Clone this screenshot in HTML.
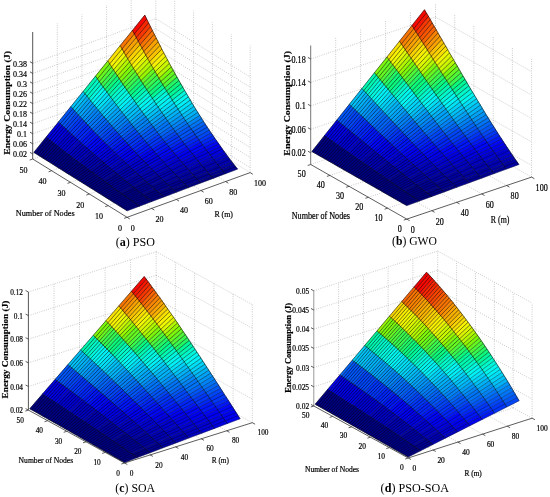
<!DOCTYPE html>
<html><head><meta charset="utf-8"><title>Energy consumption</title>
<style>html,body{margin:0;padding:0;background:#fff}svg{display:block}</style></head>
<body>
<svg width="550" height="497" viewBox="0 0 550 497">
<rect width="550" height="497" fill="#fff"/>
<g>
<path d="M57.3 150.1L57.3 23.1M81.9 141.1L81.9 14.1M106.6 132.2L106.6 5.2M131.2 123.2L131.2 -3.8M155.8 114.3L155.8 -12.7M32.7 154L155.8 109.3M155.8 109.3L250.2 167.6M32.7 143.9L155.8 99.2M155.8 99.2L250.2 157.5M32.7 133.8L155.8 89.2M155.8 89.2L250.2 147.5M32.7 123.8L155.8 79.1M155.8 79.1L250.2 137.4M32.7 113.7L155.8 69M155.8 69L250.2 127.3M32.7 103.7L155.8 59M155.8 59L250.2 117.3M32.7 93.6L155.8 48.9M155.8 48.9L250.2 107.2M32.7 83.5L155.8 38.9M155.8 38.9L250.2 97.2M32.7 73.5L155.8 28.8M155.8 28.8L250.2 87.1M32.7 63.4L155.8 18.7M155.8 18.7L250.2 77M174.7 126L174.7 -1M193.6 137.6L193.6 10.6M212.4 149.3L212.4 22.3M231.3 160.9L231.3 33.9M250.2 172.6L250.2 45.6M151.7 208.4L57.3 150.1M176.3 199.4L81.9 141.1M201 190.5L106.6 132.2M225.6 181.5L131.2 123.2M250.2 172.6L155.8 114.3M108.2 205.6L231.3 160.9M89.3 194L212.4 149.3M70.5 182.3L193.6 137.6M51.6 170.7L174.7 126M32.7 159L155.8 114.3" fill="none" stroke="#8a8a8a" stroke-width="0.5" stroke-dasharray="0.9 1.4"/>
<path d="M32.7 32L32.7 159" fill="none" stroke="#555" stroke-width="1"/>
<path d="M32.7 159L127.1 217.3L250.2 172.6M32.7 154l-2.7 -1.7M32.7 143.9l-2.7 -1.7M32.7 133.8l-2.7 -1.7M32.7 123.8l-2.7 -1.7M32.7 113.7l-2.7 -1.7M32.7 103.7l-2.7 -1.7M32.7 93.6l-2.7 -1.7M32.7 83.5l-2.7 -1.7M32.7 73.5l-2.7 -1.7M32.7 63.4l-2.7 -1.7M127.1 217.3l-3 1.1M108.2 205.6l-3 1.1M89.3 194l-3 1.1M70.5 182.3l-3 1.1M51.6 170.7l-3 1.1M32.7 159l-3 1.1M127.1 217.3l2.7 1.7M151.7 208.4l2.7 1.7M176.3 199.4l2.7 1.7M201 190.5l2.7 1.7M225.6 181.5l2.7 1.7M250.2 172.6l2.7 1.7" fill="none" stroke="#333" stroke-width="0.8"/>
<path d="M127.1 210.8L125.2 209.6L123.3 208.4L121.4 207.2L119.5 206L117.6 204.8L115.7 203.6L113.8 202.5L111.9 201.3L110 200.1L108.1 198.9L106.2 197.7L104.3 196.5L102.4 195.3L100.5 194.1L98.6 192.9L96.7 191.7L94.8 190.5L92.9 189.3L91 188.2L89.1 187L87.2 185.8L85.3 184.6L83.4 183.4L81.5 182.2L79.5 181L77.6 179.8L75.7 178.6L73.8 177.4L71.9 176.2L70 175L68.1 173.9L66.2 172.7L64.3 171.5L62.4 170.3L60.5 169.1L58.6 167.9L56.7 166.7L54.8 165.5L52.9 164.3L51 163.1L49.1 161.9L47.2 160.7L45.3 159.6L43.4 158.4L41.5 157.2L39.6 156L37.7 154.8L35.8 153.6L33.9 152.4L46.2 137.1L48.1 138.6L50 140.1L51.9 141.6L53.8 143.1L55.7 144.6L57.6 146L59.5 147.5L61.4 149L63.3 150.5L65.2 151.9L67.1 153.4L69 154.8L70.9 156.3L72.8 157.7L74.7 159.2L76.6 160.6L78.5 162L80.4 163.5L82.3 164.9L84.2 166.3L86.1 167.8L88 169.2L89.9 170.6L91.8 172L93.8 173.4L95.7 174.8L97.6 176.2L99.5 177.6L101.4 179L103.3 180.4L105.2 181.8L107.1 183.2L109 184.6L110.9 185.9L112.8 187.3L114.7 188.7L116.6 190L118.5 191.4L120.4 192.8L122.3 194.1L124.2 195.5L126.1 196.8L128 198.2L129.9 199.5L131.8 200.8L133.7 202.2L135.6 203.5L137.5 204.8L139.4 206.2z" fill="#000083" stroke="#000083" stroke-width="0.4"/>
<path d="M139.4 206.2L137.5 204.8L135.6 203.5L133.7 202.2L131.8 200.8L129.9 199.5L128 198.2L126.1 196.8L124.2 195.5L122.3 194.1L120.4 192.8L132.7 186.7L134.6 188.2L136.5 189.7L138.4 191.2L140.3 192.7L142.2 194.2L144.1 195.7L146 197.1L147.9 198.6L149.8 200.1L151.7 201.5z" fill="#000083" stroke="#000083" stroke-width="0.4"/>
<path d="M120.4 192.8L118.5 191.4L116.6 190L114.7 188.7L112.8 187.3L110.9 185.9L109 184.6L107.1 183.2L105.2 181.8L103.3 180.4L115.6 172.7L117.5 174.2L119.4 175.8L121.3 177.4L123.2 178.9L125.1 180.5L127 182L128.9 183.6L130.8 185.1L132.7 186.7z" fill="#000093" stroke="#000093" stroke-width="0.4"/>
<path d="M103.3 180.4L101.4 179L99.5 177.6L97.6 176.2L95.7 174.8L93.8 173.4L91.8 172L89.9 170.6L102.2 161.4L104.1 163L106.1 164.6L108 166.3L109.9 167.9L111.8 169.5L113.7 171.1L115.6 172.7z" fill="#0000a2" stroke="#0000a2" stroke-width="0.4"/>
<path d="M89.9 170.6L88 169.2L86.1 167.8L84.2 166.3L82.3 164.9L80.4 163.5L78.5 162L90.8 151.4L92.7 153.1L94.6 154.8L96.5 156.4L98.4 158.1L100.3 159.7L102.2 161.4z" fill="#0000b2" stroke="#0000b2" stroke-width="0.4"/>
<path d="M78.5 162L76.6 160.6L74.7 159.2L72.8 157.7L70.9 156.3L69 154.8L67.1 153.4L79.4 141.2L81.3 143L83.2 144.7L85.1 146.4L87 148.1L88.9 149.8L90.8 151.4z" fill="#0000c1" stroke="#0000c1" stroke-width="0.4"/>
<path d="M67.1 153.4L65.2 151.9L63.3 150.5L61.4 149L59.5 147.5L57.6 146L55.7 144.6L68 130.8L69.9 132.5L71.8 134.3L73.7 136L75.6 137.8L77.5 139.5L79.4 141.2z" fill="#0000d1" stroke="#0000d1" stroke-width="0.4"/>
<path d="M55.7 144.6L53.8 143.1L51.9 141.6L50 140.1L48.1 138.6L46.2 137.1L58.5 121.9L60.4 123.7L62.3 125.5L64.2 127.3L66.1 129L68 130.8z" fill="#0000e0" stroke="#0000e0" stroke-width="0.4"/>
<path d="M151.7 201.5L149.8 200.1L147.9 198.6L146 197.1L144.1 195.7L142.2 194.2L154.4 188.8L156.3 190.5L158.2 192.1L160.1 193.7L162 195.3L163.9 196.9z" fill="#000083" stroke="#000083" stroke-width="0.4"/>
<path d="M142.2 194.2L140.3 192.7L138.4 191.2L136.5 189.7L134.6 188.2L132.7 186.7L144.9 180.5L146.8 182.2L148.7 183.9L150.6 185.6L152.5 187.2L154.4 188.8z" fill="#000093" stroke="#000093" stroke-width="0.4"/>
<path d="M132.7 186.7L130.8 185.1L128.9 183.6L127 182L125.1 180.5L137.3 173.7L139.2 175.4L141.1 177.1L143 178.8L144.9 180.5z" fill="#0000a2" stroke="#0000a2" stroke-width="0.4"/>
<path d="M125.1 180.5L123.2 178.9L121.3 177.4L119.4 175.8L117.5 174.2L115.6 172.7L127.8 164.9L129.7 166.7L131.6 168.5L133.5 170.2L135.4 172L137.3 173.7z" fill="#0000b2" stroke="#0000b2" stroke-width="0.4"/>
<path d="M115.6 172.7L113.7 171.1L111.8 169.5L109.9 167.9L122.1 159.5L124 161.3L125.9 163.1L127.8 164.9z" fill="#0000c1" stroke="#0000c1" stroke-width="0.4"/>
<path d="M109.9 167.9L108 166.3L106.1 164.6L104.1 163L102.2 161.4L114.6 152.2L116.5 154L118.3 155.9L120.2 157.7L122.1 159.5z" fill="#0000d1" stroke="#0000d1" stroke-width="0.4"/>
<path d="M102.2 161.4L100.3 159.7L98.4 158.1L96.5 156.4L108.9 146.5L110.8 148.4L112.7 150.3L114.6 152.2z" fill="#0000e0" stroke="#0000e0" stroke-width="0.4"/>
<path d="M96.5 156.4L94.6 154.8L92.7 153.1L90.8 151.4L103.2 140.8L105.1 142.7L107 144.6L108.9 146.5z" fill="#0000f0" stroke="#0000f0" stroke-width="0.4"/>
<path d="M90.8 151.4L88.9 149.8L87 148.1L85.1 146.4L97.5 135L99.4 137L101.3 138.9L103.2 140.8z" fill="#0008f7" stroke="#0008f7" stroke-width="0.4"/>
<path d="M85.1 146.4L83.2 144.7L81.3 143L79.4 141.2L91.8 129.1L93.7 131.1L95.6 133.1L97.5 135z" fill="#0017f7" stroke="#0017f7" stroke-width="0.4"/>
<path d="M79.4 141.2L77.5 139.5L75.6 137.8L73.7 136L86.1 123.1L88 125.1L89.9 127.1L91.8 129.1z" fill="#0027f7" stroke="#0027f7" stroke-width="0.4"/>
<path d="M73.7 136L71.8 134.3L69.9 132.5L68 130.8L80.4 117L82.3 119L84.2 121.1L86.1 123.1z" fill="#0036f7" stroke="#0036f7" stroke-width="0.4"/>
<path d="M68 130.8L66.1 129L64.2 127.3L76.6 112.9L78.5 115L80.4 117z" fill="#0046f7" stroke="#0046f7" stroke-width="0.4"/>
<path d="M64.2 127.3L62.3 125.5L60.4 123.7L58.5 121.9L70.9 106.6L72.8 108.7L74.7 110.8L76.6 112.9z" fill="#0055f7" stroke="#0055f7" stroke-width="0.4"/>
<path d="M163.9 196.9L162 195.3L160.1 193.7L158.2 192.1L170.5 187.1L172.4 188.8L174.3 190.5L176.2 192.3z" fill="#000083" stroke="#000083" stroke-width="0.4"/>
<path d="M158.2 192.1L156.3 190.5L154.4 188.8L152.5 187.2L150.6 185.6L162.9 179.9L164.8 181.7L166.7 183.5L168.6 185.3L170.5 187.1z" fill="#000093" stroke="#000093" stroke-width="0.4"/>
<path d="M150.6 185.6L148.7 183.9L146.8 182.2L144.9 180.5L157.2 174.4L159.1 176.3L161 178.1L162.9 179.9z" fill="#0000a2" stroke="#0000a2" stroke-width="0.4"/>
<path d="M144.9 180.5L143 178.8L141.1 177.1L139.2 175.4L151.5 168.8L153.4 170.7L155.3 172.6L157.2 174.4z" fill="#0000b2" stroke="#0000b2" stroke-width="0.4"/>
<path d="M139.2 175.4L137.3 173.7L135.4 172L133.5 170.2L145.8 163L147.7 165L149.6 166.9L151.5 168.8z" fill="#0000c1" stroke="#0000c1" stroke-width="0.4"/>
<path d="M133.5 170.2L131.6 168.5L129.7 166.7L127.8 164.9L140.1 157.2L142 159.1L143.9 161.1L145.8 163z" fill="#0000d1" stroke="#0000d1" stroke-width="0.4"/>
<path d="M127.8 164.9L125.9 163.1L124 161.3L136.3 153.2L138.2 155.2L140.1 157.2z" fill="#0000e0" stroke="#0000e0" stroke-width="0.4"/>
<path d="M124 161.3L122.1 159.5L120.2 157.7L118.3 155.9L130.6 147.1L132.5 149.1L134.4 151.1L136.3 153.2z" fill="#0000f0" stroke="#0000f0" stroke-width="0.4"/>
<path d="M118.3 155.9L116.5 154L114.6 152.2L126.9 142.9L128.8 145L130.6 147.1z" fill="#0008f7" stroke="#0008f7" stroke-width="0.4"/>
<path d="M114.6 152.2L112.7 150.3L110.8 148.4L123.1 138.8L125 140.9L126.9 142.9z" fill="#0017f7" stroke="#0017f7" stroke-width="0.4"/>
<path d="M110.8 148.4L108.9 146.5L107 144.6L119.3 134.5L121.2 136.6L123.1 138.8z" fill="#0027f7" stroke="#0027f7" stroke-width="0.4"/>
<path d="M107 144.6L105.1 142.7L103.2 140.8L115.5 130.2L117.4 132.4L119.3 134.5z" fill="#0036f7" stroke="#0036f7" stroke-width="0.4"/>
<path d="M103.2 140.8L101.3 138.9L99.4 137L111.7 125.8L113.6 128L115.5 130.2z" fill="#0046f7" stroke="#0046f7" stroke-width="0.4"/>
<path d="M99.4 137L97.5 135L95.6 133.1L107.9 121.4L109.8 123.6L111.7 125.8z" fill="#0055f7" stroke="#0055f7" stroke-width="0.4"/>
<path d="M95.6 133.1L93.7 131.1L91.8 129.1L104.1 117L106 119.2L107.9 121.4z" fill="#0064f7" stroke="#0064f7" stroke-width="0.4"/>
<path d="M91.8 129.1L89.9 127.1L88 125.1L100.3 112.4L102.2 114.7L104.1 117z" fill="#0074f7" stroke="#0074f7" stroke-width="0.4"/>
<path d="M88 125.1L86.1 123.1L84.2 121.1L96.5 107.9L98.4 110.2L100.3 112.4z" fill="#0083f7" stroke="#0083f7" stroke-width="0.4"/>
<path d="M84.2 121.1L82.3 119L80.4 117L92.7 103.2L94.6 105.5L96.5 107.9z" fill="#0093f7" stroke="#0093f7" stroke-width="0.4"/>
<path d="M80.4 117L78.5 115L76.6 112.9L88.9 98.5L90.8 100.9L92.7 103.2z" fill="#00a2f7" stroke="#00a2f7" stroke-width="0.4"/>
<path d="M76.6 112.9L74.7 110.8L87 96.2L88.9 98.5z" fill="#00b2f7" stroke="#00b2f7" stroke-width="0.4"/>
<path d="M74.7 110.8L72.8 108.7L70.9 106.6L83.2 91.4L85.1 93.8L87 96.2z" fill="#00c1f7" stroke="#00c1f7" stroke-width="0.4"/>
<path d="M176.2 192.3L174.3 190.5L172.4 188.8L184.7 183.9L186.6 185.8L188.5 187.6z" fill="#000083" stroke="#000083" stroke-width="0.4"/>
<path d="M172.4 188.8L170.5 187.1L168.6 185.3L166.7 183.5L179 178.2L180.9 180.1L182.8 182L184.7 183.9z" fill="#000093" stroke="#000093" stroke-width="0.4"/>
<path d="M166.7 183.5L164.8 181.7L162.9 179.9L175.2 174.3L177.1 176.2L179 178.2z" fill="#0000a2" stroke="#0000a2" stroke-width="0.4"/>
<path d="M162.9 179.9L161 178.1L159.1 176.3L157.2 174.4L169.5 168.3L171.4 170.3L173.3 172.3L175.2 174.3z" fill="#0000b2" stroke="#0000b2" stroke-width="0.4"/>
<path d="M157.2 174.4L155.3 172.6L153.4 170.7L165.7 164.2L167.6 166.3L169.5 168.3z" fill="#0000c1" stroke="#0000c1" stroke-width="0.4"/>
<path d="M153.4 170.7L151.5 168.8L149.6 166.9L161.9 160.1L163.8 162.2L165.7 164.2z" fill="#0000d1" stroke="#0000d1" stroke-width="0.4"/>
<path d="M149.6 166.9L147.7 165L145.8 163L143.9 161.1L156.2 153.7L158.1 155.9L160 158L161.9 160.1z" fill="#0000e0" stroke="#0000e0" stroke-width="0.4"/>
<path d="M143.9 161.1L142 159.1L140.1 157.2L152.4 149.4L154.3 151.6L156.2 153.7z" fill="#0000f0" stroke="#0000f0" stroke-width="0.4"/>
<path d="M140.1 157.2L138.2 155.2L150.5 147.2L152.4 149.4z" fill="#0008f7" stroke="#0008f7" stroke-width="0.4"/>
<path d="M138.2 155.2L136.3 153.2L134.4 151.1L146.7 142.8L148.6 145L150.5 147.2z" fill="#0017f7" stroke="#0017f7" stroke-width="0.4"/>
<path d="M134.4 151.1L132.5 149.1L130.6 147.1L142.9 138.3L144.8 140.5L146.7 142.8z" fill="#0027f7" stroke="#0027f7" stroke-width="0.4"/>
<path d="M130.6 147.1L128.8 145L126.9 142.9L139.2 133.7L141.1 136L142.9 138.3z" fill="#0036f7" stroke="#0036f7" stroke-width="0.4"/>
<path d="M126.9 142.9L125 140.9L123.1 138.8L135.4 129.1L137.3 131.4L139.2 133.7z" fill="#0046f7" stroke="#0046f7" stroke-width="0.4"/>
<path d="M123.1 138.8L121.2 136.6L133.5 126.7L135.4 129.1z" fill="#0055f7" stroke="#0055f7" stroke-width="0.4"/>
<path d="M121.2 136.6L119.3 134.5L117.4 132.4L129.7 122L131.6 124.4L133.5 126.7z" fill="#0064f7" stroke="#0064f7" stroke-width="0.4"/>
<path d="M117.4 132.4L115.5 130.2L127.8 119.6L129.7 122z" fill="#0074f7" stroke="#0074f7" stroke-width="0.4"/>
<path d="M115.5 130.2L113.6 128L111.7 125.8L124 114.7L125.9 117.2L127.8 119.6z" fill="#0083f7" stroke="#0083f7" stroke-width="0.4"/>
<path d="M111.7 125.8L109.8 123.6L122.1 112.3L124 114.7z" fill="#0093f7" stroke="#0093f7" stroke-width="0.4"/>
<path d="M109.8 123.6L107.9 121.4L106 119.2L118.3 107.3L120.2 109.8L122.1 112.3z" fill="#00a2f7" stroke="#00a2f7" stroke-width="0.4"/>
<path d="M106 119.2L104.1 117L116.4 104.8L118.3 107.3z" fill="#00b2f7" stroke="#00b2f7" stroke-width="0.4"/>
<path d="M104.1 117L102.2 114.7L100.3 112.4L112.6 99.8L114.5 102.3L116.4 104.8z" fill="#00c1f7" stroke="#00c1f7" stroke-width="0.4"/>
<path d="M100.3 112.4L98.4 110.2L110.7 97.2L112.6 99.8z" fill="#00d1f7" stroke="#00d1f7" stroke-width="0.4"/>
<path d="M98.4 110.2L96.5 107.9L94.6 105.5L106.9 92L108.8 94.6L110.7 97.2z" fill="#00e0f7" stroke="#00e0f7" stroke-width="0.4"/>
<path d="M94.6 105.5L92.7 103.2L105 89.4L106.9 92z" fill="#00f0f7" stroke="#00f0f7" stroke-width="0.4"/>
<path d="M92.7 103.2L90.8 100.9L103.1 86.8L105 89.4z" fill="#00f7ef" stroke="#00f7ef" stroke-width="0.4"/>
<path d="M90.8 100.9L88.9 98.5L101.2 84.2L103.1 86.8z" fill="#00f7de" stroke="#00f7de" stroke-width="0.4"/>
<path d="M88.9 98.5L87 96.2L85.1 93.8L97.4 78.8L99.3 81.5L101.2 84.2z" fill="#00f7ca" stroke="#00f7ca" stroke-width="0.4"/>
<path d="M85.1 93.8L83.2 91.4L95.5 76.1L97.4 78.8z" fill="#00f7b2" stroke="#00f7b2" stroke-width="0.4"/>
<path d="M188.5 187.6L186.6 185.8L198.9 181L200.8 183z" fill="#000083" stroke="#000083" stroke-width="0.4"/>
<path d="M186.6 185.8L184.7 183.9L182.8 182L180.9 180.1L193.2 174.9L195.1 177L197 179L198.9 181z" fill="#000093" stroke="#000093" stroke-width="0.4"/>
<path d="M180.9 180.1L179 178.2L177.1 176.2L189.4 170.8L191.3 172.9L193.2 174.9z" fill="#0000a2" stroke="#0000a2" stroke-width="0.4"/>
<path d="M177.1 176.2L175.2 174.3L173.3 172.3L185.6 166.5L187.5 168.7L189.4 170.8z" fill="#0000b2" stroke="#0000b2" stroke-width="0.4"/>
<path d="M173.3 172.3L171.4 170.3L169.5 168.3L181.8 162.2L183.7 164.4L185.6 166.5z" fill="#0000c1" stroke="#0000c1" stroke-width="0.4"/>
<path d="M169.5 168.3L167.6 166.3L165.7 164.2L178 157.8L179.9 160L181.8 162.2z" fill="#0000d1" stroke="#0000d1" stroke-width="0.4"/>
<path d="M165.7 164.2L163.8 162.2L161.9 160.1L174.2 153.3L176.1 155.5L178 157.8z" fill="#0000e0" stroke="#0000e0" stroke-width="0.4"/>
<path d="M161.9 160.1L160 158L172.3 151L174.2 153.3z" fill="#0000f0" stroke="#0000f0" stroke-width="0.4"/>
<path d="M160 158L158.1 155.9L156.2 153.7L168.5 146.4L170.4 148.7L172.3 151z" fill="#0008f7" stroke="#0008f7" stroke-width="0.4"/>
<path d="M156.2 153.7L154.3 151.6L152.4 149.4L164.7 141.7L166.6 144L168.5 146.4z" fill="#0017f7" stroke="#0017f7" stroke-width="0.4"/>
<path d="M152.4 149.4L150.5 147.2L162.8 139.3L164.7 141.7z" fill="#0027f7" stroke="#0027f7" stroke-width="0.4"/>
<path d="M150.5 147.2L148.6 145L146.7 142.8L159 134.4L160.9 136.9L162.8 139.3z" fill="#0036f7" stroke="#0036f7" stroke-width="0.4"/>
<path d="M146.7 142.8L144.8 140.5L157.1 132L159 134.4z" fill="#0046f7" stroke="#0046f7" stroke-width="0.4"/>
<path d="M144.8 140.5L142.9 138.3L141.1 136L153.4 127L155.2 129.5L157.1 132z" fill="#0055f7" stroke="#0055f7" stroke-width="0.4"/>
<path d="M141.1 136L139.2 133.7L151.5 124.5L153.4 127z" fill="#0064f7" stroke="#0064f7" stroke-width="0.4"/>
<path d="M139.2 133.7L137.3 131.4L149.6 122L151.5 124.5z" fill="#0074f7" stroke="#0074f7" stroke-width="0.4"/>
<path d="M137.3 131.4L135.4 129.1L133.5 126.7L145.8 116.8L147.7 119.4L149.6 122z" fill="#0083f7" stroke="#0083f7" stroke-width="0.4"/>
<path d="M133.5 126.7L131.6 124.4L143.9 114.2L145.8 116.8z" fill="#0093f7" stroke="#0093f7" stroke-width="0.4"/>
<path d="M131.6 124.4L129.7 122L142 111.6L143.9 114.2z" fill="#00a2f7" stroke="#00a2f7" stroke-width="0.4"/>
<path d="M129.7 122L127.8 119.6L140.1 109L142 111.6z" fill="#00b2f7" stroke="#00b2f7" stroke-width="0.4"/>
<path d="M127.8 119.6L125.9 117.2L124 114.7L136.3 103.6L138.2 106.3L140.1 109z" fill="#00c1f7" stroke="#00c1f7" stroke-width="0.4"/>
<path d="M124 114.7L122.1 112.3L134.4 100.9L136.3 103.6z" fill="#00d1f7" stroke="#00d1f7" stroke-width="0.4"/>
<path d="M122.1 112.3L120.2 109.8L132.5 98.2L134.4 100.9z" fill="#00e0f7" stroke="#00e0f7" stroke-width="0.4"/>
<path d="M120.2 109.8L118.3 107.3L130.6 95.5L132.5 98.2z" fill="#00f0f7" stroke="#00f0f7" stroke-width="0.4"/>
<path d="M118.3 107.3L116.4 104.8L128.7 92.7L130.6 95.5z" fill="#00f7ef" stroke="#00f7ef" stroke-width="0.4"/>
<path d="M116.4 104.8L114.5 102.3L112.6 99.8L124.9 87.1L126.8 89.9L128.7 92.7z" fill="#00f7de" stroke="#00f7de" stroke-width="0.4"/>
<path d="M112.6 99.8L110.7 97.2L123 84.3L124.9 87.1z" fill="#00f7ca" stroke="#00f7ca" stroke-width="0.4"/>
<path d="M110.7 97.2L108.8 94.6L121.1 81.4L123 84.3z" fill="#00f7b2" stroke="#00f7b2" stroke-width="0.4"/>
<path d="M108.8 94.6L106.9 92L119.2 78.5L121.1 81.4z" fill="#00f797" stroke="#00f797" stroke-width="0.4"/>
<path d="M106.9 92L105 89.4L117.3 75.7L119.2 78.5z" fill="#0cf77c" stroke="#0cf77c" stroke-width="0.4"/>
<path d="M105 89.4L103.1 86.8L115.4 72.7L117.3 75.7z" fill="#22f766" stroke="#22f766" stroke-width="0.4"/>
<path d="M103.1 86.8L101.2 84.2L113.5 69.8L115.4 72.7z" fill="#39f74f" stroke="#39f74f" stroke-width="0.4"/>
<path d="M101.2 84.2L99.3 81.5L111.6 66.8L113.5 69.8z" fill="#4ff739" stroke="#4ff739" stroke-width="0.4"/>
<path d="M99.3 81.5L97.4 78.8L109.7 63.9L111.6 66.8z" fill="#66f722" stroke="#66f722" stroke-width="0.4"/>
<path d="M97.4 78.8L95.5 76.1L107.8 60.9L109.7 63.9z" fill="#7cf70c" stroke="#7cf70c" stroke-width="0.4"/>
<path d="M200.8 183L198.9 181L211.1 176.2L213 178.4z" fill="#000083" stroke="#000083" stroke-width="0.4"/>
<path d="M198.9 181L197 179L195.1 177L207.4 171.9L209.3 174.1L211.1 176.2z" fill="#000093" stroke="#000093" stroke-width="0.4"/>
<path d="M195.1 177L193.2 174.9L191.3 172.9L203.6 167.5L205.5 169.7L207.4 171.9z" fill="#0000a2" stroke="#0000a2" stroke-width="0.4"/>
<path d="M191.3 172.9L189.4 170.8L187.5 168.7L199.8 163L201.7 165.3L203.6 167.5z" fill="#0000b2" stroke="#0000b2" stroke-width="0.4"/>
<path d="M187.5 168.7L185.6 166.5L197.9 160.7L199.8 163z" fill="#0000c1" stroke="#0000c1" stroke-width="0.4"/>
<path d="M185.6 166.5L183.7 164.4L181.8 162.2L194.1 156.1L196 158.4L197.9 160.7z" fill="#0000d1" stroke="#0000d1" stroke-width="0.4"/>
<path d="M181.8 162.2L179.9 160L192.2 153.7L194.1 156.1z" fill="#0000e0" stroke="#0000e0" stroke-width="0.4"/>
<path d="M179.9 160L178 157.8L176.1 155.5L188.4 148.9L190.3 151.3L192.2 153.7z" fill="#0000f0" stroke="#0000f0" stroke-width="0.4"/>
<path d="M176.1 155.5L174.2 153.3L186.5 146.5L188.4 148.9z" fill="#0008f7" stroke="#0008f7" stroke-width="0.4"/>
<path d="M174.2 153.3L172.3 151L170.4 148.7L182.7 141.5L184.6 144L186.5 146.5z" fill="#0017f7" stroke="#0017f7" stroke-width="0.4"/>
<path d="M170.4 148.7L168.5 146.4L180.8 139L182.7 141.5z" fill="#0027f7" stroke="#0027f7" stroke-width="0.4"/>
<path d="M168.5 146.4L166.6 144L164.7 141.7L177 133.9L178.9 136.5L180.8 139z" fill="#0036f7" stroke="#0036f7" stroke-width="0.4"/>
<path d="M164.7 141.7L162.8 139.3L175.1 131.3L177 133.9z" fill="#0046f7" stroke="#0046f7" stroke-width="0.4"/>
<path d="M162.8 139.3L160.9 136.9L173.2 128.7L175.1 131.3z" fill="#0055f7" stroke="#0055f7" stroke-width="0.4"/>
<path d="M160.9 136.9L159 134.4L171.3 126.1L173.2 128.7z" fill="#0064f7" stroke="#0064f7" stroke-width="0.4"/>
<path d="M159 134.4L157.1 132L155.2 129.5L167.5 120.7L169.4 123.4L171.3 126.1z" fill="#0074f7" stroke="#0074f7" stroke-width="0.4"/>
<path d="M155.2 129.5L153.4 127L165.7 118L167.5 120.7z" fill="#0083f7" stroke="#0083f7" stroke-width="0.4"/>
<path d="M153.4 127L151.5 124.5L163.8 115.3L165.7 118z" fill="#0093f7" stroke="#0093f7" stroke-width="0.4"/>
<path d="M151.5 124.5L149.6 122L161.9 112.5L163.8 115.3z" fill="#00a2f7" stroke="#00a2f7" stroke-width="0.4"/>
<path d="M149.6 122L147.7 119.4L160 109.7L161.9 112.5z" fill="#00b2f7" stroke="#00b2f7" stroke-width="0.4"/>
<path d="M147.7 119.4L145.8 116.8L158.1 106.9L160 109.7z" fill="#00c1f7" stroke="#00c1f7" stroke-width="0.4"/>
<path d="M145.8 116.8L143.9 114.2L156.2 104.1L158.1 106.9z" fill="#00d1f7" stroke="#00d1f7" stroke-width="0.4"/>
<path d="M143.9 114.2L142 111.6L154.3 101.2L156.2 104.1z" fill="#00e0f7" stroke="#00e0f7" stroke-width="0.4"/>
<path d="M142 111.6L140.1 109L152.4 98.4L154.3 101.2z" fill="#00f0f7" stroke="#00f0f7" stroke-width="0.4"/>
<path d="M140.1 109L138.2 106.3L150.5 95.5L152.4 98.4z" fill="#00f7ef" stroke="#00f7ef" stroke-width="0.4"/>
<path d="M138.2 106.3L136.3 103.6L148.6 92.5L150.5 95.5z" fill="#00f7de" stroke="#00f7de" stroke-width="0.4"/>
<path d="M136.3 103.6L134.4 100.9L146.7 89.6L148.6 92.5z" fill="#00f7ca" stroke="#00f7ca" stroke-width="0.4"/>
<path d="M134.4 100.9L132.5 98.2L144.8 86.6L146.7 89.6z" fill="#00f7b2" stroke="#00f7b2" stroke-width="0.4"/>
<path d="M132.5 98.2L130.6 95.5L142.9 83.6L144.8 86.6z" fill="#00f797" stroke="#00f797" stroke-width="0.4"/>
<path d="M130.6 95.5L128.7 92.7L141 80.6L142.9 83.6z" fill="#0cf77c" stroke="#0cf77c" stroke-width="0.4"/>
<path d="M128.7 92.7L126.8 89.9L139.1 77.5L141 80.6z" fill="#22f766" stroke="#22f766" stroke-width="0.4"/>
<path d="M126.8 89.9L124.9 87.1L137.2 74.4L139.1 77.5z" fill="#39f74f" stroke="#39f74f" stroke-width="0.4"/>
<path d="M124.9 87.1L123 84.3L135.3 71.3L137.2 74.4z" fill="#4ff739" stroke="#4ff739" stroke-width="0.4"/>
<path d="M123 84.3L121.1 81.4L133.4 68.2L135.3 71.3z" fill="#66f722" stroke="#66f722" stroke-width="0.4"/>
<path d="M121.1 81.4L119.2 78.5L131.5 65L133.4 68.2z" fill="#7cf70c" stroke="#7cf70c" stroke-width="0.4"/>
<path d="M119.2 78.5L117.3 75.7L129.6 61.9L131.5 65z" fill="#97f700" stroke="#97f700" stroke-width="0.4"/>
<path d="M117.3 75.7L115.4 72.7L127.7 58.7L129.6 61.9z" fill="#b2f700" stroke="#b2f700" stroke-width="0.4"/>
<path d="M115.4 72.7L113.5 69.8L125.8 55.4L127.7 58.7z" fill="#caf700" stroke="#caf700" stroke-width="0.4"/>
<path d="M113.5 69.8L111.6 66.8L123.9 52.2L125.8 55.4z" fill="#eff700" stroke="#eff700" stroke-width="0.4"/>
<path d="M111.6 66.8L109.7 63.9L122.1 48.9L123.9 52.2z" fill="#f7f000" stroke="#f7f000" stroke-width="0.4"/>
<path d="M109.7 63.9L107.8 60.9L120.2 45.6L122.1 48.9z" fill="#f7e000" stroke="#f7e000" stroke-width="0.4"/>
<path d="M213 178.4L211.1 176.2L223.4 171.5L225.3 173.7z" fill="#000083" stroke="#000083" stroke-width="0.4"/>
<path d="M211.1 176.2L209.3 174.1L221.5 169.2L223.4 171.5z" fill="#000093" stroke="#000093" stroke-width="0.4"/>
<path d="M209.3 174.1L207.4 171.9L205.5 169.7L217.7 164.6L219.6 166.9L221.5 169.2z" fill="#0000a2" stroke="#0000a2" stroke-width="0.4"/>
<path d="M205.5 169.7L203.6 167.5L201.7 165.3L214 159.8L215.8 162.2L217.7 164.6z" fill="#0000b2" stroke="#0000b2" stroke-width="0.4"/>
<path d="M201.7 165.3L199.8 163L212.1 157.4L214 159.8z" fill="#0000c1" stroke="#0000c1" stroke-width="0.4"/>
<path d="M199.8 163L197.9 160.7L210.2 154.9L212.1 157.4z" fill="#0000d1" stroke="#0000d1" stroke-width="0.4"/>
<path d="M197.9 160.7L196 158.4L194.1 156.1L206.4 150L208.3 152.5L210.2 154.9z" fill="#0000e0" stroke="#0000e0" stroke-width="0.4"/>
<path d="M194.1 156.1L192.2 153.7L204.5 147.4L206.4 150z" fill="#0000f0" stroke="#0000f0" stroke-width="0.4"/>
<path d="M192.2 153.7L190.3 151.3L188.4 148.9L200.7 142.3L202.6 144.9L204.5 147.4z" fill="#0008f7" stroke="#0008f7" stroke-width="0.4"/>
<path d="M188.4 148.9L186.5 146.5L198.8 139.7L200.7 142.3z" fill="#0017f7" stroke="#0017f7" stroke-width="0.4"/>
<path d="M186.5 146.5L184.6 144L196.9 137L198.8 139.7z" fill="#0027f7" stroke="#0027f7" stroke-width="0.4"/>
<path d="M184.6 144L182.7 141.5L195 134.3L196.9 137z" fill="#0036f7" stroke="#0036f7" stroke-width="0.4"/>
<path d="M182.7 141.5L180.8 139L193.1 131.6L195 134.3z" fill="#0046f7" stroke="#0046f7" stroke-width="0.4"/>
<path d="M180.8 139L178.9 136.5L177 133.9L189.3 126.2L191.2 128.9L193.1 131.6z" fill="#0055f7" stroke="#0055f7" stroke-width="0.4"/>
<path d="M177 133.9L175.1 131.3L187.4 123.4L189.3 126.2z" fill="#0064f7" stroke="#0064f7" stroke-width="0.4"/>
<path d="M175.1 131.3L173.2 128.7L185.5 120.6L187.4 123.4z" fill="#0074f7" stroke="#0074f7" stroke-width="0.4"/>
<path d="M173.2 128.7L171.3 126.1L183.6 117.7L185.5 120.6z" fill="#0083f7" stroke="#0083f7" stroke-width="0.4"/>
<path d="M171.3 126.1L169.4 123.4L181.7 114.8L183.6 117.7z" fill="#0093f7" stroke="#0093f7" stroke-width="0.4"/>
<path d="M169.4 123.4L167.5 120.7L179.8 111.9L181.7 114.8z" fill="#00a2f7" stroke="#00a2f7" stroke-width="0.4"/>
<path d="M167.5 120.7L165.7 118L178 109L179.8 111.9z" fill="#00b2f7" stroke="#00b2f7" stroke-width="0.4"/>
<path d="M165.7 118L163.8 115.3L176.1 106.1L178 109z" fill="#00c1f7" stroke="#00c1f7" stroke-width="0.4"/>
<path d="M163.8 115.3L161.9 112.5L174.2 103.1L176.1 106.1z" fill="#00d1f7" stroke="#00d1f7" stroke-width="0.4"/>
<path d="M161.9 112.5L160 109.7L172.3 100.1L174.2 103.1z" fill="#00e0f7" stroke="#00e0f7" stroke-width="0.4"/>
<path d="M160 109.7L158.1 106.9L170.4 97L172.3 100.1z" fill="#00f0f7" stroke="#00f0f7" stroke-width="0.4"/>
<path d="M158.1 106.9L156.2 104.1L168.5 94L170.4 97z" fill="#00f7ef" stroke="#00f7ef" stroke-width="0.4"/>
<path d="M156.2 104.1L154.3 101.2L166.6 90.9L168.5 94z" fill="#00f7de" stroke="#00f7de" stroke-width="0.4"/>
<path d="M154.3 101.2L152.4 98.4L164.7 87.8L166.6 90.9z" fill="#00f7ca" stroke="#00f7ca" stroke-width="0.4"/>
<path d="M152.4 98.4L150.5 95.5L162.8 84.6L164.7 87.8z" fill="#00f797" stroke="#00f797" stroke-width="0.4"/>
<path d="M150.5 95.5L148.6 92.5L160.9 81.4L162.8 84.6z" fill="#0cf77c" stroke="#0cf77c" stroke-width="0.4"/>
<path d="M148.6 92.5L146.7 89.6L159 78.2L160.9 81.4z" fill="#22f766" stroke="#22f766" stroke-width="0.4"/>
<path d="M146.7 89.6L144.8 86.6L157.1 75L159 78.2z" fill="#39f74f" stroke="#39f74f" stroke-width="0.4"/>
<path d="M144.8 86.6L142.9 83.6L155.2 71.7L157.1 75z" fill="#4ff739" stroke="#4ff739" stroke-width="0.4"/>
<path d="M142.9 83.6L141 80.6L153.3 68.4L155.2 71.7z" fill="#66f722" stroke="#66f722" stroke-width="0.4"/>
<path d="M141 80.6L139.1 77.5L151.4 65.1L153.3 68.4z" fill="#97f700" stroke="#97f700" stroke-width="0.4"/>
<path d="M139.1 77.5L137.2 74.4L149.5 61.8L151.4 65.1z" fill="#b2f700" stroke="#b2f700" stroke-width="0.4"/>
<path d="M137.2 74.4L135.3 71.3L147.6 58.4L149.5 61.8z" fill="#caf700" stroke="#caf700" stroke-width="0.4"/>
<path d="M135.3 71.3L133.4 68.2L145.7 55L147.6 58.4z" fill="#def700" stroke="#def700" stroke-width="0.4"/>
<path d="M133.4 68.2L131.5 65L143.8 51.5L145.7 55z" fill="#f7f000" stroke="#f7f000" stroke-width="0.4"/>
<path d="M131.5 65L129.6 61.9L142 48.1L143.8 51.5z" fill="#f7e000" stroke="#f7e000" stroke-width="0.4"/>
<path d="M129.6 61.9L127.7 58.7L140.1 44.6L142 48.1z" fill="#f7d100" stroke="#f7d100" stroke-width="0.4"/>
<path d="M127.7 58.7L125.8 55.4L138.2 41.1L140.1 44.6z" fill="#f7b200" stroke="#f7b200" stroke-width="0.4"/>
<path d="M125.8 55.4L123.9 52.2L136.3 37.5L138.2 41.1z" fill="#f7a200" stroke="#f7a200" stroke-width="0.4"/>
<path d="M123.9 52.2L122.1 48.9L134.4 34L136.3 37.5z" fill="#f79300" stroke="#f79300" stroke-width="0.4"/>
<path d="M122.1 48.9L120.2 45.6L132.5 30.4L134.4 34z" fill="#f77400" stroke="#f77400" stroke-width="0.4"/>
<path d="M225.3 173.7L223.4 171.5L221.5 169.2L233.8 164.3L235.7 166.7L237.6 169.1z" fill="#000093" stroke="#000093" stroke-width="0.4"/>
<path d="M221.5 169.2L219.6 166.9L231.9 161.9L233.8 164.3z" fill="#0000a2" stroke="#0000a2" stroke-width="0.4"/>
<path d="M219.6 166.9L217.7 164.6L215.8 162.2L228.1 156.9L230 159.4L231.9 161.9z" fill="#0000b2" stroke="#0000b2" stroke-width="0.4"/>
<path d="M215.8 162.2L214 159.8L226.2 154.3L228.1 156.9z" fill="#0000c1" stroke="#0000c1" stroke-width="0.4"/>
<path d="M214 159.8L212.1 157.4L224.3 151.8L226.2 154.3z" fill="#0000d1" stroke="#0000d1" stroke-width="0.4"/>
<path d="M212.1 157.4L210.2 154.9L208.3 152.5L220.6 146.5L222.4 149.1L224.3 151.8z" fill="#0000e0" stroke="#0000e0" stroke-width="0.4"/>
<path d="M208.3 152.5L206.4 150L218.7 143.8L220.6 146.5z" fill="#0000f0" stroke="#0000f0" stroke-width="0.4"/>
<path d="M206.4 150L204.5 147.4L216.8 141.1L218.7 143.8z" fill="#0008f7" stroke="#0008f7" stroke-width="0.4"/>
<path d="M204.5 147.4L202.6 144.9L214.9 138.4L216.8 141.1z" fill="#0017f7" stroke="#0017f7" stroke-width="0.4"/>
<path d="M202.6 144.9L200.7 142.3L213 135.6L214.9 138.4z" fill="#0027f7" stroke="#0027f7" stroke-width="0.4"/>
<path d="M200.7 142.3L198.8 139.7L211.1 132.9L213 135.6z" fill="#0036f7" stroke="#0036f7" stroke-width="0.4"/>
<path d="M198.8 139.7L196.9 137L209.2 130L211.1 132.9z" fill="#0046f7" stroke="#0046f7" stroke-width="0.4"/>
<path d="M196.9 137L195 134.3L193.1 131.6L205.4 124.3L207.3 127.2L209.2 130z" fill="#0055f7" stroke="#0055f7" stroke-width="0.4"/>
<path d="M193.1 131.6L191.2 128.9L203.5 121.4L205.4 124.3z" fill="#0064f7" stroke="#0064f7" stroke-width="0.4"/>
<path d="M191.2 128.9L189.3 126.2L201.6 118.4L203.5 121.4z" fill="#0074f7" stroke="#0074f7" stroke-width="0.4"/>
<path d="M189.3 126.2L187.4 123.4L199.7 115.4L201.6 118.4z" fill="#0083f7" stroke="#0083f7" stroke-width="0.4"/>
<path d="M187.4 123.4L185.5 120.6L197.8 112.4L199.7 115.4z" fill="#00a2f7" stroke="#00a2f7" stroke-width="0.4"/>
<path d="M185.5 120.6L183.6 117.7L195.9 109.4L197.8 112.4z" fill="#00b2f7" stroke="#00b2f7" stroke-width="0.4"/>
<path d="M183.6 117.7L181.7 114.8L194 106.3L195.9 109.4z" fill="#00c1f7" stroke="#00c1f7" stroke-width="0.4"/>
<path d="M181.7 114.8L179.8 111.9L192.1 103.2L194 106.3z" fill="#00d1f7" stroke="#00d1f7" stroke-width="0.4"/>
<path d="M179.8 111.9L178 109L190.3 100L192.1 103.2z" fill="#00e0f7" stroke="#00e0f7" stroke-width="0.4"/>
<path d="M178 109L176.1 106.1L188.4 96.9L190.3 100z" fill="#00f0f7" stroke="#00f0f7" stroke-width="0.4"/>
<path d="M176.1 106.1L174.2 103.1L186.5 93.6L188.4 96.9z" fill="#00f7ef" stroke="#00f7ef" stroke-width="0.4"/>
<path d="M174.2 103.1L172.3 100.1L184.6 90.4L186.5 93.6z" fill="#00f7de" stroke="#00f7de" stroke-width="0.4"/>
<path d="M172.3 100.1L170.4 97L182.7 87.1L184.6 90.4z" fill="#00f7b2" stroke="#00f7b2" stroke-width="0.4"/>
<path d="M170.4 97L168.5 94L180.8 83.8L182.7 87.1z" fill="#00f797" stroke="#00f797" stroke-width="0.4"/>
<path d="M168.5 94L166.6 90.9L178.9 80.5L180.8 83.8z" fill="#0cf77c" stroke="#0cf77c" stroke-width="0.4"/>
<path d="M166.6 90.9L164.7 87.8L177 77.1L178.9 80.5z" fill="#22f766" stroke="#22f766" stroke-width="0.4"/>
<path d="M164.7 87.8L162.8 84.6L175.1 73.7L177 77.1z" fill="#4ff739" stroke="#4ff739" stroke-width="0.4"/>
<path d="M162.8 84.6L160.9 81.4L173.2 70.3L175.1 73.7z" fill="#66f722" stroke="#66f722" stroke-width="0.4"/>
<path d="M160.9 81.4L159 78.2L171.3 66.9L173.2 70.3z" fill="#7cf70c" stroke="#7cf70c" stroke-width="0.4"/>
<path d="M159 78.2L157.1 75L169.4 63.4L171.3 66.9z" fill="#b2f700" stroke="#b2f700" stroke-width="0.4"/>
<path d="M157.1 75L155.2 71.7L167.5 59.8L169.4 63.4z" fill="#caf700" stroke="#caf700" stroke-width="0.4"/>
<path d="M155.2 71.7L153.3 68.4L165.6 56.3L167.5 59.8z" fill="#def700" stroke="#def700" stroke-width="0.4"/>
<path d="M153.3 68.4L151.4 65.1L163.7 52.7L165.6 56.3z" fill="#f7f000" stroke="#f7f000" stroke-width="0.4"/>
<path d="M151.4 65.1L149.5 61.8L161.8 49.1L163.7 52.7z" fill="#f7e000" stroke="#f7e000" stroke-width="0.4"/>
<path d="M149.5 61.8L147.6 58.4L160 45.4L161.8 49.1z" fill="#f7c100" stroke="#f7c100" stroke-width="0.4"/>
<path d="M147.6 58.4L145.7 55L158.1 41.8L160 45.4z" fill="#f7b200" stroke="#f7b200" stroke-width="0.4"/>
<path d="M145.7 55L143.8 51.5L156.2 38L158.1 41.8z" fill="#f7a200" stroke="#f7a200" stroke-width="0.4"/>
<path d="M143.8 51.5L142 48.1L154.3 34.3L156.2 38z" fill="#f78300" stroke="#f78300" stroke-width="0.4"/>
<path d="M142 48.1L140.1 44.6L152.4 30.5L154.3 34.3z" fill="#f77400" stroke="#f77400" stroke-width="0.4"/>
<path d="M140.1 44.6L138.2 41.1L150.5 26.7L152.4 30.5z" fill="#f75500" stroke="#f75500" stroke-width="0.4"/>
<path d="M138.2 41.1L136.3 37.5L148.6 22.9L150.5 26.7z" fill="#f73600" stroke="#f73600" stroke-width="0.4"/>
<path d="M136.3 37.5L134.4 34L146.7 19L148.6 22.9z" fill="#f72700" stroke="#f72700" stroke-width="0.4"/>
<path d="M134.4 34L132.5 30.4L144.8 15.1L146.7 19z" fill="#f70800" stroke="#f70800" stroke-width="0.4"/>
<path d="M127.1 210.8L237.6 169.1M125.2 209.6L235.7 166.7M123.3 208.4L233.8 164.3M121.4 207.2L231.9 161.9M119.5 206L230 159.4M117.6 204.8L228.1 156.9M115.7 203.6L226.2 154.3M113.8 202.5L224.3 151.8" fill="none" stroke="#000" stroke-width="0.65" stroke-opacity="0.5"/>
<path d="M111.9 201.3L222.4 149.1M110 200.1L220.6 146.5M108.1 198.9L218.7 143.8M106.2 197.7L216.8 141.1M104.3 196.5L214.9 138.4M102.4 195.3L213 135.6M100.5 194.1L211.1 132.9" fill="none" stroke="#000" stroke-width="0.65" stroke-opacity="0.6"/>
<path d="M98.6 192.9L209.2 130M96.7 191.7L207.3 127.2M94.8 190.5L205.4 124.3M92.9 189.3L203.5 121.4M91 188.2L201.6 118.4M89.1 187L199.7 115.4M87.2 185.8L197.8 112.4M85.3 184.6L195.9 109.4M83.4 183.4L194 106.3M81.5 182.2L192.1 103.2" fill="none" stroke="#000" stroke-width="0.65" stroke-opacity="0.7"/>
<path d="M79.5 181L190.3 100M77.6 179.8L188.4 96.9M75.7 178.6L186.5 93.6M73.8 177.4L184.6 90.4M71.9 176.2L182.7 87.1M70 175L180.8 83.8M68.1 173.9L178.9 80.5M66.2 172.7L177 77.1M64.3 171.5L175.1 73.7M62.4 170.3L173.2 70.3M60.5 169.1L171.3 66.9M58.6 167.9L169.4 63.4M56.7 166.7L167.5 59.8M54.8 165.5L165.6 56.3M52.9 164.3L163.7 52.7M51 163.1L161.8 49.1M49.1 161.9L160 45.4M47.2 160.7L158.1 41.8M45.3 159.6L156.2 38M43.4 158.4L154.3 34.3M41.5 157.2L152.4 30.5M39.6 156L150.5 26.7M37.7 154.8L148.6 22.9M35.8 153.6L146.7 19M33.9 152.4L144.8 15.1" fill="none" stroke="#000" stroke-width="0.65" stroke-opacity="0.8"/>
<path d="M127.1 210.8L125.2 209.6L123.3 208.4L121.4 207.2L119.5 206L117.6 204.8L115.7 203.6L113.8 202.5L111.9 201.3L110 200.1L108.1 198.9L106.2 197.7L104.3 196.5L102.4 195.3L100.5 194.1L98.6 192.9L96.7 191.7L94.8 190.5L92.9 189.3L91 188.2L89.1 187L87.2 185.8L85.3 184.6L83.4 183.4L81.5 182.2L79.5 181L77.6 179.8L75.7 178.6L73.8 177.4L71.9 176.2L70 175L68.1 173.9L66.2 172.7L64.3 171.5L62.4 170.3L60.5 169.1L58.6 167.9L56.7 166.7L54.8 165.5L52.9 164.3L51 163.1L49.1 161.9L47.2 160.7L45.3 159.6L43.4 158.4L41.5 157.2L39.6 156L37.7 154.8L35.8 153.6L33.9 152.4M139.4 206.2L137.5 204.8L135.6 203.5L133.7 202.2L131.8 200.8L129.9 199.5L128 198.2L126.1 196.8L124.2 195.5L122.3 194.1L120.4 192.8L118.5 191.4L116.6 190L114.7 188.7L112.8 187.3L110.9 185.9L109 184.6L107.1 183.2L105.2 181.8L103.3 180.4L101.4 179L99.5 177.6L97.6 176.2L95.7 174.8L93.8 173.4L91.8 172L89.9 170.6L88 169.2L86.1 167.8L84.2 166.3L82.3 164.9L80.4 163.5L78.5 162L76.6 160.6L74.7 159.2L72.8 157.7L70.9 156.3L69 154.8L67.1 153.4L65.2 151.9L63.3 150.5L61.4 149L59.5 147.5L57.6 146L55.7 144.6L53.8 143.1L51.9 141.6L50 140.1L48.1 138.6L46.2 137.1M151.7 201.5L149.8 200.1L147.9 198.6L146 197.1L144.1 195.7L142.2 194.2L140.3 192.7L138.4 191.2L136.5 189.7L134.6 188.2L132.7 186.7L130.8 185.1L128.9 183.6L127 182L125.1 180.5L123.2 178.9L121.3 177.4L119.4 175.8L117.5 174.2L115.6 172.7L113.7 171.1L111.8 169.5L109.9 167.9L108 166.3L106.1 164.6L104.1 163L102.2 161.4L100.3 159.7L98.4 158.1L96.5 156.4L94.6 154.8L92.7 153.1L90.8 151.4L88.9 149.8L87 148.1L85.1 146.4L83.2 144.7L81.3 143L79.4 141.2L77.5 139.5L75.6 137.8L73.7 136L71.8 134.3L69.9 132.5L68 130.8L66.1 129L64.2 127.3L62.3 125.5L60.4 123.7L58.5 121.9M163.9 196.9L162 195.3L160.1 193.7L158.2 192.1L156.3 190.5L154.4 188.8L152.5 187.2L150.6 185.6L148.7 183.9L146.8 182.2L144.9 180.5L143 178.8L141.1 177.1L139.2 175.4L137.3 173.7L135.4 172L133.5 170.2L131.6 168.5L129.7 166.7L127.8 164.9L125.9 163.1L124 161.3L122.1 159.5L120.2 157.7L118.3 155.9L116.5 154L114.6 152.2L112.7 150.3L110.8 148.4L108.9 146.5L107 144.6L105.1 142.7L103.2 140.8L101.3 138.9L99.4 137L97.5 135L95.6 133.1L93.7 131.1L91.8 129.1L89.9 127.1L88 125.1L86.1 123.1L84.2 121.1L82.3 119L80.4 117L78.5 115L76.6 112.9L74.7 110.8L72.8 108.7L70.9 106.6M176.2 192.3L174.3 190.5L172.4 188.8L170.5 187.1L168.6 185.3L166.7 183.5L164.8 181.7L162.9 179.9L161 178.1L159.1 176.3L157.2 174.4L155.3 172.6L153.4 170.7L151.5 168.8L149.6 166.9L147.7 165L145.8 163L143.9 161.1L142 159.1L140.1 157.2L138.2 155.2L136.3 153.2L134.4 151.1L132.5 149.1L130.6 147.1L128.8 145L126.9 142.9L125 140.9L123.1 138.8L121.2 136.6L119.3 134.5L117.4 132.4L115.5 130.2L113.6 128L111.7 125.8L109.8 123.6L107.9 121.4L106 119.2L104.1 117L102.2 114.7L100.3 112.4L98.4 110.2L96.5 107.9L94.6 105.5L92.7 103.2L90.8 100.9L88.9 98.5L87 96.2L85.1 93.8L83.2 91.4M188.5 187.6L186.6 185.8L184.7 183.9L182.8 182L180.9 180.1L179 178.2L177.1 176.2L175.2 174.3L173.3 172.3L171.4 170.3L169.5 168.3L167.6 166.3L165.7 164.2L163.8 162.2L161.9 160.1L160 158L158.1 155.9L156.2 153.7L154.3 151.6L152.4 149.4L150.5 147.2L148.6 145L146.7 142.8L144.8 140.5L142.9 138.3L141.1 136L139.2 133.7L137.3 131.4L135.4 129.1L133.5 126.7L131.6 124.4L129.7 122L127.8 119.6L125.9 117.2L124 114.7L122.1 112.3L120.2 109.8L118.3 107.3L116.4 104.8L114.5 102.3L112.6 99.8L110.7 97.2L108.8 94.6L106.9 92L105 89.4L103.1 86.8L101.2 84.2L99.3 81.5L97.4 78.8L95.5 76.1M200.8 183L198.9 181L197 179L195.1 177L193.2 174.9L191.3 172.9L189.4 170.8L187.5 168.7L185.6 166.5L183.7 164.4L181.8 162.2L179.9 160L178 157.8L176.1 155.5L174.2 153.3L172.3 151L170.4 148.7L168.5 146.4L166.6 144L164.7 141.7L162.8 139.3L160.9 136.9L159 134.4L157.1 132L155.2 129.5L153.4 127L151.5 124.5L149.6 122L147.7 119.4L145.8 116.8L143.9 114.2L142 111.6L140.1 109L138.2 106.3L136.3 103.6L134.4 100.9L132.5 98.2L130.6 95.5L128.7 92.7L126.8 89.9L124.9 87.1L123 84.3L121.1 81.4L119.2 78.5L117.3 75.7L115.4 72.7L113.5 69.8L111.6 66.8L109.7 63.9L107.8 60.9M213 178.4L211.1 176.2L209.3 174.1L207.4 171.9L205.5 169.7L203.6 167.5L201.7 165.3L199.8 163L197.9 160.7L196 158.4L194.1 156.1L192.2 153.7L190.3 151.3L188.4 148.9L186.5 146.5L184.6 144L182.7 141.5L180.8 139L178.9 136.5L177 133.9L175.1 131.3L173.2 128.7L171.3 126.1L169.4 123.4L167.5 120.7L165.7 118L163.8 115.3L161.9 112.5L160 109.7L158.1 106.9L156.2 104.1L154.3 101.2L152.4 98.4L150.5 95.5L148.6 92.5L146.7 89.6L144.8 86.6L142.9 83.6L141 80.6L139.1 77.5L137.2 74.4L135.3 71.3L133.4 68.2L131.5 65L129.6 61.9L127.7 58.7L125.8 55.4L123.9 52.2L122.1 48.9L120.2 45.6M225.3 173.7L223.4 171.5L221.5 169.2L219.6 166.9L217.7 164.6L215.8 162.2L214 159.8L212.1 157.4L210.2 154.9L208.3 152.5L206.4 150L204.5 147.4L202.6 144.9L200.7 142.3L198.8 139.7L196.9 137L195 134.3L193.1 131.6L191.2 128.9L189.3 126.2L187.4 123.4L185.5 120.6L183.6 117.7L181.7 114.8L179.8 111.9L178 109L176.1 106.1L174.2 103.1L172.3 100.1L170.4 97L168.5 94L166.6 90.9L164.7 87.8L162.8 84.6L160.9 81.4L159 78.2L157.1 75L155.2 71.7L153.3 68.4L151.4 65.1L149.5 61.8L147.6 58.4L145.7 55L143.8 51.5L142 48.1L140.1 44.6L138.2 41.1L136.3 37.5L134.4 34L132.5 30.4M237.6 169.1L235.7 166.7L233.8 164.3L231.9 161.9L230 159.4L228.1 156.9L226.2 154.3L224.3 151.8L222.4 149.1L220.6 146.5L218.7 143.8L216.8 141.1L214.9 138.4L213 135.6L211.1 132.9L209.2 130L207.3 127.2L205.4 124.3L203.5 121.4L201.6 118.4L199.7 115.4L197.8 112.4L195.9 109.4L194 106.3L192.1 103.2L190.3 100L188.4 96.9L186.5 93.6L184.6 90.4L182.7 87.1L180.8 83.8L178.9 80.5L177 77.1L175.1 73.7L173.2 70.3L171.3 66.9L169.4 63.4L167.5 59.8L165.6 56.3L163.7 52.7L161.8 49.1L160 45.4L158.1 41.8L156.2 38L154.3 34.3L152.4 30.5L150.5 26.7L148.6 22.9L146.7 19L144.8 15.1" fill="none" stroke="#000" stroke-width="0.7" stroke-opacity="0.8" stroke-linejoin="round"/>
<g style="font-family:'Liberation Serif',serif;font-size:9.1px" fill="#000" stroke="#000" stroke-width="0.2"><text transform="translate(27.1 157.3) scale(0.88 1)" text-anchor="end">0.02</text><text transform="translate(27.1 147.3) scale(0.88 1)" text-anchor="end">0.06</text><text transform="translate(27.1 137.2) scale(0.88 1)" text-anchor="end">0.1</text><text transform="translate(27.1 127.2) scale(0.88 1)" text-anchor="end">0.14</text><text transform="translate(27.1 117.1) scale(0.88 1)" text-anchor="end">0.18</text><text transform="translate(27.1 107) scale(0.88 1)" text-anchor="end">0.22</text><text transform="translate(27.1 97) scale(0.88 1)" text-anchor="end">0.26</text><text transform="translate(27.1 86.9) scale(0.88 1)" text-anchor="end">0.3</text><text transform="translate(27.1 76.9) scale(0.88 1)" text-anchor="end">0.34</text><text transform="translate(27.1 66.8) scale(0.88 1)" text-anchor="end">0.38</text><text transform="translate(122 231) scale(0.88 1)" text-anchor="end">0</text><text transform="translate(103.1 219.3) scale(0.88 1)" text-anchor="end">10</text><text transform="translate(84.2 207.7) scale(0.88 1)" text-anchor="end">20</text><text transform="translate(65.4 196) scale(0.88 1)" text-anchor="end">30</text><text transform="translate(46.5 184.4) scale(0.88 1)" text-anchor="end">40</text><text transform="translate(27.6 172.7) scale(0.88 1)" text-anchor="end">50</text><text transform="translate(130.8 231) scale(0.88 1)">0</text><text transform="translate(155.4 222.1) scale(0.88 1)">20</text><text transform="translate(180 213.1) scale(0.88 1)">40</text><text transform="translate(204.7 204.2) scale(0.88 1)">60</text><text transform="translate(229.3 195.2) scale(0.88 1)">80</text><text transform="translate(253.9 186.3) scale(0.88 1)">100</text><text x="15.7" y="216.4" textLength="59" lengthAdjust="spacingAndGlyphs">Number of Nodes</text><text x="214.4" y="216.6" textLength="18.6" lengthAdjust="spacingAndGlyphs">R (m)</text><text transform="translate(10.1 154.8) scale(0.818 1) rotate(-90)" font-weight="bold" font-size="9.85" textLength="103.8" lengthAdjust="spacingAndGlyphs">Energy Consumption (J)</text></g>
<text x="115.7" y="245.7" textLength="39.2" lengthAdjust="spacingAndGlyphs" style="font-family:'Liberation Serif',serif;font-size:11.6px" fill="#000">(<tspan font-weight="bold">a</tspan>) PSO</text>
</g>
<g>
<path d="M335.7 156.1L335.7 37.1M360.6 147.7L360.6 28.7M385.6 139.3L385.6 20.3M410.5 130.9L410.5 11.9M435.5 122.5L435.5 3.5M310.7 152.8L435.5 110.8M435.5 110.8L531.6 165.4M310.7 129.3L435.5 87.3M435.5 87.3L531.6 141.9M310.7 105.9L435.5 63.9M435.5 63.9L531.6 118.5M310.7 82.5L435.5 40.5M435.5 40.5L531.6 95.1M310.7 59L435.5 17M435.5 17L531.6 71.6M454.7 133.4L454.7 14.5M473.9 144.3L473.9 25.4M493.2 155.3L493.2 36.3M512.4 166.2L512.4 47.2M531.6 177.1L531.6 58.1M431.8 210.7L335.7 156.1M456.7 202.3L360.6 147.7M481.7 193.9L385.6 139.3M506.6 185.5L410.5 130.9M531.6 177.1L435.5 122.5M387.6 208.2L512.4 166.2M368.4 197.3L493.2 155.3M349.1 186.3L473.9 144.3M329.9 175.4L454.7 133.4M310.7 164.5L435.5 122.5" fill="none" stroke="#8a8a8a" stroke-width="0.5" stroke-dasharray="0.9 1.4"/>
<path d="M310.7 45.5L310.7 164.5" fill="none" stroke="#777" stroke-width="1"/>
<path d="M310.7 164.5L406.8 219.1L531.6 177.1M310.7 152.8l-2.8 -1.6M310.7 129.3l-2.8 -1.6M310.7 105.9l-2.8 -1.6M310.7 82.5l-2.8 -1.6M310.7 59l-2.8 -1.6M406.8 219.1l-3 1M387.6 208.2l-3 1M368.4 197.3l-3 1M349.1 186.3l-3 1M329.9 175.4l-3 1M310.7 164.5l-3 1M406.8 219.1l2.8 1.6M431.8 210.7l2.8 1.6M456.7 202.3l2.8 1.6M481.7 193.9l2.8 1.6M506.6 185.5l2.8 1.6M531.6 177.1l2.8 1.6" fill="none" stroke="#333" stroke-width="0.8"/>
<path d="M406.8 205.6L404.9 204.5L402.9 203.4L401 202.3L399.1 201.2L397.1 200.1L395.2 199L393.2 197.9L391.3 196.8L389.4 195.7L387.4 194.6L385.5 193.5L383.6 192.4L381.6 191.2L379.7 190.1L377.7 189L375.8 187.9L373.9 186.8L371.9 185.7L370 184.6L368.1 183.5L366.1 182.4L364.2 181.3L362.3 180.2L360.3 179.1L358.4 178L356.4 176.9L354.5 175.8L352.6 174.7L350.6 173.6L348.7 172.5L346.8 171.4L344.8 170.3L342.9 169.2L341 168.1L339 167L337.1 165.9L335.1 164.7L333.2 163.6L331.3 162.5L329.3 161.4L327.4 160.3L325.5 159.2L323.5 158.1L321.6 157L319.6 155.9L317.7 154.8L315.8 153.7L313.8 152.6L311.9 151.5L324.4 135.7L326.3 137.1L328.3 138.4L330.2 139.8L332.2 141.1L334.1 142.5L336 143.8L338 145.2L339.9 146.5L341.8 147.9L343.8 149.2L345.7 150.6L347.6 151.9L349.6 153.3L351.5 154.6L353.4 156L355.4 157.3L357.3 158.7L359.3 160L361.2 161.4L363.1 162.7L365.1 164.1L367 165.4L368.9 166.8L370.9 168.1L372.8 169.5L374.7 170.8L376.7 172.1L378.6 173.5L380.5 174.8L382.5 176.1L384.4 177.5L386.4 178.8L388.3 180.1L390.2 181.5L392.2 182.8L394.1 184.1L396 185.4L398 186.7L399.9 188L401.8 189.4L403.8 190.7L405.7 192L407.6 193.3L409.6 194.6L411.5 195.9L413.4 197.2L415.4 198.5L417.3 199.7L419.3 201z" fill="#000083" stroke="#000083" stroke-width="0.4"/>
<path d="M419.3 201L417.3 199.7L415.4 198.5L413.4 197.2L411.5 195.9L409.6 194.6L407.6 193.3L405.7 192L403.8 190.7L416.2 184.6L418.2 186.1L420.1 187.6L422 189.1L424 190.6L425.9 192.1L427.8 193.5L429.8 195L431.7 196.5z" fill="#000083" stroke="#000083" stroke-width="0.4"/>
<path d="M403.8 190.7L401.8 189.4L399.9 188L398 186.7L396 185.4L394.1 184.1L392.2 182.8L390.2 181.5L388.3 180.1L400.8 172.3L402.7 173.9L404.6 175.4L406.6 177L408.5 178.5L410.4 180L412.4 181.5L414.3 183.1L416.2 184.6z" fill="#000093" stroke="#000093" stroke-width="0.4"/>
<path d="M388.3 180.1L386.4 178.8L384.4 177.5L382.5 176.1L380.5 174.8L378.6 173.5L376.7 172.1L374.7 170.8L387.2 161.4L389.2 163L391.1 164.5L393 166.1L395 167.7L396.9 169.2L398.8 170.8L400.8 172.3z" fill="#0000a2" stroke="#0000a2" stroke-width="0.4"/>
<path d="M374.7 170.8L372.8 169.5L370.9 168.1L368.9 166.8L367 165.4L365.1 164.1L363.1 162.7L361.2 161.4L373.7 150.3L375.6 151.9L377.5 153.5L379.5 155.1L381.4 156.7L383.3 158.2L385.3 159.8L387.2 161.4z" fill="#0000b2" stroke="#0000b2" stroke-width="0.4"/>
<path d="M361.2 161.4L359.3 160L357.3 158.7L355.4 157.3L353.4 156L351.5 154.6L349.6 153.3L347.6 151.9L360.1 139.1L362.1 140.7L364 142.3L365.9 143.9L367.9 145.5L369.8 147.1L371.7 148.7L373.7 150.3z" fill="#0000c1" stroke="#0000c1" stroke-width="0.4"/>
<path d="M347.6 151.9L345.7 150.6L343.8 149.2L341.8 147.9L339.9 146.5L338 145.2L336 143.8L348.5 129.6L350.5 131.2L352.4 132.8L354.3 134.3L356.3 135.9L358.2 137.5L360.1 139.1z" fill="#0000d1" stroke="#0000d1" stroke-width="0.4"/>
<path d="M336 143.8L334.1 142.5L332.2 141.1L330.2 139.8L328.3 138.4L326.3 137.1L324.4 135.7L336.9 120L338.9 121.6L340.8 123.2L342.7 124.8L344.7 126.4L346.6 128L348.5 129.6z" fill="#0000e0" stroke="#0000e0" stroke-width="0.4"/>
<path d="M431.7 196.5L429.8 195L427.8 193.5L425.9 192.1L438.4 186.9L440.3 188.6L442.2 190.3L444.2 191.9z" fill="#000083" stroke="#000083" stroke-width="0.4"/>
<path d="M425.9 192.1L424 190.6L422 189.1L420.1 187.6L418.2 186.1L416.2 184.6L428.7 178.5L430.6 180.2L432.6 181.9L434.5 183.6L436.4 185.3L438.4 186.9z" fill="#000093" stroke="#000093" stroke-width="0.4"/>
<path d="M416.2 184.6L414.3 183.1L412.4 181.5L410.4 180L408.5 178.5L421 171.6L422.9 173.3L424.8 175L426.8 176.8L428.7 178.5z" fill="#0000a2" stroke="#0000a2" stroke-width="0.4"/>
<path d="M408.5 178.5L406.6 177L404.6 175.4L402.7 173.9L400.8 172.3L413.2 164.5L415.2 166.3L417.1 168L419 169.8L421 171.6z" fill="#0000b2" stroke="#0000b2" stroke-width="0.4"/>
<path d="M400.8 172.3L398.8 170.8L396.9 169.2L395 167.7L393 166.1L405.5 157.4L407.4 159.2L409.4 161L411.3 162.7L413.2 164.5z" fill="#0000c1" stroke="#0000c1" stroke-width="0.4"/>
<path d="M393 166.1L391.1 164.5L389.2 163L387.2 161.4L399.7 152L401.6 153.8L403.6 155.6L405.5 157.4z" fill="#0000d1" stroke="#0000d1" stroke-width="0.4"/>
<path d="M387.2 161.4L385.3 159.8L383.3 158.2L381.4 156.7L379.5 155.1L392 144.7L393.9 146.5L395.8 148.4L397.8 150.2L399.7 152z" fill="#0000e0" stroke="#0000e0" stroke-width="0.4"/>
<path d="M379.5 155.1L377.5 153.5L375.6 151.9L373.7 150.3L386.2 139.2L388.1 141.1L390 142.9L392 144.7z" fill="#0000f0" stroke="#0000f0" stroke-width="0.4"/>
<path d="M373.7 150.3L371.7 148.7L369.8 147.1L367.9 145.5L380.4 133.7L382.3 135.6L384.2 137.4L386.2 139.2z" fill="#0008f7" stroke="#0008f7" stroke-width="0.4"/>
<path d="M367.9 145.5L365.9 143.9L364 142.3L362.1 140.7L360.1 139.1L372.6 126.3L374.6 128.2L376.5 130L378.4 131.9L380.4 133.7z" fill="#0017f7" stroke="#0017f7" stroke-width="0.4"/>
<path d="M360.1 139.1L358.2 137.5L356.3 135.9L354.3 134.3L366.8 120.8L368.8 122.7L370.7 124.5L372.6 126.3z" fill="#0027f7" stroke="#0027f7" stroke-width="0.4"/>
<path d="M354.3 134.3L352.4 132.8L350.5 131.2L348.5 129.6L361 115.3L363 117.1L364.9 119L366.8 120.8z" fill="#0036f7" stroke="#0036f7" stroke-width="0.4"/>
<path d="M348.5 129.6L346.6 128L344.7 126.4L342.7 124.8L355.2 109.7L357.2 111.6L359.1 113.4L361 115.3z" fill="#0046f7" stroke="#0046f7" stroke-width="0.4"/>
<path d="M342.7 124.8L340.8 123.2L338.9 121.6L336.9 120L349.4 104.2L351.4 106.1L353.3 107.9L355.2 109.7z" fill="#0055f7" stroke="#0055f7" stroke-width="0.4"/>
<path d="M444.2 191.9L442.2 190.3L454.7 185.5L456.6 187.3z" fill="#000083" stroke="#000083" stroke-width="0.4"/>
<path d="M442.2 190.3L440.3 188.6L438.4 186.9L436.4 185.3L434.5 183.6L447 178.1L448.9 180L450.8 181.8L452.8 183.7L454.7 185.5z" fill="#000093" stroke="#000093" stroke-width="0.4"/>
<path d="M434.5 183.6L432.6 181.9L430.6 180.2L428.7 178.5L441.2 172.4L443.1 174.3L445 176.2L447 178.1z" fill="#0000a2" stroke="#0000a2" stroke-width="0.4"/>
<path d="M428.7 178.5L426.8 176.8L424.8 175L422.9 173.3L435.4 166.6L437.3 168.5L439.2 170.5L441.2 172.4z" fill="#0000b2" stroke="#0000b2" stroke-width="0.4"/>
<path d="M422.9 173.3L421 171.6L419 169.8L417.1 168L429.6 160.7L431.5 162.7L433.4 164.6L435.4 166.6z" fill="#0000c1" stroke="#0000c1" stroke-width="0.4"/>
<path d="M417.1 168L415.2 166.3L413.2 164.5L425.7 156.7L427.6 158.7L429.6 160.7z" fill="#0000d1" stroke="#0000d1" stroke-width="0.4"/>
<path d="M413.2 164.5L411.3 162.7L409.4 161L407.4 159.2L419.9 150.7L421.8 152.7L423.8 154.7L425.7 156.7z" fill="#0000e0" stroke="#0000e0" stroke-width="0.4"/>
<path d="M407.4 159.2L405.5 157.4L403.6 155.6L416 146.6L418 148.7L419.9 150.7z" fill="#0000f0" stroke="#0000f0" stroke-width="0.4"/>
<path d="M403.6 155.6L401.6 153.8L399.7 152L412.2 142.6L414.1 144.6L416 146.6z" fill="#0008f7" stroke="#0008f7" stroke-width="0.4"/>
<path d="M399.7 152L397.8 150.2L395.8 148.4L393.9 146.5L406.4 136.4L408.3 138.5L410.2 140.5L412.2 142.6z" fill="#0017f7" stroke="#0017f7" stroke-width="0.4"/>
<path d="M393.9 146.5L392 144.7L390 142.9L402.5 132.3L404.5 134.3L406.4 136.4z" fill="#0027f7" stroke="#0027f7" stroke-width="0.4"/>
<path d="M390 142.9L388.1 141.1L386.2 139.2L398.7 128.1L400.6 130.2L402.5 132.3z" fill="#0036f7" stroke="#0036f7" stroke-width="0.4"/>
<path d="M386.2 139.2L384.2 137.4L382.3 135.6L394.8 124L396.7 126.1L398.7 128.1z" fill="#0046f7" stroke="#0046f7" stroke-width="0.4"/>
<path d="M382.3 135.6L380.4 133.7L378.4 131.9L390.9 119.8L392.9 121.9L394.8 124z" fill="#0055f7" stroke="#0055f7" stroke-width="0.4"/>
<path d="M378.4 131.9L376.5 130L374.6 128.2L372.6 126.3L385.1 113.5L387.1 115.6L389 117.7L390.9 119.8z" fill="#0064f7" stroke="#0064f7" stroke-width="0.4"/>
<path d="M372.6 126.3L370.7 124.5L368.8 122.7L381.3 109.4L383.2 111.4L385.1 113.5z" fill="#0074f7" stroke="#0074f7" stroke-width="0.4"/>
<path d="M368.8 122.7L366.8 120.8L364.9 119L377.4 105.2L379.3 107.3L381.3 109.4z" fill="#0083f7" stroke="#0083f7" stroke-width="0.4"/>
<path d="M364.9 119L363 117.1L361 115.3L373.5 101L375.5 103.1L377.4 105.2z" fill="#0093f7" stroke="#0093f7" stroke-width="0.4"/>
<path d="M361 115.3L359.1 113.4L357.2 111.6L369.7 96.8L371.6 98.9L373.5 101z" fill="#00a2f7" stroke="#00a2f7" stroke-width="0.4"/>
<path d="M357.2 111.6L355.2 109.7L353.3 107.9L365.8 92.6L367.7 94.7L369.7 96.8z" fill="#00b2f7" stroke="#00b2f7" stroke-width="0.4"/>
<path d="M353.3 107.9L351.4 106.1L349.4 104.2L361.9 88.5L363.9 90.6L365.8 92.6z" fill="#00c1f7" stroke="#00c1f7" stroke-width="0.4"/>
<path d="M456.6 187.3L454.7 185.5L452.8 183.7L450.8 181.8L463.3 176.7L465.2 178.7L467.1 180.8L469.1 182.8z" fill="#000093" stroke="#000093" stroke-width="0.4"/>
<path d="M450.8 181.8L448.9 180L447 178.1L445 176.2L457.5 170.5L459.4 172.6L461.4 174.6L463.3 176.7z" fill="#0000a2" stroke="#0000a2" stroke-width="0.4"/>
<path d="M445 176.2L443.1 174.3L441.2 172.4L453.6 166.3L455.6 168.4L457.5 170.5z" fill="#0000b2" stroke="#0000b2" stroke-width="0.4"/>
<path d="M441.2 172.4L439.2 170.5L437.3 168.5L449.8 162L451.7 164.2L453.6 166.3z" fill="#0000c1" stroke="#0000c1" stroke-width="0.4"/>
<path d="M437.3 168.5L435.4 166.6L433.4 164.6L445.9 157.7L447.8 159.9L449.8 162z" fill="#0000d1" stroke="#0000d1" stroke-width="0.4"/>
<path d="M433.4 164.6L431.5 162.7L429.6 160.7L442 153.3L444 155.5L445.9 157.7z" fill="#0000e0" stroke="#0000e0" stroke-width="0.4"/>
<path d="M429.6 160.7L427.6 158.7L425.7 156.7L438.2 148.9L440.1 151.1L442 153.3z" fill="#0000f0" stroke="#0000f0" stroke-width="0.4"/>
<path d="M425.7 156.7L423.8 154.7L421.8 152.7L434.3 144.5L436.2 146.7L438.2 148.9z" fill="#0008f7" stroke="#0008f7" stroke-width="0.4"/>
<path d="M421.8 152.7L419.9 150.7L418 148.7L430.5 140L432.4 142.2L434.3 144.5z" fill="#0017f7" stroke="#0017f7" stroke-width="0.4"/>
<path d="M418 148.7L416 146.6L414.1 144.6L426.6 135.4L428.5 137.7L430.5 140z" fill="#0027f7" stroke="#0027f7" stroke-width="0.4"/>
<path d="M414.1 144.6L412.2 142.6L424.7 133.2L426.6 135.4z" fill="#0036f7" stroke="#0036f7" stroke-width="0.4"/>
<path d="M412.2 142.6L410.2 140.5L408.3 138.5L420.8 128.6L422.7 130.9L424.7 133.2z" fill="#0046f7" stroke="#0046f7" stroke-width="0.4"/>
<path d="M408.3 138.5L406.4 136.4L404.5 134.3L416.9 124L418.9 126.3L420.8 128.6z" fill="#0055f7" stroke="#0055f7" stroke-width="0.4"/>
<path d="M404.5 134.3L402.5 132.3L400.6 130.2L413.1 119.4L415 121.7L416.9 124z" fill="#0064f7" stroke="#0064f7" stroke-width="0.4"/>
<path d="M400.6 130.2L398.7 128.1L411.1 117.1L413.1 119.4z" fill="#0074f7" stroke="#0074f7" stroke-width="0.4"/>
<path d="M398.7 128.1L396.7 126.1L394.8 124L407.3 112.4L409.2 114.7L411.1 117.1z" fill="#0083f7" stroke="#0083f7" stroke-width="0.4"/>
<path d="M394.8 124L392.9 121.9L405.4 110.1L407.3 112.4z" fill="#0093f7" stroke="#0093f7" stroke-width="0.4"/>
<path d="M392.9 121.9L390.9 119.8L389 117.7L401.5 105.4L403.4 107.7L405.4 110.1z" fill="#00a2f7" stroke="#00a2f7" stroke-width="0.4"/>
<path d="M389 117.7L387.1 115.6L385.1 113.5L397.6 100.7L399.6 103.1L401.5 105.4z" fill="#00b2f7" stroke="#00b2f7" stroke-width="0.4"/>
<path d="M385.1 113.5L383.2 111.4L395.7 98.4L397.6 100.7z" fill="#00c1f7" stroke="#00c1f7" stroke-width="0.4"/>
<path d="M383.2 111.4L381.3 109.4L379.3 107.3L391.8 93.7L393.8 96.1L395.7 98.4z" fill="#00d1f7" stroke="#00d1f7" stroke-width="0.4"/>
<path d="M379.3 107.3L377.4 105.2L389.9 91.4L391.8 93.7z" fill="#00e0f7" stroke="#00e0f7" stroke-width="0.4"/>
<path d="M377.4 105.2L375.5 103.1L373.5 101L386 86.7L388 89L389.9 91.4z" fill="#00f0f7" stroke="#00f0f7" stroke-width="0.4"/>
<path d="M373.5 101L371.6 98.9L384.1 84.4L386 86.7z" fill="#00f7ef" stroke="#00f7ef" stroke-width="0.4"/>
<path d="M371.6 98.9L369.7 96.8L367.7 94.7L380.2 79.7L382.2 82L384.1 84.4z" fill="#00f7de" stroke="#00f7de" stroke-width="0.4"/>
<path d="M367.7 94.7L365.8 92.6L378.3 77.4L380.2 79.7z" fill="#00f7ca" stroke="#00f7ca" stroke-width="0.4"/>
<path d="M365.8 92.6L363.9 90.6L361.9 88.5L374.5 72.7L376.4 75L378.3 77.4z" fill="#00f7b2" stroke="#00f7b2" stroke-width="0.4"/>
<path d="M469.1 182.8L467.1 180.8L465.2 178.7L477.7 173.8L479.6 176L481.5 178.2z" fill="#000093" stroke="#000093" stroke-width="0.4"/>
<path d="M465.2 178.7L463.3 176.7L461.4 174.6L473.8 169.3L475.7 171.6L477.7 173.8z" fill="#0000a2" stroke="#0000a2" stroke-width="0.4"/>
<path d="M461.4 174.6L459.4 172.6L457.5 170.5L470 164.8L471.9 167.1L473.8 169.3z" fill="#0000b2" stroke="#0000b2" stroke-width="0.4"/>
<path d="M457.5 170.5L455.6 168.4L453.6 166.3L466.1 160.2L468 162.5L470 164.8z" fill="#0000c1" stroke="#0000c1" stroke-width="0.4"/>
<path d="M453.6 166.3L451.7 164.2L449.8 162L462.2 155.5L464.2 157.8L466.1 160.2z" fill="#0000d1" stroke="#0000d1" stroke-width="0.4"/>
<path d="M449.8 162L447.8 159.9L445.9 157.7L458.4 150.8L460.3 153.1L462.2 155.5z" fill="#0000e0" stroke="#0000e0" stroke-width="0.4"/>
<path d="M445.9 157.7L444 155.5L456.4 148.4L458.4 150.8z" fill="#0000f0" stroke="#0000f0" stroke-width="0.4"/>
<path d="M444 155.5L442 153.3L440.1 151.1L452.6 143.5L454.5 146L456.4 148.4z" fill="#0008f7" stroke="#0008f7" stroke-width="0.4"/>
<path d="M440.1 151.1L438.2 148.9L450.7 141.1L452.6 143.5z" fill="#0017f7" stroke="#0017f7" stroke-width="0.4"/>
<path d="M438.2 148.9L436.2 146.7L434.3 144.5L446.8 136.2L448.7 138.7L450.7 141.1z" fill="#0027f7" stroke="#0027f7" stroke-width="0.4"/>
<path d="M434.3 144.5L432.4 142.2L444.9 133.7L446.8 136.2z" fill="#0036f7" stroke="#0036f7" stroke-width="0.4"/>
<path d="M432.4 142.2L430.5 140L428.5 137.7L441 128.8L442.9 131.2L444.9 133.7z" fill="#0046f7" stroke="#0046f7" stroke-width="0.4"/>
<path d="M428.5 137.7L426.6 135.4L439.1 126.3L441 128.8z" fill="#0055f7" stroke="#0055f7" stroke-width="0.4"/>
<path d="M426.6 135.4L424.7 133.2L437.1 123.7L439.1 126.3z" fill="#0064f7" stroke="#0064f7" stroke-width="0.4"/>
<path d="M424.7 133.2L422.7 130.9L420.8 128.6L433.3 118.7L435.2 121.2L437.1 123.7z" fill="#0074f7" stroke="#0074f7" stroke-width="0.4"/>
<path d="M420.8 128.6L418.9 126.3L431.4 116.2L433.3 118.7z" fill="#0083f7" stroke="#0083f7" stroke-width="0.4"/>
<path d="M418.9 126.3L416.9 124L415 121.7L427.5 111.1L429.4 113.6L431.4 116.2z" fill="#0093f7" stroke="#0093f7" stroke-width="0.4"/>
<path d="M415 121.7L413.1 119.4L425.6 108.5L427.5 111.1z" fill="#00a2f7" stroke="#00a2f7" stroke-width="0.4"/>
<path d="M413.1 119.4L411.1 117.1L423.6 106L425.6 108.5z" fill="#00b2f7" stroke="#00b2f7" stroke-width="0.4"/>
<path d="M411.1 117.1L409.2 114.7L421.7 103.4L423.6 106z" fill="#00c1f7" stroke="#00c1f7" stroke-width="0.4"/>
<path d="M409.2 114.7L407.3 112.4L405.4 110.1L417.8 98.3L419.8 100.8L421.7 103.4z" fill="#00d1f7" stroke="#00d1f7" stroke-width="0.4"/>
<path d="M405.4 110.1L403.4 107.7L415.9 95.7L417.8 98.3z" fill="#00e0f7" stroke="#00e0f7" stroke-width="0.4"/>
<path d="M403.4 107.7L401.5 105.4L414 93.1L415.9 95.7z" fill="#00f0f7" stroke="#00f0f7" stroke-width="0.4"/>
<path d="M401.5 105.4L399.6 103.1L397.6 100.7L410.1 87.9L412.1 90.5L414 93.1z" fill="#00f7ef" stroke="#00f7ef" stroke-width="0.4"/>
<path d="M397.6 100.7L395.7 98.4L408.2 85.3L410.1 87.9z" fill="#00f7de" stroke="#00f7de" stroke-width="0.4"/>
<path d="M395.7 98.4L393.8 96.1L406.3 82.8L408.2 85.3z" fill="#00f7ca" stroke="#00f7ca" stroke-width="0.4"/>
<path d="M393.8 96.1L391.8 93.7L404.3 80.2L406.3 82.8z" fill="#00f7b2" stroke="#00f7b2" stroke-width="0.4"/>
<path d="M391.8 93.7L389.9 91.4L402.4 77.6L404.3 80.2z" fill="#00f797" stroke="#00f797" stroke-width="0.4"/>
<path d="M389.9 91.4L388 89L386 86.7L398.5 72.4L400.5 75L402.4 77.6z" fill="#0cf77c" stroke="#0cf77c" stroke-width="0.4"/>
<path d="M386 86.7L384.1 84.4L396.6 69.8L398.5 72.4z" fill="#22f766" stroke="#22f766" stroke-width="0.4"/>
<path d="M384.1 84.4L382.2 82L394.7 67.3L396.6 69.8z" fill="#39f74f" stroke="#39f74f" stroke-width="0.4"/>
<path d="M382.2 82L380.2 79.7L392.8 64.7L394.7 67.3z" fill="#4ff739" stroke="#4ff739" stroke-width="0.4"/>
<path d="M380.2 79.7L378.3 77.4L376.4 75L388.9 59.5L390.8 62.1L392.8 64.7z" fill="#66f722" stroke="#66f722" stroke-width="0.4"/>
<path d="M376.4 75L374.5 72.7L387 57L388.9 59.5z" fill="#7cf70c" stroke="#7cf70c" stroke-width="0.4"/>
<path d="M481.5 178.2L479.6 176L492.1 171.3L494 173.6z" fill="#000093" stroke="#000093" stroke-width="0.4"/>
<path d="M479.6 176L477.7 173.8L475.7 171.6L488.2 166.5L490.1 168.9L492.1 171.3z" fill="#0000a2" stroke="#0000a2" stroke-width="0.4"/>
<path d="M475.7 171.6L473.8 169.3L471.9 167.1L484.3 161.6L486.3 164L488.2 166.5z" fill="#0000b2" stroke="#0000b2" stroke-width="0.4"/>
<path d="M471.9 167.1L470 164.8L468 162.5L480.5 156.6L482.4 159.1L484.3 161.6z" fill="#0000c1" stroke="#0000c1" stroke-width="0.4"/>
<path d="M468 162.5L466.1 160.2L478.6 154.1L480.5 156.6z" fill="#0000d1" stroke="#0000d1" stroke-width="0.4"/>
<path d="M466.1 160.2L464.2 157.8L462.2 155.5L474.7 149L476.6 151.5L478.6 154.1z" fill="#0000e0" stroke="#0000e0" stroke-width="0.4"/>
<path d="M462.2 155.5L460.3 153.1L472.8 146.4L474.7 149z" fill="#0000f0" stroke="#0000f0" stroke-width="0.4"/>
<path d="M460.3 153.1L458.4 150.8L470.8 143.8L472.8 146.4z" fill="#0008f7" stroke="#0008f7" stroke-width="0.4"/>
<path d="M458.4 150.8L456.4 148.4L454.5 146L467 138.6L468.9 141.2L470.8 143.8z" fill="#0017f7" stroke="#0017f7" stroke-width="0.4"/>
<path d="M454.5 146L452.6 143.5L465.1 136L467 138.6z" fill="#0027f7" stroke="#0027f7" stroke-width="0.4"/>
<path d="M452.6 143.5L450.7 141.1L463.1 133.3L465.1 136z" fill="#0036f7" stroke="#0036f7" stroke-width="0.4"/>
<path d="M450.7 141.1L448.7 138.7L446.8 136.2L459.3 127.9L461.2 130.6L463.1 133.3z" fill="#0046f7" stroke="#0046f7" stroke-width="0.4"/>
<path d="M446.8 136.2L444.9 133.7L457.3 125.2L459.3 127.9z" fill="#0055f7" stroke="#0055f7" stroke-width="0.4"/>
<path d="M444.9 133.7L442.9 131.2L455.4 122.5L457.3 125.2z" fill="#0064f7" stroke="#0064f7" stroke-width="0.4"/>
<path d="M442.9 131.2L441 128.8L453.5 119.8L455.4 122.5z" fill="#0074f7" stroke="#0074f7" stroke-width="0.4"/>
<path d="M441 128.8L439.1 126.3L451.6 117.1L453.5 119.8z" fill="#0083f7" stroke="#0083f7" stroke-width="0.4"/>
<path d="M439.1 126.3L437.1 123.7L449.6 114.3L451.6 117.1z" fill="#0093f7" stroke="#0093f7" stroke-width="0.4"/>
<path d="M437.1 123.7L435.2 121.2L433.3 118.7L445.8 108.8L447.7 111.6L449.6 114.3z" fill="#00a2f7" stroke="#00a2f7" stroke-width="0.4"/>
<path d="M433.3 118.7L431.4 116.2L443.8 106L445.8 108.8z" fill="#00b2f7" stroke="#00b2f7" stroke-width="0.4"/>
<path d="M431.4 116.2L429.4 113.6L441.9 103.3L443.8 106z" fill="#00c1f7" stroke="#00c1f7" stroke-width="0.4"/>
<path d="M429.4 113.6L427.5 111.1L440 100.5L441.9 103.3z" fill="#00d1f7" stroke="#00d1f7" stroke-width="0.4"/>
<path d="M427.5 111.1L425.6 108.5L438.1 97.7L440 100.5z" fill="#00e0f7" stroke="#00e0f7" stroke-width="0.4"/>
<path d="M425.6 108.5L423.6 106L436.1 94.9L438.1 97.7z" fill="#00f0f7" stroke="#00f0f7" stroke-width="0.4"/>
<path d="M423.6 106L421.7 103.4L434.2 92.1L436.1 94.9z" fill="#00f7ef" stroke="#00f7ef" stroke-width="0.4"/>
<path d="M421.7 103.4L419.8 100.8L432.3 89.3L434.2 92.1z" fill="#00f7de" stroke="#00f7de" stroke-width="0.4"/>
<path d="M419.8 100.8L417.8 98.3L430.3 86.4L432.3 89.3z" fill="#00f7ca" stroke="#00f7ca" stroke-width="0.4"/>
<path d="M417.8 98.3L415.9 95.7L428.4 83.6L430.3 86.4z" fill="#00f7b2" stroke="#00f7b2" stroke-width="0.4"/>
<path d="M415.9 95.7L414 93.1L426.5 80.8L428.4 83.6z" fill="#00f797" stroke="#00f797" stroke-width="0.4"/>
<path d="M414 93.1L412.1 90.5L410.1 87.9L422.6 75.1L424.6 78L426.5 80.8z" fill="#0cf77c" stroke="#0cf77c" stroke-width="0.4"/>
<path d="M410.1 87.9L408.2 85.3L420.7 72.3L422.6 75.1z" fill="#22f766" stroke="#22f766" stroke-width="0.4"/>
<path d="M408.2 85.3L406.3 82.8L418.8 69.5L420.7 72.3z" fill="#39f74f" stroke="#39f74f" stroke-width="0.4"/>
<path d="M406.3 82.8L404.3 80.2L416.8 66.6L418.8 69.5z" fill="#4ff739" stroke="#4ff739" stroke-width="0.4"/>
<path d="M404.3 80.2L402.4 77.6L414.9 63.8L416.8 66.6z" fill="#66f722" stroke="#66f722" stroke-width="0.4"/>
<path d="M402.4 77.6L400.5 75L413 61L414.9 63.8z" fill="#7cf70c" stroke="#7cf70c" stroke-width="0.4"/>
<path d="M400.5 75L398.5 72.4L411.1 58.1L413 61z" fill="#97f700" stroke="#97f700" stroke-width="0.4"/>
<path d="M398.5 72.4L396.6 69.8L409.1 55.3L411.1 58.1z" fill="#b2f700" stroke="#b2f700" stroke-width="0.4"/>
<path d="M396.6 69.8L394.7 67.3L407.2 52.5L409.1 55.3z" fill="#caf700" stroke="#caf700" stroke-width="0.4"/>
<path d="M394.7 67.3L392.8 64.7L405.3 49.7L407.2 52.5z" fill="#def700" stroke="#def700" stroke-width="0.4"/>
<path d="M392.8 64.7L390.8 62.1L403.3 46.8L405.3 49.7z" fill="#eff700" stroke="#eff700" stroke-width="0.4"/>
<path d="M390.8 62.1L388.9 59.5L401.4 44L403.3 46.8z" fill="#f7f000" stroke="#f7f000" stroke-width="0.4"/>
<path d="M388.9 59.5L387 57L399.5 41.2L401.4 44z" fill="#f7e000" stroke="#f7e000" stroke-width="0.4"/>
<path d="M494 173.6L492.1 171.3L504.5 166.5L506.4 169.1z" fill="#000093" stroke="#000093" stroke-width="0.4"/>
<path d="M492.1 171.3L490.1 168.9L502.6 163.9L504.5 166.5z" fill="#0000a2" stroke="#0000a2" stroke-width="0.4"/>
<path d="M490.1 168.9L488.2 166.5L486.3 164L498.7 158.7L500.7 161.3L502.6 163.9z" fill="#0000b2" stroke="#0000b2" stroke-width="0.4"/>
<path d="M486.3 164L484.3 161.6L496.8 156.1L498.7 158.7z" fill="#0000c1" stroke="#0000c1" stroke-width="0.4"/>
<path d="M484.3 161.6L482.4 159.1L480.5 156.6L493 150.7L494.9 153.4L496.8 156.1z" fill="#0000d1" stroke="#0000d1" stroke-width="0.4"/>
<path d="M480.5 156.6L478.6 154.1L491 148L493 150.7z" fill="#0000e0" stroke="#0000e0" stroke-width="0.4"/>
<path d="M478.6 154.1L476.6 151.5L489.1 145.2L491 148z" fill="#0000f0" stroke="#0000f0" stroke-width="0.4"/>
<path d="M476.6 151.5L474.7 149L472.8 146.4L485.2 139.7L487.2 142.5L489.1 145.2z" fill="#0008f7" stroke="#0008f7" stroke-width="0.4"/>
<path d="M472.8 146.4L470.8 143.8L483.3 136.9L485.2 139.7z" fill="#0017f7" stroke="#0017f7" stroke-width="0.4"/>
<path d="M470.8 143.8L468.9 141.2L481.4 134.1L483.3 136.9z" fill="#0027f7" stroke="#0027f7" stroke-width="0.4"/>
<path d="M468.9 141.2L467 138.6L479.5 131.2L481.4 134.1z" fill="#0036f7" stroke="#0036f7" stroke-width="0.4"/>
<path d="M467 138.6L465.1 136L477.5 128.4L479.5 131.2z" fill="#0046f7" stroke="#0046f7" stroke-width="0.4"/>
<path d="M465.1 136L463.1 133.3L475.6 125.5L477.5 128.4z" fill="#0055f7" stroke="#0055f7" stroke-width="0.4"/>
<path d="M463.1 133.3L461.2 130.6L473.7 122.6L475.6 125.5z" fill="#0064f7" stroke="#0064f7" stroke-width="0.4"/>
<path d="M461.2 130.6L459.3 127.9L471.7 119.7L473.7 122.6z" fill="#0074f7" stroke="#0074f7" stroke-width="0.4"/>
<path d="M459.3 127.9L457.3 125.2L469.8 116.8L471.7 119.7z" fill="#0083f7" stroke="#0083f7" stroke-width="0.4"/>
<path d="M457.3 125.2L455.4 122.5L467.9 113.8L469.8 116.8z" fill="#0093f7" stroke="#0093f7" stroke-width="0.4"/>
<path d="M455.4 122.5L453.5 119.8L466 110.9L467.9 113.8z" fill="#00a2f7" stroke="#00a2f7" stroke-width="0.4"/>
<path d="M453.5 119.8L451.6 117.1L464 107.9L466 110.9z" fill="#00b2f7" stroke="#00b2f7" stroke-width="0.4"/>
<path d="M451.6 117.1L449.6 114.3L462.1 104.9L464 107.9z" fill="#00c1f7" stroke="#00c1f7" stroke-width="0.4"/>
<path d="M449.6 114.3L447.7 111.6L460.2 101.9L462.1 104.9z" fill="#00d1f7" stroke="#00d1f7" stroke-width="0.4"/>
<path d="M447.7 111.6L445.8 108.8L458.3 98.9L460.2 101.9z" fill="#00e0f7" stroke="#00e0f7" stroke-width="0.4"/>
<path d="M445.8 108.8L443.8 106L456.3 95.9L458.3 98.9z" fill="#00f0f7" stroke="#00f0f7" stroke-width="0.4"/>
<path d="M443.8 106L441.9 103.3L454.4 92.9L456.3 95.9z" fill="#00f7ef" stroke="#00f7ef" stroke-width="0.4"/>
<path d="M441.9 103.3L440 100.5L452.5 89.9L454.4 92.9z" fill="#00f7de" stroke="#00f7de" stroke-width="0.4"/>
<path d="M440 100.5L438.1 97.7L450.5 86.8L452.5 89.9z" fill="#00f7ca" stroke="#00f7ca" stroke-width="0.4"/>
<path d="M438.1 97.7L436.1 94.9L448.6 83.8L450.5 86.8z" fill="#00f7b2" stroke="#00f7b2" stroke-width="0.4"/>
<path d="M436.1 94.9L434.2 92.1L446.7 80.7L448.6 83.8z" fill="#00f797" stroke="#00f797" stroke-width="0.4"/>
<path d="M434.2 92.1L432.3 89.3L444.8 77.7L446.7 80.7z" fill="#0cf77c" stroke="#0cf77c" stroke-width="0.4"/>
<path d="M432.3 89.3L430.3 86.4L442.8 74.6L444.8 77.7z" fill="#22f766" stroke="#22f766" stroke-width="0.4"/>
<path d="M430.3 86.4L428.4 83.6L440.9 71.6L442.8 74.6z" fill="#39f74f" stroke="#39f74f" stroke-width="0.4"/>
<path d="M428.4 83.6L426.5 80.8L439 68.5L440.9 71.6z" fill="#4ff739" stroke="#4ff739" stroke-width="0.4"/>
<path d="M426.5 80.8L424.6 78L437 65.4L439 68.5z" fill="#66f722" stroke="#66f722" stroke-width="0.4"/>
<path d="M424.6 78L422.6 75.1L435.1 62.3L437 65.4z" fill="#7cf70c" stroke="#7cf70c" stroke-width="0.4"/>
<path d="M422.6 75.1L420.7 72.3L433.2 59.3L435.1 62.3z" fill="#b2f700" stroke="#b2f700" stroke-width="0.4"/>
<path d="M420.7 72.3L418.8 69.5L431.3 56.2L433.2 59.3z" fill="#caf700" stroke="#caf700" stroke-width="0.4"/>
<path d="M418.8 69.5L416.8 66.6L429.3 53.1L431.3 56.2z" fill="#def700" stroke="#def700" stroke-width="0.4"/>
<path d="M416.8 66.6L414.9 63.8L427.4 50L429.3 53.1z" fill="#eff700" stroke="#eff700" stroke-width="0.4"/>
<path d="M414.9 63.8L413 61L425.5 46.9L427.4 50z" fill="#f7f000" stroke="#f7f000" stroke-width="0.4"/>
<path d="M413 61L411.1 58.1L423.6 43.9L425.5 46.9z" fill="#f7e000" stroke="#f7e000" stroke-width="0.4"/>
<path d="M411.1 58.1L409.1 55.3L421.6 40.8L423.6 43.9z" fill="#f7d100" stroke="#f7d100" stroke-width="0.4"/>
<path d="M409.1 55.3L407.2 52.5L419.7 37.7L421.6 40.8z" fill="#f7b200" stroke="#f7b200" stroke-width="0.4"/>
<path d="M407.2 52.5L405.3 49.7L417.8 34.6L419.7 37.7z" fill="#f7a200" stroke="#f7a200" stroke-width="0.4"/>
<path d="M405.3 49.7L403.3 46.8L415.8 31.6L417.8 34.6z" fill="#f79300" stroke="#f79300" stroke-width="0.4"/>
<path d="M403.3 46.8L401.4 44L413.9 28.5L415.8 31.6z" fill="#f78300" stroke="#f78300" stroke-width="0.4"/>
<path d="M401.4 44L399.5 41.2L412 25.5L413.9 28.5z" fill="#f77400" stroke="#f77400" stroke-width="0.4"/>
<path d="M506.4 169.1L504.5 166.5L502.6 163.9L515 159L517 161.8L518.9 164.5z" fill="#0000a2" stroke="#0000a2" stroke-width="0.4"/>
<path d="M502.6 163.9L500.7 161.3L513.1 156.2L515 159z" fill="#0000b2" stroke="#0000b2" stroke-width="0.4"/>
<path d="M500.7 161.3L498.7 158.7L511.2 153.4L513.1 156.2z" fill="#0000c1" stroke="#0000c1" stroke-width="0.4"/>
<path d="M498.7 158.7L496.8 156.1L494.9 153.4L507.3 147.7L509.3 150.6L511.2 153.4z" fill="#0000d1" stroke="#0000d1" stroke-width="0.4"/>
<path d="M494.9 153.4L493 150.7L505.4 144.8L507.3 147.7z" fill="#0000e0" stroke="#0000e0" stroke-width="0.4"/>
<path d="M493 150.7L491 148L503.5 141.9L505.4 144.8z" fill="#0000f0" stroke="#0000f0" stroke-width="0.4"/>
<path d="M491 148L489.1 145.2L501.6 138.9L503.5 141.9z" fill="#0008f7" stroke="#0008f7" stroke-width="0.4"/>
<path d="M489.1 145.2L487.2 142.5L499.6 136L501.6 138.9z" fill="#0017f7" stroke="#0017f7" stroke-width="0.4"/>
<path d="M487.2 142.5L485.2 139.7L497.7 133L499.6 136z" fill="#0027f7" stroke="#0027f7" stroke-width="0.4"/>
<path d="M485.2 139.7L483.3 136.9L495.8 130L497.7 133z" fill="#0036f7" stroke="#0036f7" stroke-width="0.4"/>
<path d="M483.3 136.9L481.4 134.1L493.9 126.9L495.8 130z" fill="#0046f7" stroke="#0046f7" stroke-width="0.4"/>
<path d="M481.4 134.1L479.5 131.2L491.9 123.9L493.9 126.9z" fill="#0055f7" stroke="#0055f7" stroke-width="0.4"/>
<path d="M479.5 131.2L477.5 128.4L490 120.8L491.9 123.9z" fill="#0064f7" stroke="#0064f7" stroke-width="0.4"/>
<path d="M477.5 128.4L475.6 125.5L488.1 117.7L490 120.8z" fill="#0074f7" stroke="#0074f7" stroke-width="0.4"/>
<path d="M475.6 125.5L473.7 122.6L486.1 114.6L488.1 117.7z" fill="#0083f7" stroke="#0083f7" stroke-width="0.4"/>
<path d="M473.7 122.6L471.7 119.7L484.2 111.4L486.1 114.6z" fill="#0093f7" stroke="#0093f7" stroke-width="0.4"/>
<path d="M471.7 119.7L469.8 116.8L482.3 108.3L484.2 111.4z" fill="#00a2f7" stroke="#00a2f7" stroke-width="0.4"/>
<path d="M469.8 116.8L467.9 113.8L480.4 105.1L482.3 108.3z" fill="#00b2f7" stroke="#00b2f7" stroke-width="0.4"/>
<path d="M467.9 113.8L466 110.9L478.4 101.9L480.4 105.1z" fill="#00c1f7" stroke="#00c1f7" stroke-width="0.4"/>
<path d="M466 110.9L464 107.9L476.5 98.7L478.4 101.9z" fill="#00d1f7" stroke="#00d1f7" stroke-width="0.4"/>
<path d="M464 107.9L462.1 104.9L474.6 95.5L476.5 98.7z" fill="#00e0f7" stroke="#00e0f7" stroke-width="0.4"/>
<path d="M462.1 104.9L460.2 101.9L472.7 92.3L474.6 95.5z" fill="#00f7ef" stroke="#00f7ef" stroke-width="0.4"/>
<path d="M460.2 101.9L458.3 98.9L470.7 89.1L472.7 92.3z" fill="#00f7de" stroke="#00f7de" stroke-width="0.4"/>
<path d="M458.3 98.9L456.3 95.9L468.8 85.8L470.7 89.1z" fill="#00f7ca" stroke="#00f7ca" stroke-width="0.4"/>
<path d="M456.3 95.9L454.4 92.9L466.9 82.5L468.8 85.8z" fill="#00f7b2" stroke="#00f7b2" stroke-width="0.4"/>
<path d="M454.4 92.9L452.5 89.9L465 79.3L466.9 82.5z" fill="#00f797" stroke="#00f797" stroke-width="0.4"/>
<path d="M452.5 89.9L450.5 86.8L463 76L465 79.3z" fill="#0cf77c" stroke="#0cf77c" stroke-width="0.4"/>
<path d="M450.5 86.8L448.6 83.8L461.1 72.7L463 76z" fill="#39f74f" stroke="#39f74f" stroke-width="0.4"/>
<path d="M448.6 83.8L446.7 80.7L459.2 69.4L461.1 72.7z" fill="#4ff739" stroke="#4ff739" stroke-width="0.4"/>
<path d="M446.7 80.7L444.8 77.7L457.3 66.1L459.2 69.4z" fill="#66f722" stroke="#66f722" stroke-width="0.4"/>
<path d="M444.8 77.7L442.8 74.6L455.3 62.8L457.3 66.1z" fill="#7cf70c" stroke="#7cf70c" stroke-width="0.4"/>
<path d="M442.8 74.6L440.9 71.6L453.4 59.5L455.3 62.8z" fill="#b2f700" stroke="#b2f700" stroke-width="0.4"/>
<path d="M440.9 71.6L439 68.5L451.5 56.2L453.4 59.5z" fill="#caf700" stroke="#caf700" stroke-width="0.4"/>
<path d="M439 68.5L437 65.4L449.5 52.9L451.5 56.2z" fill="#def700" stroke="#def700" stroke-width="0.4"/>
<path d="M437 65.4L435.1 62.3L447.6 49.5L449.5 52.9z" fill="#eff700" stroke="#eff700" stroke-width="0.4"/>
<path d="M435.1 62.3L433.2 59.3L445.7 46.2L447.6 49.5z" fill="#f7e000" stroke="#f7e000" stroke-width="0.4"/>
<path d="M433.2 59.3L431.3 56.2L443.8 42.9L445.7 46.2z" fill="#f7d100" stroke="#f7d100" stroke-width="0.4"/>
<path d="M431.3 56.2L429.3 53.1L441.8 39.5L443.8 42.9z" fill="#f7c100" stroke="#f7c100" stroke-width="0.4"/>
<path d="M429.3 53.1L427.4 50L439.9 36.2L441.8 39.5z" fill="#f7a200" stroke="#f7a200" stroke-width="0.4"/>
<path d="M427.4 50L425.5 46.9L438 32.9L439.9 36.2z" fill="#f79300" stroke="#f79300" stroke-width="0.4"/>
<path d="M425.5 46.9L423.6 43.9L436.1 29.6L438 32.9z" fill="#f78300" stroke="#f78300" stroke-width="0.4"/>
<path d="M423.6 43.9L421.6 40.8L434.1 26.2L436.1 29.6z" fill="#f76400" stroke="#f76400" stroke-width="0.4"/>
<path d="M421.6 40.8L419.7 37.7L432.2 22.9L434.1 26.2z" fill="#f75500" stroke="#f75500" stroke-width="0.4"/>
<path d="M419.7 37.7L417.8 34.6L430.3 19.6L432.2 22.9z" fill="#f74600" stroke="#f74600" stroke-width="0.4"/>
<path d="M417.8 34.6L415.8 31.6L428.4 16.3L430.3 19.6z" fill="#f73600" stroke="#f73600" stroke-width="0.4"/>
<path d="M415.8 31.6L413.9 28.5L426.4 13L428.4 16.3z" fill="#f71700" stroke="#f71700" stroke-width="0.4"/>
<path d="M413.9 28.5L412 25.5L424.5 9.7L426.4 13z" fill="#f70800" stroke="#f70800" stroke-width="0.4"/>
<path d="M406.8 205.6L518.9 164.5M404.9 204.5L517 161.8M402.9 203.4L515 159M401 202.3L513.1 156.2M399.1 201.2L511.2 153.4M397.1 200.1L509.3 150.6M395.2 199L507.3 147.7M393.2 197.9L505.4 144.8" fill="none" stroke="#000" stroke-width="0.65" stroke-opacity="0.5"/>
<path d="M391.3 196.8L503.5 141.9M389.4 195.7L501.6 138.9M387.4 194.6L499.6 136M385.5 193.5L497.7 133M383.6 192.4L495.8 130M381.6 191.2L493.9 126.9M379.7 190.1L491.9 123.9" fill="none" stroke="#000" stroke-width="0.65" stroke-opacity="0.6"/>
<path d="M377.7 189L490 120.8M375.8 187.9L488.1 117.7M373.9 186.8L486.1 114.6M371.9 185.7L484.2 111.4M370 184.6L482.3 108.3M368.1 183.5L480.4 105.1M366.1 182.4L478.4 101.9M364.2 181.3L476.5 98.7M362.3 180.2L474.6 95.5M360.3 179.1L472.7 92.3" fill="none" stroke="#000" stroke-width="0.65" stroke-opacity="0.7"/>
<path d="M358.4 178L470.7 89.1M356.4 176.9L468.8 85.8M354.5 175.8L466.9 82.5M352.6 174.7L465 79.3M350.6 173.6L463 76M348.7 172.5L461.1 72.7M346.8 171.4L459.2 69.4M344.8 170.3L457.3 66.1M342.9 169.2L455.3 62.8M341 168.1L453.4 59.5M339 167L451.5 56.2M337.1 165.9L449.5 52.9M335.1 164.7L447.6 49.5M333.2 163.6L445.7 46.2M331.3 162.5L443.8 42.9M329.3 161.4L441.8 39.5M327.4 160.3L439.9 36.2M325.5 159.2L438 32.9M323.5 158.1L436.1 29.6M321.6 157L434.1 26.2M319.6 155.9L432.2 22.9M317.7 154.8L430.3 19.6M315.8 153.7L428.4 16.3M313.8 152.6L426.4 13M311.9 151.5L424.5 9.7" fill="none" stroke="#000" stroke-width="0.65" stroke-opacity="0.8"/>
<path d="M406.8 205.6L404.9 204.5L402.9 203.4L401 202.3L399.1 201.2L397.1 200.1L395.2 199L393.2 197.9L391.3 196.8L389.4 195.7L387.4 194.6L385.5 193.5L383.6 192.4L381.6 191.2L379.7 190.1L377.7 189L375.8 187.9L373.9 186.8L371.9 185.7L370 184.6L368.1 183.5L366.1 182.4L364.2 181.3L362.3 180.2L360.3 179.1L358.4 178L356.4 176.9L354.5 175.8L352.6 174.7L350.6 173.6L348.7 172.5L346.8 171.4L344.8 170.3L342.9 169.2L341 168.1L339 167L337.1 165.9L335.1 164.7L333.2 163.6L331.3 162.5L329.3 161.4L327.4 160.3L325.5 159.2L323.5 158.1L321.6 157L319.6 155.9L317.7 154.8L315.8 153.7L313.8 152.6L311.9 151.5M419.3 201L417.3 199.7L415.4 198.5L413.4 197.2L411.5 195.9L409.6 194.6L407.6 193.3L405.7 192L403.8 190.7L401.8 189.4L399.9 188L398 186.7L396 185.4L394.1 184.1L392.2 182.8L390.2 181.5L388.3 180.1L386.4 178.8L384.4 177.5L382.5 176.1L380.5 174.8L378.6 173.5L376.7 172.1L374.7 170.8L372.8 169.5L370.9 168.1L368.9 166.8L367 165.4L365.1 164.1L363.1 162.7L361.2 161.4L359.3 160L357.3 158.7L355.4 157.3L353.4 156L351.5 154.6L349.6 153.3L347.6 151.9L345.7 150.6L343.8 149.2L341.8 147.9L339.9 146.5L338 145.2L336 143.8L334.1 142.5L332.2 141.1L330.2 139.8L328.3 138.4L326.3 137.1L324.4 135.7M431.7 196.5L429.8 195L427.8 193.5L425.9 192.1L424 190.6L422 189.1L420.1 187.6L418.2 186.1L416.2 184.6L414.3 183.1L412.4 181.5L410.4 180L408.5 178.5L406.6 177L404.6 175.4L402.7 173.9L400.8 172.3L398.8 170.8L396.9 169.2L395 167.7L393 166.1L391.1 164.5L389.2 163L387.2 161.4L385.3 159.8L383.3 158.2L381.4 156.7L379.5 155.1L377.5 153.5L375.6 151.9L373.7 150.3L371.7 148.7L369.8 147.1L367.9 145.5L365.9 143.9L364 142.3L362.1 140.7L360.1 139.1L358.2 137.5L356.3 135.9L354.3 134.3L352.4 132.8L350.5 131.2L348.5 129.6L346.6 128L344.7 126.4L342.7 124.8L340.8 123.2L338.9 121.6L336.9 120M444.2 191.9L442.2 190.3L440.3 188.6L438.4 186.9L436.4 185.3L434.5 183.6L432.6 181.9L430.6 180.2L428.7 178.5L426.8 176.8L424.8 175L422.9 173.3L421 171.6L419 169.8L417.1 168L415.2 166.3L413.2 164.5L411.3 162.7L409.4 161L407.4 159.2L405.5 157.4L403.6 155.6L401.6 153.8L399.7 152L397.8 150.2L395.8 148.4L393.9 146.5L392 144.7L390 142.9L388.1 141.1L386.2 139.2L384.2 137.4L382.3 135.6L380.4 133.7L378.4 131.9L376.5 130L374.6 128.2L372.6 126.3L370.7 124.5L368.8 122.7L366.8 120.8L364.9 119L363 117.1L361 115.3L359.1 113.4L357.2 111.6L355.2 109.7L353.3 107.9L351.4 106.1L349.4 104.2M456.6 187.3L454.7 185.5L452.8 183.7L450.8 181.8L448.9 180L447 178.1L445 176.2L443.1 174.3L441.2 172.4L439.2 170.5L437.3 168.5L435.4 166.6L433.4 164.6L431.5 162.7L429.6 160.7L427.6 158.7L425.7 156.7L423.8 154.7L421.8 152.7L419.9 150.7L418 148.7L416 146.6L414.1 144.6L412.2 142.6L410.2 140.5L408.3 138.5L406.4 136.4L404.5 134.3L402.5 132.3L400.6 130.2L398.7 128.1L396.7 126.1L394.8 124L392.9 121.9L390.9 119.8L389 117.7L387.1 115.6L385.1 113.5L383.2 111.4L381.3 109.4L379.3 107.3L377.4 105.2L375.5 103.1L373.5 101L371.6 98.9L369.7 96.8L367.7 94.7L365.8 92.6L363.9 90.6L361.9 88.5M469.1 182.8L467.1 180.8L465.2 178.7L463.3 176.7L461.4 174.6L459.4 172.6L457.5 170.5L455.6 168.4L453.6 166.3L451.7 164.2L449.8 162L447.8 159.9L445.9 157.7L444 155.5L442 153.3L440.1 151.1L438.2 148.9L436.2 146.7L434.3 144.5L432.4 142.2L430.5 140L428.5 137.7L426.6 135.4L424.7 133.2L422.7 130.9L420.8 128.6L418.9 126.3L416.9 124L415 121.7L413.1 119.4L411.1 117.1L409.2 114.7L407.3 112.4L405.4 110.1L403.4 107.7L401.5 105.4L399.6 103.1L397.6 100.7L395.7 98.4L393.8 96.1L391.8 93.7L389.9 91.4L388 89L386 86.7L384.1 84.4L382.2 82L380.2 79.7L378.3 77.4L376.4 75L374.5 72.7M481.5 178.2L479.6 176L477.7 173.8L475.7 171.6L473.8 169.3L471.9 167.1L470 164.8L468 162.5L466.1 160.2L464.2 157.8L462.2 155.5L460.3 153.1L458.4 150.8L456.4 148.4L454.5 146L452.6 143.5L450.7 141.1L448.7 138.7L446.8 136.2L444.9 133.7L442.9 131.2L441 128.8L439.1 126.3L437.1 123.7L435.2 121.2L433.3 118.7L431.4 116.2L429.4 113.6L427.5 111.1L425.6 108.5L423.6 106L421.7 103.4L419.8 100.8L417.8 98.3L415.9 95.7L414 93.1L412.1 90.5L410.1 87.9L408.2 85.3L406.3 82.8L404.3 80.2L402.4 77.6L400.5 75L398.5 72.4L396.6 69.8L394.7 67.3L392.8 64.7L390.8 62.1L388.9 59.5L387 57M494 173.6L492.1 171.3L490.1 168.9L488.2 166.5L486.3 164L484.3 161.6L482.4 159.1L480.5 156.6L478.6 154.1L476.6 151.5L474.7 149L472.8 146.4L470.8 143.8L468.9 141.2L467 138.6L465.1 136L463.1 133.3L461.2 130.6L459.3 127.9L457.3 125.2L455.4 122.5L453.5 119.8L451.6 117.1L449.6 114.3L447.7 111.6L445.8 108.8L443.8 106L441.9 103.3L440 100.5L438.1 97.7L436.1 94.9L434.2 92.1L432.3 89.3L430.3 86.4L428.4 83.6L426.5 80.8L424.6 78L422.6 75.1L420.7 72.3L418.8 69.5L416.8 66.6L414.9 63.8L413 61L411.1 58.1L409.1 55.3L407.2 52.5L405.3 49.7L403.3 46.8L401.4 44L399.5 41.2M506.4 169.1L504.5 166.5L502.6 163.9L500.7 161.3L498.7 158.7L496.8 156.1L494.9 153.4L493 150.7L491 148L489.1 145.2L487.2 142.5L485.2 139.7L483.3 136.9L481.4 134.1L479.5 131.2L477.5 128.4L475.6 125.5L473.7 122.6L471.7 119.7L469.8 116.8L467.9 113.8L466 110.9L464 107.9L462.1 104.9L460.2 101.9L458.3 98.9L456.3 95.9L454.4 92.9L452.5 89.9L450.5 86.8L448.6 83.8L446.7 80.7L444.8 77.7L442.8 74.6L440.9 71.6L439 68.5L437 65.4L435.1 62.3L433.2 59.3L431.3 56.2L429.3 53.1L427.4 50L425.5 46.9L423.6 43.9L421.6 40.8L419.7 37.7L417.8 34.6L415.8 31.6L413.9 28.5L412 25.5M518.9 164.5L517 161.8L515 159L513.1 156.2L511.2 153.4L509.3 150.6L507.3 147.7L505.4 144.8L503.5 141.9L501.6 138.9L499.6 136L497.7 133L495.8 130L493.9 126.9L491.9 123.9L490 120.8L488.1 117.7L486.1 114.6L484.2 111.4L482.3 108.3L480.4 105.1L478.4 101.9L476.5 98.7L474.6 95.5L472.7 92.3L470.7 89.1L468.8 85.8L466.9 82.5L465 79.3L463 76L461.1 72.7L459.2 69.4L457.3 66.1L455.3 62.8L453.4 59.5L451.5 56.2L449.5 52.9L447.6 49.5L445.7 46.2L443.8 42.9L441.8 39.5L439.9 36.2L438 32.9L436.1 29.6L434.1 26.2L432.2 22.9L430.3 19.6L428.4 16.3L426.4 13L424.5 9.7" fill="none" stroke="#000" stroke-width="0.7" stroke-opacity="0.8" stroke-linejoin="round"/>
<g style="font-family:'Liberation Serif',serif;font-size:9.3px" fill="#000" stroke="#000" stroke-width="0.2"><text transform="translate(305.7 156.2) scale(0.87 1)" text-anchor="end">0.02</text><text transform="translate(305.7 132.8) scale(0.87 1)" text-anchor="end">0.06</text><text transform="translate(305.7 109.3) scale(0.87 1)" text-anchor="end">0.1</text><text transform="translate(305.7 85.9) scale(0.87 1)" text-anchor="end">0.14</text><text transform="translate(305.7 62.5) scale(0.87 1)" text-anchor="end">0.18</text><text transform="translate(401.8 232) scale(0.87 1)" text-anchor="end">0</text><text transform="translate(382.6 221.1) scale(0.87 1)" text-anchor="end">10</text><text transform="translate(363.4 210.2) scale(0.87 1)" text-anchor="end">20</text><text transform="translate(344.1 199.2) scale(0.87 1)" text-anchor="end">30</text><text transform="translate(324.9 188.3) scale(0.87 1)" text-anchor="end">40</text><text transform="translate(305.7 177.4) scale(0.87 1)" text-anchor="end">50</text><text transform="translate(410.8 232.9) scale(0.87 1)">0</text><text transform="translate(435.8 224.5) scale(0.87 1)">20</text><text transform="translate(460.7 216.1) scale(0.87 1)">40</text><text transform="translate(485.7 207.7) scale(0.87 1)">60</text><text transform="translate(510.6 199.3) scale(0.87 1)">80</text><text transform="translate(535.6 190.9) scale(0.87 1)">100</text><text x="291.7" y="219" textLength="58.3" lengthAdjust="spacingAndGlyphs">Number of Nodes</text><text x="490.8" y="222.8" textLength="18.6" lengthAdjust="spacingAndGlyphs">R (m)</text><text transform="translate(290.2 155.7) scale(0.809 1) rotate(-90)" font-weight="bold" font-size="9.9" textLength="104.7" lengthAdjust="spacingAndGlyphs">Energy Consumption (J)</text></g>
<text x="392" y="245.4" textLength="45" lengthAdjust="spacingAndGlyphs" style="font-family:'Liberation Serif',serif;font-size:11.6px" fill="#000">(<tspan font-weight="bold">b</tspan>) GWO</text>
</g>
<g>
<path d="M54 402L54 283.9M79.5 394L79.5 275.9M105.1 385.9L105.1 267.8M130.6 377.9L130.6 259.8M156.2 369.8L156.2 251.7M28.4 386.5L156.2 346.2M156.2 346.2L252.3 399.1M28.4 362.9L156.2 322.6M156.2 322.6L252.3 375.5M28.4 339.2L156.2 298.9M156.2 298.9L252.3 351.8M28.4 315.6L156.2 275.3M156.2 275.3L252.3 328.2M28.4 292L156.2 251.7M156.2 251.7L252.3 304.6M175.4 380.4L175.4 262.3M194.6 391L194.6 272.9M213.9 401.5L213.9 283.4M233.1 412.1L233.1 294M252.3 422.7L252.3 304.6M150.1 454.9L54 402M175.6 446.9L79.5 394M201.2 438.8L105.1 385.9M226.7 430.8L130.6 377.9M252.3 422.7L156.2 369.8M105.3 452.4L233.1 412.1M86.1 441.8L213.9 401.5M66.8 431.3L194.6 391M47.6 420.7L175.4 380.4M28.4 410.1L156.2 369.8" fill="none" stroke="#8a8a8a" stroke-width="0.5" stroke-dasharray="0.9 1.4"/>
<path d="M28.4 292L28.4 410.1" fill="none" stroke="#555" stroke-width="1"/>
<path d="M28.4 410.1L124.5 463L252.3 422.7M28.4 410.1l-2.8 -1.5M28.4 386.5l-2.8 -1.5M28.4 362.9l-2.8 -1.5M28.4 339.2l-2.8 -1.5M28.4 315.6l-2.8 -1.5M28.4 292l-2.8 -1.5M124.5 463l-3.1 1M105.3 452.4l-3.1 1M86.1 441.8l-3.1 1M66.8 431.3l-3.1 1M47.6 420.7l-3.1 1M28.4 410.1l-3.1 1M124.5 463l2.8 1.5M150.1 454.9l2.8 1.5M175.6 446.9l2.8 1.5M201.2 438.8l2.8 1.5M226.7 430.8l2.8 1.5M252.3 422.7l2.8 1.5" fill="none" stroke="#333" stroke-width="0.8"/>
<path d="M124.5 462.4L122.6 461.3L120.6 460.2L118.7 459.1L116.8 458L114.8 456.9L112.9 455.8L111 454.7L109 453.6L107.1 452.5L105.2 451.4L103.2 450.3L101.3 449.2L99.4 448.2L97.4 447.1L95.5 446L93.6 444.9L91.6 443.8L89.7 442.7L87.8 441.6L85.8 440.5L83.9 439.4L82 438.3L80 437.2L78.1 436.1L76.2 435L74.3 433.9L72.3 432.8L70.4 431.7L68.5 430.6L66.5 429.5L64.6 428.4L62.7 427.3L60.7 426.2L58.8 425.1L56.9 424L54.9 422.9L53 421.9L51.1 420.8L49.1 419.7L47.2 418.6L45.3 417.5L43.3 416.4L41.4 415.3L39.5 414.2L37.5 413.1L35.6 412L33.7 410.9L31.7 409.8L29.8 408.7L42.5 394L44.4 395.3L46.4 396.5L48.3 397.8L50.3 399.1L52.2 400.3L54.1 401.6L56.1 402.9L58 404.2L59.9 405.4L61.9 406.7L63.8 408L65.7 409.3L67.7 410.6L69.6 411.9L71.5 413.2L73.5 414.4L75.4 415.7L77.3 417L79.3 418.3L81.2 419.6L83.2 420.9L85.1 422.2L87 423.5L89 424.8L90.9 426.1L92.8 427.4L94.8 428.7L96.7 430L98.6 431.3L100.6 432.6L102.5 434L104.4 435.3L106.4 436.6L108.3 437.9L110.2 439.2L112.2 440.5L114.1 441.8L116.1 443.1L118 444.4L119.9 445.7L121.9 447.1L123.8 448.4L125.7 449.7L127.7 451L129.6 452.3L131.5 453.6L133.5 454.9L135.4 456.2L137.3 457.5z" fill="#000083" stroke="#000083" stroke-width="0.4"/>
<path d="M137.3 457.5L135.4 456.2L133.5 454.9L131.5 453.6L144.4 448.1L146.3 449.6L148.3 451.2L150.2 452.7z" fill="#000083" stroke="#000083" stroke-width="0.4"/>
<path d="M131.5 453.6L129.6 452.3L127.7 451L125.7 449.7L123.8 448.4L121.9 447.1L119.9 445.7L118 444.4L116.1 443.1L114.1 441.8L112.2 440.5L125 432.8L126.9 434.4L128.9 435.9L130.8 437.4L132.7 438.9L134.7 440.5L136.6 442L138.6 443.5L140.5 445.1L142.4 446.6L144.4 448.1z" fill="#000093" stroke="#000093" stroke-width="0.4"/>
<path d="M112.2 440.5L110.2 439.2L108.3 437.9L106.4 436.6L104.4 435.3L102.5 434L100.6 432.6L98.6 431.3L96.7 430L109.5 420.7L111.4 422.2L113.4 423.7L115.3 425.2L117.2 426.8L119.2 428.3L121.1 429.8L123.1 431.3L125 432.8z" fill="#0000a2" stroke="#0000a2" stroke-width="0.4"/>
<path d="M96.7 430L94.8 428.7L92.8 427.4L90.9 426.1L89 424.8L87 423.5L85.1 422.2L83.2 420.9L95.9 410.1L97.9 411.6L99.8 413.1L101.7 414.6L103.7 416.1L105.6 417.7L107.6 419.2L109.5 420.7z" fill="#0000b2" stroke="#0000b2" stroke-width="0.4"/>
<path d="M83.2 420.9L81.2 419.6L79.3 418.3L77.3 417L75.4 415.7L73.5 414.4L71.5 413.2L69.6 411.9L82.4 399.7L84.3 401.2L86.2 402.7L88.2 404.2L90.1 405.6L92 407.1L94 408.6L95.9 410.1z" fill="#0000c1" stroke="#0000c1" stroke-width="0.4"/>
<path d="M69.6 411.9L67.7 410.6L65.7 409.3L63.8 408L61.9 406.7L59.9 405.4L58 404.2L56.1 402.9L68.8 389.4L70.7 390.9L72.7 392.3L74.6 393.8L76.5 395.3L78.5 396.7L80.4 398.2L82.4 399.7z" fill="#0000d1" stroke="#0000d1" stroke-width="0.4"/>
<path d="M56.1 402.9L54.1 401.6L52.2 400.3L50.3 399.1L48.3 397.8L46.4 396.5L44.4 395.3L42.5 394L55.2 379.3L57.2 380.8L59.1 382.2L61 383.6L63 385.1L64.9 386.5L66.9 388L68.8 389.4z" fill="#0000e0" stroke="#0000e0" stroke-width="0.4"/>
<path d="M150.2 452.7L148.3 451.2L146.3 449.6L144.4 448.1L157.2 442.6L159.2 444.3L161.1 446.1L163 447.8z" fill="#000093" stroke="#000093" stroke-width="0.4"/>
<path d="M144.4 448.1L142.4 446.6L140.5 445.1L138.6 443.5L136.6 442L134.7 440.5L132.7 438.9L145.6 432.1L147.5 433.9L149.4 435.6L151.4 437.4L153.3 439.1L155.3 440.9L157.2 442.6z" fill="#0000a2" stroke="#0000a2" stroke-width="0.4"/>
<path d="M132.7 438.9L130.8 437.4L128.9 435.9L126.9 434.4L125 432.8L137.8 425.2L139.7 426.9L141.7 428.7L143.6 430.4L145.6 432.1z" fill="#0000b2" stroke="#0000b2" stroke-width="0.4"/>
<path d="M125 432.8L123.1 431.3L121.1 429.8L119.2 428.3L117.2 426.8L130 418.2L132 420L133.9 421.7L135.9 423.4L137.8 425.2z" fill="#0000c1" stroke="#0000c1" stroke-width="0.4"/>
<path d="M117.2 426.8L115.3 425.2L113.4 423.7L111.4 422.2L109.5 420.7L122.3 411.3L124.2 413.1L126.2 414.8L128.1 416.5L130 418.2z" fill="#0000d1" stroke="#0000d1" stroke-width="0.4"/>
<path d="M109.5 420.7L107.6 419.2L105.6 417.7L103.7 416.1L101.7 414.6L114.5 404.5L116.5 406.2L118.4 407.9L120.3 409.6L122.3 411.3z" fill="#0000e0" stroke="#0000e0" stroke-width="0.4"/>
<path d="M101.7 414.6L99.8 413.1L97.9 411.6L95.9 410.1L108.7 399.3L110.6 401L112.6 402.7L114.5 404.5z" fill="#0000f0" stroke="#0000f0" stroke-width="0.4"/>
<path d="M95.9 410.1L94 408.6L92 407.1L90.1 405.6L88.2 404.2L100.9 392.6L102.9 394.2L104.8 395.9L106.7 397.6L108.7 399.3z" fill="#0008f7" stroke="#0008f7" stroke-width="0.4"/>
<path d="M88.2 404.2L86.2 402.7L84.3 401.2L82.4 399.7L95.1 387.5L97 389.2L99 390.9L100.9 392.6z" fill="#0017f7" stroke="#0017f7" stroke-width="0.4"/>
<path d="M82.4 399.7L80.4 398.2L78.5 396.7L76.5 395.3L89.3 382.5L91.2 384.2L93.2 385.9L95.1 387.5z" fill="#0027f7" stroke="#0027f7" stroke-width="0.4"/>
<path d="M76.5 395.3L74.6 393.8L72.7 392.3L70.7 390.9L68.8 389.4L81.5 375.9L83.5 377.6L85.4 379.2L87.3 380.9L89.3 382.5z" fill="#0036f7" stroke="#0036f7" stroke-width="0.4"/>
<path d="M68.8 389.4L66.9 388L64.9 386.5L63 385.1L75.7 371.1L77.6 372.7L79.6 374.3L81.5 375.9z" fill="#0046f7" stroke="#0046f7" stroke-width="0.4"/>
<path d="M63 385.1L61 383.6L59.1 382.2L57.2 380.8L55.2 379.3L67.9 364.6L69.9 366.2L71.8 367.8L73.8 369.4L75.7 371.1z" fill="#0055f7" stroke="#0055f7" stroke-width="0.4"/>
<path d="M163 447.8L161.1 446.1L159.2 444.3L157.2 442.6L170 437.1L172 439.1L173.9 441L175.9 443z" fill="#0000a2" stroke="#0000a2" stroke-width="0.4"/>
<path d="M157.2 442.6L155.3 440.9L153.3 439.1L151.4 437.4L149.4 435.6L162.3 429.3L164.2 431.2L166.2 433.2L168.1 435.1L170 437.1z" fill="#0000b2" stroke="#0000b2" stroke-width="0.4"/>
<path d="M149.4 435.6L147.5 433.9L145.6 432.1L143.6 430.4L156.4 423.4L158.4 425.4L160.3 427.3L162.3 429.3z" fill="#0000c1" stroke="#0000c1" stroke-width="0.4"/>
<path d="M143.6 430.4L141.7 428.7L139.7 426.9L137.8 425.2L150.6 417.5L152.6 419.5L154.5 421.4L156.4 423.4z" fill="#0000d1" stroke="#0000d1" stroke-width="0.4"/>
<path d="M137.8 425.2L135.9 423.4L133.9 421.7L132 420L144.8 411.7L146.7 413.6L148.7 415.6L150.6 417.5z" fill="#0000e0" stroke="#0000e0" stroke-width="0.4"/>
<path d="M132 420L130 418.2L128.1 416.5L126.2 414.8L139 405.9L140.9 407.8L142.8 409.7L144.8 411.7z" fill="#0000f0" stroke="#0000f0" stroke-width="0.4"/>
<path d="M126.2 414.8L124.2 413.1L122.3 411.3L135.1 402L137 403.9L139 405.9z" fill="#0008f7" stroke="#0008f7" stroke-width="0.4"/>
<path d="M122.3 411.3L120.3 409.6L118.4 407.9L116.5 406.2L129.2 396.2L131.2 398.1L133.1 400L135.1 402z" fill="#0017f7" stroke="#0017f7" stroke-width="0.4"/>
<path d="M116.5 406.2L114.5 404.5L112.6 402.7L125.3 392.4L127.3 394.3L129.2 396.2z" fill="#0027f7" stroke="#0027f7" stroke-width="0.4"/>
<path d="M112.6 402.7L110.6 401L108.7 399.3L121.5 388.5L123.4 390.5L125.3 392.4z" fill="#0036f7" stroke="#0036f7" stroke-width="0.4"/>
<path d="M108.7 399.3L106.7 397.6L104.8 395.9L102.9 394.2L115.6 382.9L117.6 384.7L119.5 386.6L121.5 388.5z" fill="#0046f7" stroke="#0046f7" stroke-width="0.4"/>
<path d="M102.9 394.2L100.9 392.6L99 390.9L111.7 379.1L113.7 381L115.6 382.9z" fill="#0055f7" stroke="#0055f7" stroke-width="0.4"/>
<path d="M99 390.9L97 389.2L95.1 387.5L107.9 375.3L109.8 377.2L111.7 379.1z" fill="#0064f7" stroke="#0064f7" stroke-width="0.4"/>
<path d="M95.1 387.5L93.2 385.9L91.2 384.2L104 371.6L105.9 373.5L107.9 375.3z" fill="#0074f7" stroke="#0074f7" stroke-width="0.4"/>
<path d="M91.2 384.2L89.3 382.5L87.3 380.9L85.4 379.2L98.1 366.1L100.1 367.9L102 369.8L104 371.6z" fill="#0083f7" stroke="#0083f7" stroke-width="0.4"/>
<path d="M85.4 379.2L83.5 377.6L81.5 375.9L94.2 362.5L96.2 364.3L98.1 366.1z" fill="#0093f7" stroke="#0093f7" stroke-width="0.4"/>
<path d="M81.5 375.9L79.6 374.3L77.6 372.7L90.4 358.8L92.3 360.6L94.2 362.5z" fill="#00a2f7" stroke="#00a2f7" stroke-width="0.4"/>
<path d="M77.6 372.7L75.7 371.1L73.8 369.4L86.5 355.3L88.4 357L90.4 358.8z" fill="#00b2f7" stroke="#00b2f7" stroke-width="0.4"/>
<path d="M73.8 369.4L71.8 367.8L69.9 366.2L67.9 364.6L80.6 349.9L82.6 351.7L84.5 353.5L86.5 355.3z" fill="#00c1f7" stroke="#00c1f7" stroke-width="0.4"/>
<path d="M175.9 443L173.9 441L172 439.1L170 437.1L182.9 431.6L184.8 433.8L186.8 435.9L188.7 438.1z" fill="#0000b2" stroke="#0000b2" stroke-width="0.4"/>
<path d="M170 437.1L168.1 435.1L166.2 433.2L164.2 431.2L177 425.1L179 427.3L180.9 429.4L182.9 431.6z" fill="#0000c1" stroke="#0000c1" stroke-width="0.4"/>
<path d="M164.2 431.2L162.3 429.3L160.3 427.3L158.4 425.4L171.2 418.6L173.2 420.7L175.1 422.9L177 425.1z" fill="#0000d1" stroke="#0000d1" stroke-width="0.4"/>
<path d="M158.4 425.4L156.4 423.4L154.5 421.4L167.3 414.2L169.3 416.4L171.2 418.6z" fill="#0000e0" stroke="#0000e0" stroke-width="0.4"/>
<path d="M154.5 421.4L152.6 419.5L150.6 417.5L163.4 409.9L165.4 412L167.3 414.2z" fill="#0000f0" stroke="#0000f0" stroke-width="0.4"/>
<path d="M150.6 417.5L148.7 415.6L146.7 413.6L159.5 405.5L161.5 407.7L163.4 409.9z" fill="#0008f7" stroke="#0008f7" stroke-width="0.4"/>
<path d="M146.7 413.6L144.8 411.7L142.8 409.7L155.6 401.2L157.6 403.4L159.5 405.5z" fill="#0017f7" stroke="#0017f7" stroke-width="0.4"/>
<path d="M142.8 409.7L140.9 407.8L139 405.9L151.7 396.9L153.7 399.1L155.6 401.2z" fill="#0027f7" stroke="#0027f7" stroke-width="0.4"/>
<path d="M139 405.9L137 403.9L135.1 402L147.9 392.6L149.8 394.8L151.7 396.9z" fill="#0036f7" stroke="#0036f7" stroke-width="0.4"/>
<path d="M135.1 402L133.1 400L131.2 398.1L144 388.4L145.9 390.5L147.9 392.6z" fill="#0046f7" stroke="#0046f7" stroke-width="0.4"/>
<path d="M131.2 398.1L129.2 396.2L127.3 394.3L140.1 384.1L142 386.2L144 388.4z" fill="#0055f7" stroke="#0055f7" stroke-width="0.4"/>
<path d="M127.3 394.3L125.3 392.4L138.1 382L140.1 384.1z" fill="#0064f7" stroke="#0064f7" stroke-width="0.4"/>
<path d="M125.3 392.4L123.4 390.5L121.5 388.5L134.2 377.8L136.2 379.9L138.1 382z" fill="#0074f7" stroke="#0074f7" stroke-width="0.4"/>
<path d="M121.5 388.5L119.5 386.6L117.6 384.7L130.3 373.6L132.3 375.7L134.2 377.8z" fill="#0083f7" stroke="#0083f7" stroke-width="0.4"/>
<path d="M117.6 384.7L115.6 382.9L113.7 381L126.4 369.4L128.4 371.5L130.3 373.6z" fill="#0093f7" stroke="#0093f7" stroke-width="0.4"/>
<path d="M113.7 381L111.7 379.1L124.5 367.3L126.4 369.4z" fill="#00a2f7" stroke="#00a2f7" stroke-width="0.4"/>
<path d="M111.7 379.1L109.8 377.2L107.9 375.3L120.6 363.2L122.5 365.2L124.5 367.3z" fill="#00b2f7" stroke="#00b2f7" stroke-width="0.4"/>
<path d="M107.9 375.3L105.9 373.5L104 371.6L116.7 359.1L118.7 361.1L120.6 363.2z" fill="#00c1f7" stroke="#00c1f7" stroke-width="0.4"/>
<path d="M104 371.6L102 369.8L114.8 357L116.7 359.1z" fill="#00d1f7" stroke="#00d1f7" stroke-width="0.4"/>
<path d="M102 369.8L100.1 367.9L98.1 366.1L110.9 353L112.8 355L114.8 357z" fill="#00e0f7" stroke="#00e0f7" stroke-width="0.4"/>
<path d="M98.1 366.1L96.2 364.3L94.2 362.5L107 349L108.9 351L110.9 353z" fill="#00f0f7" stroke="#00f0f7" stroke-width="0.4"/>
<path d="M94.2 362.5L92.3 360.6L90.4 358.8L103.1 345L105 347L107 349z" fill="#00f7ef" stroke="#00f7ef" stroke-width="0.4"/>
<path d="M90.4 358.8L88.4 357L101.1 343L103.1 345z" fill="#00f7de" stroke="#00f7de" stroke-width="0.4"/>
<path d="M88.4 357L86.5 355.3L84.5 353.5L97.2 339.1L99.2 341.1L101.1 343z" fill="#00f7ca" stroke="#00f7ca" stroke-width="0.4"/>
<path d="M84.5 353.5L82.6 351.7L80.6 349.9L93.4 335.3L95.3 337.2L97.2 339.1z" fill="#00f7b2" stroke="#00f7b2" stroke-width="0.4"/>
<path d="M188.7 438.1L186.8 435.9L184.8 433.8L182.9 431.6L195.7 426.1L197.7 428.5L199.6 430.9L201.6 433.3z" fill="#0000c1" stroke="#0000c1" stroke-width="0.4"/>
<path d="M182.9 431.6L180.9 429.4L179 427.3L191.8 421.3L193.8 423.7L195.7 426.1z" fill="#0000d1" stroke="#0000d1" stroke-width="0.4"/>
<path d="M179 427.3L177 425.1L175.1 422.9L173.2 420.7L186 414.1L187.9 416.5L189.9 418.9L191.8 421.3z" fill="#0000e0" stroke="#0000e0" stroke-width="0.4"/>
<path d="M173.2 420.7L171.2 418.6L169.3 416.4L182.1 409.4L184 411.8L186 414.1z" fill="#0000f0" stroke="#0000f0" stroke-width="0.4"/>
<path d="M169.3 416.4L167.3 414.2L180.1 407L182.1 409.4z" fill="#0008f7" stroke="#0008f7" stroke-width="0.4"/>
<path d="M167.3 414.2L165.4 412L163.4 409.9L176.2 402.2L178.2 404.6L180.1 407z" fill="#0017f7" stroke="#0017f7" stroke-width="0.4"/>
<path d="M163.4 409.9L161.5 407.7L159.5 405.5L172.3 397.5L174.3 399.8L176.2 402.2z" fill="#0027f7" stroke="#0027f7" stroke-width="0.4"/>
<path d="M159.5 405.5L157.6 403.4L155.6 401.2L168.4 392.7L170.4 395.1L172.3 397.5z" fill="#0036f7" stroke="#0036f7" stroke-width="0.4"/>
<path d="M155.6 401.2L153.7 399.1L166.5 390.4L168.4 392.7z" fill="#0046f7" stroke="#0046f7" stroke-width="0.4"/>
<path d="M153.7 399.1L151.7 396.9L149.8 394.8L162.6 385.6L164.5 388L166.5 390.4z" fill="#0055f7" stroke="#0055f7" stroke-width="0.4"/>
<path d="M149.8 394.8L147.9 392.6L160.6 383.3L162.6 385.6z" fill="#0064f7" stroke="#0064f7" stroke-width="0.4"/>
<path d="M147.9 392.6L145.9 390.5L144 388.4L156.7 378.6L158.7 380.9L160.6 383.3z" fill="#0074f7" stroke="#0074f7" stroke-width="0.4"/>
<path d="M144 388.4L142 386.2L154.8 376.2L156.7 378.6z" fill="#0083f7" stroke="#0083f7" stroke-width="0.4"/>
<path d="M142 386.2L140.1 384.1L152.8 373.9L154.8 376.2z" fill="#0093f7" stroke="#0093f7" stroke-width="0.4"/>
<path d="M140.1 384.1L138.1 382L136.2 379.9L148.9 369.3L150.9 371.6L152.8 373.9z" fill="#00a2f7" stroke="#00a2f7" stroke-width="0.4"/>
<path d="M136.2 379.9L134.2 377.8L147 367L148.9 369.3z" fill="#00b2f7" stroke="#00b2f7" stroke-width="0.4"/>
<path d="M134.2 377.8L132.3 375.7L130.3 373.6L143.1 362.4L145 364.7L147 367z" fill="#00c1f7" stroke="#00c1f7" stroke-width="0.4"/>
<path d="M130.3 373.6L128.4 371.5L141.1 360.1L143.1 362.4z" fill="#00d1f7" stroke="#00d1f7" stroke-width="0.4"/>
<path d="M128.4 371.5L126.4 369.4L139.2 357.8L141.1 360.1z" fill="#00e0f7" stroke="#00e0f7" stroke-width="0.4"/>
<path d="M126.4 369.4L124.5 367.3L122.5 365.2L135.3 353.3L137.3 355.5L139.2 357.8z" fill="#00f0f7" stroke="#00f0f7" stroke-width="0.4"/>
<path d="M122.5 365.2L120.6 363.2L133.4 351L135.3 353.3z" fill="#00f7ef" stroke="#00f7ef" stroke-width="0.4"/>
<path d="M120.6 363.2L118.7 361.1L131.4 348.8L133.4 351z" fill="#00f7de" stroke="#00f7de" stroke-width="0.4"/>
<path d="M118.7 361.1L116.7 359.1L114.8 357L127.5 344.3L129.5 346.5L131.4 348.8z" fill="#00f7ca" stroke="#00f7ca" stroke-width="0.4"/>
<path d="M114.8 357L112.8 355L125.6 342.1L127.5 344.3z" fill="#00f7b2" stroke="#00f7b2" stroke-width="0.4"/>
<path d="M112.8 355L110.9 353L123.6 339.9L125.6 342.1z" fill="#00f797" stroke="#00f797" stroke-width="0.4"/>
<path d="M110.9 353L108.9 351L107 349L119.7 335.5L121.7 337.7L123.6 339.9z" fill="#0cf77c" stroke="#0cf77c" stroke-width="0.4"/>
<path d="M107 349L105 347L117.8 333.3L119.7 335.5z" fill="#22f766" stroke="#22f766" stroke-width="0.4"/>
<path d="M105 347L103.1 345L101.1 343L113.9 329L115.8 331.2L117.8 333.3z" fill="#39f74f" stroke="#39f74f" stroke-width="0.4"/>
<path d="M101.1 343L99.2 341.1L111.9 326.9L113.9 329z" fill="#4ff739" stroke="#4ff739" stroke-width="0.4"/>
<path d="M99.2 341.1L97.2 339.1L110 324.8L111.9 326.9z" fill="#66f722" stroke="#66f722" stroke-width="0.4"/>
<path d="M97.2 339.1L95.3 337.2L93.4 335.3L106.1 320.6L108 322.7L110 324.8z" fill="#7cf70c" stroke="#7cf70c" stroke-width="0.4"/>
<path d="M201.6 433.3L199.6 430.9L197.7 428.5L195.7 426.1L208.6 420.6L210.5 423.2L212.5 425.8L214.4 428.4z" fill="#0000d1" stroke="#0000d1" stroke-width="0.4"/>
<path d="M195.7 426.1L193.8 423.7L191.8 421.3L204.7 415.4L206.6 418L208.6 420.6z" fill="#0000e0" stroke="#0000e0" stroke-width="0.4"/>
<path d="M191.8 421.3L189.9 418.9L187.9 416.5L200.7 410.2L202.7 412.8L204.7 415.4z" fill="#0000f0" stroke="#0000f0" stroke-width="0.4"/>
<path d="M187.9 416.5L186 414.1L184 411.8L196.8 405L198.8 407.6L200.7 410.2z" fill="#0008f7" stroke="#0008f7" stroke-width="0.4"/>
<path d="M184 411.8L182.1 409.4L194.9 402.4L196.8 405z" fill="#0017f7" stroke="#0017f7" stroke-width="0.4"/>
<path d="M182.1 409.4L180.1 407L178.2 404.6L191 397.2L192.9 399.8L194.9 402.4z" fill="#0027f7" stroke="#0027f7" stroke-width="0.4"/>
<path d="M178.2 404.6L176.2 402.2L189 394.6L191 397.2z" fill="#0036f7" stroke="#0036f7" stroke-width="0.4"/>
<path d="M176.2 402.2L174.3 399.8L172.3 397.5L185.1 389.4L187.1 392L189 394.6z" fill="#0046f7" stroke="#0046f7" stroke-width="0.4"/>
<path d="M172.3 397.5L170.4 395.1L183.2 386.8L185.1 389.4z" fill="#0055f7" stroke="#0055f7" stroke-width="0.4"/>
<path d="M170.4 395.1L168.4 392.7L181.2 384.2L183.2 386.8z" fill="#0064f7" stroke="#0064f7" stroke-width="0.4"/>
<path d="M168.4 392.7L166.5 390.4L164.5 388L177.3 379.1L179.3 381.6L181.2 384.2z" fill="#0074f7" stroke="#0074f7" stroke-width="0.4"/>
<path d="M164.5 388L162.6 385.6L175.4 376.5L177.3 379.1z" fill="#0083f7" stroke="#0083f7" stroke-width="0.4"/>
<path d="M162.6 385.6L160.6 383.3L173.4 373.9L175.4 376.5z" fill="#0093f7" stroke="#0093f7" stroke-width="0.4"/>
<path d="M160.6 383.3L158.7 380.9L171.5 371.4L173.4 373.9z" fill="#00a2f7" stroke="#00a2f7" stroke-width="0.4"/>
<path d="M158.7 380.9L156.7 378.6L154.8 376.2L167.6 366.3L169.5 368.8L171.5 371.4z" fill="#00b2f7" stroke="#00b2f7" stroke-width="0.4"/>
<path d="M154.8 376.2L152.8 373.9L165.6 363.7L167.6 366.3z" fill="#00c1f7" stroke="#00c1f7" stroke-width="0.4"/>
<path d="M152.8 373.9L150.9 371.6L163.7 361.2L165.6 363.7z" fill="#00d1f7" stroke="#00d1f7" stroke-width="0.4"/>
<path d="M150.9 371.6L148.9 369.3L161.7 358.7L163.7 361.2z" fill="#00e0f7" stroke="#00e0f7" stroke-width="0.4"/>
<path d="M148.9 369.3L147 367L159.8 356.2L161.7 358.7z" fill="#00f0f7" stroke="#00f0f7" stroke-width="0.4"/>
<path d="M147 367L145 364.7L157.8 353.7L159.8 356.2z" fill="#00f7ef" stroke="#00f7ef" stroke-width="0.4"/>
<path d="M145 364.7L143.1 362.4L141.1 360.1L153.9 348.7L155.9 351.2L157.8 353.7z" fill="#00f7de" stroke="#00f7de" stroke-width="0.4"/>
<path d="M141.1 360.1L139.2 357.8L152 346.2L153.9 348.7z" fill="#00f7ca" stroke="#00f7ca" stroke-width="0.4"/>
<path d="M139.2 357.8L137.3 355.5L150 343.7L152 346.2z" fill="#00f7b2" stroke="#00f7b2" stroke-width="0.4"/>
<path d="M137.3 355.5L135.3 353.3L148.1 341.3L150 343.7z" fill="#00f797" stroke="#00f797" stroke-width="0.4"/>
<path d="M135.3 353.3L133.4 351L146.1 338.8L148.1 341.3z" fill="#0cf77c" stroke="#0cf77c" stroke-width="0.4"/>
<path d="M133.4 351L131.4 348.8L144.1 336.4L146.1 338.8z" fill="#22f766" stroke="#22f766" stroke-width="0.4"/>
<path d="M131.4 348.8L129.5 346.5L142.2 334L144.1 336.4z" fill="#39f74f" stroke="#39f74f" stroke-width="0.4"/>
<path d="M129.5 346.5L127.5 344.3L140.2 331.6L142.2 334z" fill="#4ff739" stroke="#4ff739" stroke-width="0.4"/>
<path d="M127.5 344.3L125.6 342.1L123.6 339.9L136.3 326.8L138.3 329.2L140.2 331.6z" fill="#66f722" stroke="#66f722" stroke-width="0.4"/>
<path d="M123.6 339.9L121.7 337.7L134.4 324.4L136.3 326.8z" fill="#7cf70c" stroke="#7cf70c" stroke-width="0.4"/>
<path d="M121.7 337.7L119.7 335.5L132.4 322L134.4 324.4z" fill="#97f700" stroke="#97f700" stroke-width="0.4"/>
<path d="M119.7 335.5L117.8 333.3L130.5 319.7L132.4 322z" fill="#b2f700" stroke="#b2f700" stroke-width="0.4"/>
<path d="M117.8 333.3L115.8 331.2L128.5 317.3L130.5 319.7z" fill="#caf700" stroke="#caf700" stroke-width="0.4"/>
<path d="M115.8 331.2L113.9 329L126.6 315L128.5 317.3z" fill="#def700" stroke="#def700" stroke-width="0.4"/>
<path d="M113.9 329L111.9 326.9L124.6 312.7L126.6 315z" fill="#eff700" stroke="#eff700" stroke-width="0.4"/>
<path d="M111.9 326.9L110 324.8L108 322.7L120.7 308.1L122.7 310.4L124.6 312.7z" fill="#f7f000" stroke="#f7f000" stroke-width="0.4"/>
<path d="M108 322.7L106.1 320.6L118.8 305.9L120.7 308.1z" fill="#f7e000" stroke="#f7e000" stroke-width="0.4"/>
<path d="M214.4 428.4L212.5 425.8L210.5 423.2L208.6 420.6L221.4 415.1L223.3 417.9L225.3 420.7L227.3 423.6z" fill="#0000e0" stroke="#0000e0" stroke-width="0.4"/>
<path d="M208.6 420.6L206.6 418L204.7 415.4L217.5 409.5L219.4 412.3L221.4 415.1z" fill="#0000f0" stroke="#0000f0" stroke-width="0.4"/>
<path d="M204.7 415.4L202.7 412.8L215.5 406.6L217.5 409.5z" fill="#0008f7" stroke="#0008f7" stroke-width="0.4"/>
<path d="M202.7 412.8L200.7 410.2L198.8 407.6L211.6 401L213.6 403.8L215.5 406.6z" fill="#0017f7" stroke="#0017f7" stroke-width="0.4"/>
<path d="M198.8 407.6L196.8 405L209.7 398.2L211.6 401z" fill="#0027f7" stroke="#0027f7" stroke-width="0.4"/>
<path d="M196.8 405L194.9 402.4L192.9 399.8L205.8 392.5L207.7 395.3L209.7 398.2z" fill="#0036f7" stroke="#0036f7" stroke-width="0.4"/>
<path d="M192.9 399.8L191 397.2L203.8 389.7L205.8 392.5z" fill="#0046f7" stroke="#0046f7" stroke-width="0.4"/>
<path d="M191 397.2L189 394.6L201.8 386.9L203.8 389.7z" fill="#0055f7" stroke="#0055f7" stroke-width="0.4"/>
<path d="M189 394.6L187.1 392L199.9 384.1L201.8 386.9z" fill="#0064f7" stroke="#0064f7" stroke-width="0.4"/>
<path d="M187.1 392L185.1 389.4L183.2 386.8L196 378.5L197.9 381.3L199.9 384.1z" fill="#0074f7" stroke="#0074f7" stroke-width="0.4"/>
<path d="M183.2 386.8L181.2 384.2L194 375.7L196 378.5z" fill="#0083f7" stroke="#0083f7" stroke-width="0.4"/>
<path d="M181.2 384.2L179.3 381.6L192.1 372.9L194 375.7z" fill="#0093f7" stroke="#0093f7" stroke-width="0.4"/>
<path d="M179.3 381.6L177.3 379.1L190.1 370.1L192.1 372.9z" fill="#00a2f7" stroke="#00a2f7" stroke-width="0.4"/>
<path d="M177.3 379.1L175.4 376.5L188.2 367.3L190.1 370.1z" fill="#00b2f7" stroke="#00b2f7" stroke-width="0.4"/>
<path d="M175.4 376.5L173.4 373.9L186.2 364.6L188.2 367.3z" fill="#00c1f7" stroke="#00c1f7" stroke-width="0.4"/>
<path d="M173.4 373.9L171.5 371.4L184.3 361.8L186.2 364.6z" fill="#00d1f7" stroke="#00d1f7" stroke-width="0.4"/>
<path d="M171.5 371.4L169.5 368.8L182.3 359.1L184.3 361.8z" fill="#00e0f7" stroke="#00e0f7" stroke-width="0.4"/>
<path d="M169.5 368.8L167.6 366.3L180.3 356.3L182.3 359.1z" fill="#00f0f7" stroke="#00f0f7" stroke-width="0.4"/>
<path d="M167.6 366.3L165.6 363.7L178.4 353.6L180.3 356.3z" fill="#00f7ef" stroke="#00f7ef" stroke-width="0.4"/>
<path d="M165.6 363.7L163.7 361.2L176.4 350.8L178.4 353.6z" fill="#00f7de" stroke="#00f7de" stroke-width="0.4"/>
<path d="M163.7 361.2L161.7 358.7L174.5 348.1L176.4 350.8z" fill="#00f7ca" stroke="#00f7ca" stroke-width="0.4"/>
<path d="M161.7 358.7L159.8 356.2L172.5 345.4L174.5 348.1z" fill="#00f7b2" stroke="#00f7b2" stroke-width="0.4"/>
<path d="M159.8 356.2L157.8 353.7L170.6 342.7L172.5 345.4z" fill="#00f797" stroke="#00f797" stroke-width="0.4"/>
<path d="M157.8 353.7L155.9 351.2L168.6 340L170.6 342.7z" fill="#0cf77c" stroke="#0cf77c" stroke-width="0.4"/>
<path d="M155.9 351.2L153.9 348.7L166.7 337.3L168.6 340z" fill="#22f766" stroke="#22f766" stroke-width="0.4"/>
<path d="M153.9 348.7L152 346.2L164.7 334.6L166.7 337.3z" fill="#39f74f" stroke="#39f74f" stroke-width="0.4"/>
<path d="M152 346.2L150 343.7L162.8 331.9L164.7 334.6z" fill="#4ff739" stroke="#4ff739" stroke-width="0.4"/>
<path d="M150 343.7L148.1 341.3L160.8 329.3L162.8 331.9z" fill="#66f722" stroke="#66f722" stroke-width="0.4"/>
<path d="M148.1 341.3L146.1 338.8L158.9 326.7L160.8 329.3z" fill="#7cf70c" stroke="#7cf70c" stroke-width="0.4"/>
<path d="M146.1 338.8L144.1 336.4L156.9 324L158.9 326.7z" fill="#97f700" stroke="#97f700" stroke-width="0.4"/>
<path d="M144.1 336.4L142.2 334L154.9 321.4L156.9 324z" fill="#b2f700" stroke="#b2f700" stroke-width="0.4"/>
<path d="M142.2 334L140.2 331.6L153 318.8L154.9 321.4z" fill="#caf700" stroke="#caf700" stroke-width="0.4"/>
<path d="M140.2 331.6L138.3 329.2L151 316.2L153 318.8z" fill="#def700" stroke="#def700" stroke-width="0.4"/>
<path d="M138.3 329.2L136.3 326.8L149.1 313.6L151 316.2z" fill="#eff700" stroke="#eff700" stroke-width="0.4"/>
<path d="M136.3 326.8L134.4 324.4L147.1 311.1L149.1 313.6z" fill="#f7f000" stroke="#f7f000" stroke-width="0.4"/>
<path d="M134.4 324.4L132.4 322L145.2 308.5L147.1 311.1z" fill="#f7e000" stroke="#f7e000" stroke-width="0.4"/>
<path d="M132.4 322L130.5 319.7L143.2 306L145.2 308.5z" fill="#f7d100" stroke="#f7d100" stroke-width="0.4"/>
<path d="M130.5 319.7L128.5 317.3L141.3 303.5L143.2 306z" fill="#f7c100" stroke="#f7c100" stroke-width="0.4"/>
<path d="M128.5 317.3L126.6 315L139.3 301L141.3 303.5z" fill="#f7b200" stroke="#f7b200" stroke-width="0.4"/>
<path d="M126.6 315L124.6 312.7L137.4 298.5L139.3 301z" fill="#f7a200" stroke="#f7a200" stroke-width="0.4"/>
<path d="M124.6 312.7L122.7 310.4L135.4 296.1L137.4 298.5z" fill="#f79300" stroke="#f79300" stroke-width="0.4"/>
<path d="M122.7 310.4L120.7 308.1L133.4 293.6L135.4 296.1z" fill="#f78300" stroke="#f78300" stroke-width="0.4"/>
<path d="M120.7 308.1L118.8 305.9L131.5 291.2L133.4 293.6z" fill="#f77400" stroke="#f77400" stroke-width="0.4"/>
<path d="M227.3 423.6L225.3 420.7L223.3 417.9L221.4 415.1L234.2 409.6L236.2 412.6L238.1 415.7L240.1 418.7z" fill="#0000f0" stroke="#0000f0" stroke-width="0.4"/>
<path d="M221.4 415.1L219.4 412.3L217.5 409.5L230.3 403.5L232.3 406.6L234.2 409.6z" fill="#0008f7" stroke="#0008f7" stroke-width="0.4"/>
<path d="M217.5 409.5L215.5 406.6L228.4 400.5L230.3 403.5z" fill="#0017f7" stroke="#0017f7" stroke-width="0.4"/>
<path d="M215.5 406.6L213.6 403.8L226.4 397.4L228.4 400.5z" fill="#0027f7" stroke="#0027f7" stroke-width="0.4"/>
<path d="M213.6 403.8L211.6 401L209.7 398.2L222.5 391.4L224.4 394.4L226.4 397.4z" fill="#0036f7" stroke="#0036f7" stroke-width="0.4"/>
<path d="M209.7 398.2L207.7 395.3L220.5 388.3L222.5 391.4z" fill="#0046f7" stroke="#0046f7" stroke-width="0.4"/>
<path d="M207.7 395.3L205.8 392.5L218.6 385.3L220.5 388.3z" fill="#0055f7" stroke="#0055f7" stroke-width="0.4"/>
<path d="M205.8 392.5L203.8 389.7L216.6 382.3L218.6 385.3z" fill="#0064f7" stroke="#0064f7" stroke-width="0.4"/>
<path d="M203.8 389.7L201.8 386.9L214.7 379.3L216.6 382.3z" fill="#0074f7" stroke="#0074f7" stroke-width="0.4"/>
<path d="M201.8 386.9L199.9 384.1L212.7 376.2L214.7 379.3z" fill="#0083f7" stroke="#0083f7" stroke-width="0.4"/>
<path d="M199.9 384.1L197.9 381.3L210.7 373.2L212.7 376.2z" fill="#0093f7" stroke="#0093f7" stroke-width="0.4"/>
<path d="M197.9 381.3L196 378.5L208.8 370.2L210.7 373.2z" fill="#00a2f7" stroke="#00a2f7" stroke-width="0.4"/>
<path d="M196 378.5L194 375.7L206.8 367.2L208.8 370.2z" fill="#00b2f7" stroke="#00b2f7" stroke-width="0.4"/>
<path d="M194 375.7L192.1 372.9L204.9 364.2L206.8 367.2z" fill="#00c1f7" stroke="#00c1f7" stroke-width="0.4"/>
<path d="M192.1 372.9L190.1 370.1L202.9 361.2L204.9 364.2z" fill="#00d1f7" stroke="#00d1f7" stroke-width="0.4"/>
<path d="M190.1 370.1L188.2 367.3L201 358.2L202.9 361.2z" fill="#00e0f7" stroke="#00e0f7" stroke-width="0.4"/>
<path d="M188.2 367.3L186.2 364.6L199 355.2L201 358.2z" fill="#00f0f7" stroke="#00f0f7" stroke-width="0.4"/>
<path d="M186.2 364.6L184.3 361.8L197 352.2L199 355.2z" fill="#00f7ef" stroke="#00f7ef" stroke-width="0.4"/>
<path d="M184.3 361.8L182.3 359.1L195.1 349.3L197 352.2z" fill="#00f7de" stroke="#00f7de" stroke-width="0.4"/>
<path d="M182.3 359.1L180.3 356.3L193.1 346.3L195.1 349.3z" fill="#00f7ca" stroke="#00f7ca" stroke-width="0.4"/>
<path d="M180.3 356.3L178.4 353.6L191.2 343.4L193.1 346.3z" fill="#00f7b2" stroke="#00f7b2" stroke-width="0.4"/>
<path d="M178.4 353.6L176.4 350.8L189.2 340.4L191.2 343.4z" fill="#00f797" stroke="#00f797" stroke-width="0.4"/>
<path d="M176.4 350.8L174.5 348.1L187.3 337.5L189.2 340.4z" fill="#22f766" stroke="#22f766" stroke-width="0.4"/>
<path d="M174.5 348.1L172.5 345.4L185.3 334.6L187.3 337.5z" fill="#39f74f" stroke="#39f74f" stroke-width="0.4"/>
<path d="M172.5 345.4L170.6 342.7L183.3 331.7L185.3 334.6z" fill="#4ff739" stroke="#4ff739" stroke-width="0.4"/>
<path d="M170.6 342.7L168.6 340L181.4 328.8L183.3 331.7z" fill="#66f722" stroke="#66f722" stroke-width="0.4"/>
<path d="M168.6 340L166.7 337.3L179.4 325.9L181.4 328.8z" fill="#7cf70c" stroke="#7cf70c" stroke-width="0.4"/>
<path d="M166.7 337.3L164.7 334.6L177.5 323L179.4 325.9z" fill="#97f700" stroke="#97f700" stroke-width="0.4"/>
<path d="M164.7 334.6L162.8 331.9L175.5 320.2L177.5 323z" fill="#b2f700" stroke="#b2f700" stroke-width="0.4"/>
<path d="M162.8 331.9L160.8 329.3L173.6 317.3L175.5 320.2z" fill="#def700" stroke="#def700" stroke-width="0.4"/>
<path d="M160.8 329.3L158.9 326.7L171.6 314.5L173.6 317.3z" fill="#eff700" stroke="#eff700" stroke-width="0.4"/>
<path d="M158.9 326.7L156.9 324L169.6 311.7L171.6 314.5z" fill="#f7f000" stroke="#f7f000" stroke-width="0.4"/>
<path d="M156.9 324L154.9 321.4L167.7 308.9L169.6 311.7z" fill="#f7e000" stroke="#f7e000" stroke-width="0.4"/>
<path d="M154.9 321.4L153 318.8L165.7 306.1L167.7 308.9z" fill="#f7d100" stroke="#f7d100" stroke-width="0.4"/>
<path d="M153 318.8L151 316.2L163.8 303.3L165.7 306.1z" fill="#f7b200" stroke="#f7b200" stroke-width="0.4"/>
<path d="M151 316.2L149.1 313.6L161.8 300.5L163.8 303.3z" fill="#f7a200" stroke="#f7a200" stroke-width="0.4"/>
<path d="M149.1 313.6L147.1 311.1L159.9 297.8L161.8 300.5z" fill="#f79300" stroke="#f79300" stroke-width="0.4"/>
<path d="M147.1 311.1L145.2 308.5L157.9 295.1L159.9 297.8z" fill="#f78300" stroke="#f78300" stroke-width="0.4"/>
<path d="M145.2 308.5L143.2 306L155.9 292.4L157.9 295.1z" fill="#f77400" stroke="#f77400" stroke-width="0.4"/>
<path d="M143.2 306L141.3 303.5L154 289.7L155.9 292.4z" fill="#f76400" stroke="#f76400" stroke-width="0.4"/>
<path d="M141.3 303.5L139.3 301L152 287L154 289.7z" fill="#f74600" stroke="#f74600" stroke-width="0.4"/>
<path d="M139.3 301L137.4 298.5L150.1 284.3L152 287z" fill="#f73600" stroke="#f73600" stroke-width="0.4"/>
<path d="M137.4 298.5L135.4 296.1L148.1 281.7L150.1 284.3z" fill="#f72700" stroke="#f72700" stroke-width="0.4"/>
<path d="M135.4 296.1L133.4 293.6L146.2 279.1L148.1 281.7z" fill="#f71700" stroke="#f71700" stroke-width="0.4"/>
<path d="M133.4 293.6L131.5 291.2L144.2 276.5L146.2 279.1z" fill="#f70800" stroke="#f70800" stroke-width="0.4"/>
<path d="M124.5 462.4L240.1 418.7M122.6 461.3L238.1 415.7M120.6 460.2L236.2 412.6M118.7 459.1L234.2 409.6M116.8 458L232.3 406.6M114.8 456.9L230.3 403.5M112.9 455.8L228.4 400.5M111 454.7L226.4 397.4" fill="none" stroke="#000" stroke-width="0.65" stroke-opacity="0.5"/>
<path d="M109 453.6L224.4 394.4M107.1 452.5L222.5 391.4M105.2 451.4L220.5 388.3M103.2 450.3L218.6 385.3M101.3 449.2L216.6 382.3M99.4 448.2L214.7 379.3M97.4 447.1L212.7 376.2" fill="none" stroke="#000" stroke-width="0.65" stroke-opacity="0.6"/>
<path d="M95.5 446L210.7 373.2M93.6 444.9L208.8 370.2M91.6 443.8L206.8 367.2M89.7 442.7L204.9 364.2M87.8 441.6L202.9 361.2M85.8 440.5L201 358.2M83.9 439.4L199 355.2M82 438.3L197 352.2M80 437.2L195.1 349.3M78.1 436.1L193.1 346.3" fill="none" stroke="#000" stroke-width="0.65" stroke-opacity="0.7"/>
<path d="M76.2 435L191.2 343.4M74.3 433.9L189.2 340.4M72.3 432.8L187.3 337.5M70.4 431.7L185.3 334.6M68.5 430.6L183.3 331.7M66.5 429.5L181.4 328.8M64.6 428.4L179.4 325.9M62.7 427.3L177.5 323M60.7 426.2L175.5 320.2M58.8 425.1L173.6 317.3M56.9 424L171.6 314.5M54.9 422.9L169.6 311.7M53 421.9L167.7 308.9M51.1 420.8L165.7 306.1M49.1 419.7L163.8 303.3M47.2 418.6L161.8 300.5M45.3 417.5L159.9 297.8M43.3 416.4L157.9 295.1M41.4 415.3L155.9 292.4M39.5 414.2L154 289.7M37.5 413.1L152 287M35.6 412L150.1 284.3M33.7 410.9L148.1 281.7M31.7 409.8L146.2 279.1M29.8 408.7L144.2 276.5" fill="none" stroke="#000" stroke-width="0.65" stroke-opacity="0.8"/>
<path d="M124.5 462.4L122.6 461.3L120.6 460.2L118.7 459.1L116.8 458L114.8 456.9L112.9 455.8L111 454.7L109 453.6L107.1 452.5L105.2 451.4L103.2 450.3L101.3 449.2L99.4 448.2L97.4 447.1L95.5 446L93.6 444.9L91.6 443.8L89.7 442.7L87.8 441.6L85.8 440.5L83.9 439.4L82 438.3L80 437.2L78.1 436.1L76.2 435L74.3 433.9L72.3 432.8L70.4 431.7L68.5 430.6L66.5 429.5L64.6 428.4L62.7 427.3L60.7 426.2L58.8 425.1L56.9 424L54.9 422.9L53 421.9L51.1 420.8L49.1 419.7L47.2 418.6L45.3 417.5L43.3 416.4L41.4 415.3L39.5 414.2L37.5 413.1L35.6 412L33.7 410.9L31.7 409.8L29.8 408.7M137.3 457.5L135.4 456.2L133.5 454.9L131.5 453.6L129.6 452.3L127.7 451L125.7 449.7L123.8 448.4L121.9 447.1L119.9 445.7L118 444.4L116.1 443.1L114.1 441.8L112.2 440.5L110.2 439.2L108.3 437.9L106.4 436.6L104.4 435.3L102.5 434L100.6 432.6L98.6 431.3L96.7 430L94.8 428.7L92.8 427.4L90.9 426.1L89 424.8L87 423.5L85.1 422.2L83.2 420.9L81.2 419.6L79.3 418.3L77.3 417L75.4 415.7L73.5 414.4L71.5 413.2L69.6 411.9L67.7 410.6L65.7 409.3L63.8 408L61.9 406.7L59.9 405.4L58 404.2L56.1 402.9L54.1 401.6L52.2 400.3L50.3 399.1L48.3 397.8L46.4 396.5L44.4 395.3L42.5 394M150.2 452.7L148.3 451.2L146.3 449.6L144.4 448.1L142.4 446.6L140.5 445.1L138.6 443.5L136.6 442L134.7 440.5L132.7 438.9L130.8 437.4L128.9 435.9L126.9 434.4L125 432.8L123.1 431.3L121.1 429.8L119.2 428.3L117.2 426.8L115.3 425.2L113.4 423.7L111.4 422.2L109.5 420.7L107.6 419.2L105.6 417.7L103.7 416.1L101.7 414.6L99.8 413.1L97.9 411.6L95.9 410.1L94 408.6L92 407.1L90.1 405.6L88.2 404.2L86.2 402.7L84.3 401.2L82.4 399.7L80.4 398.2L78.5 396.7L76.5 395.3L74.6 393.8L72.7 392.3L70.7 390.9L68.8 389.4L66.9 388L64.9 386.5L63 385.1L61 383.6L59.1 382.2L57.2 380.8L55.2 379.3M163 447.8L161.1 446.1L159.2 444.3L157.2 442.6L155.3 440.9L153.3 439.1L151.4 437.4L149.4 435.6L147.5 433.9L145.6 432.1L143.6 430.4L141.7 428.7L139.7 426.9L137.8 425.2L135.9 423.4L133.9 421.7L132 420L130 418.2L128.1 416.5L126.2 414.8L124.2 413.1L122.3 411.3L120.3 409.6L118.4 407.9L116.5 406.2L114.5 404.5L112.6 402.7L110.6 401L108.7 399.3L106.7 397.6L104.8 395.9L102.9 394.2L100.9 392.6L99 390.9L97 389.2L95.1 387.5L93.2 385.9L91.2 384.2L89.3 382.5L87.3 380.9L85.4 379.2L83.5 377.6L81.5 375.9L79.6 374.3L77.6 372.7L75.7 371.1L73.8 369.4L71.8 367.8L69.9 366.2L67.9 364.6M175.9 443L173.9 441L172 439.1L170 437.1L168.1 435.1L166.2 433.2L164.2 431.2L162.3 429.3L160.3 427.3L158.4 425.4L156.4 423.4L154.5 421.4L152.6 419.5L150.6 417.5L148.7 415.6L146.7 413.6L144.8 411.7L142.8 409.7L140.9 407.8L139 405.9L137 403.9L135.1 402L133.1 400L131.2 398.1L129.2 396.2L127.3 394.3L125.3 392.4L123.4 390.5L121.5 388.5L119.5 386.6L117.6 384.7L115.6 382.9L113.7 381L111.7 379.1L109.8 377.2L107.9 375.3L105.9 373.5L104 371.6L102 369.8L100.1 367.9L98.1 366.1L96.2 364.3L94.2 362.5L92.3 360.6L90.4 358.8L88.4 357L86.5 355.3L84.5 353.5L82.6 351.7L80.6 349.9M188.7 438.1L186.8 435.9L184.8 433.8L182.9 431.6L180.9 429.4L179 427.3L177 425.1L175.1 422.9L173.2 420.7L171.2 418.6L169.3 416.4L167.3 414.2L165.4 412L163.4 409.9L161.5 407.7L159.5 405.5L157.6 403.4L155.6 401.2L153.7 399.1L151.7 396.9L149.8 394.8L147.9 392.6L145.9 390.5L144 388.4L142 386.2L140.1 384.1L138.1 382L136.2 379.9L134.2 377.8L132.3 375.7L130.3 373.6L128.4 371.5L126.4 369.4L124.5 367.3L122.5 365.2L120.6 363.2L118.7 361.1L116.7 359.1L114.8 357L112.8 355L110.9 353L108.9 351L107 349L105 347L103.1 345L101.1 343L99.2 341.1L97.2 339.1L95.3 337.2L93.4 335.3M201.6 433.3L199.6 430.9L197.7 428.5L195.7 426.1L193.8 423.7L191.8 421.3L189.9 418.9L187.9 416.5L186 414.1L184 411.8L182.1 409.4L180.1 407L178.2 404.6L176.2 402.2L174.3 399.8L172.3 397.5L170.4 395.1L168.4 392.7L166.5 390.4L164.5 388L162.6 385.6L160.6 383.3L158.7 380.9L156.7 378.6L154.8 376.2L152.8 373.9L150.9 371.6L148.9 369.3L147 367L145 364.7L143.1 362.4L141.1 360.1L139.2 357.8L137.3 355.5L135.3 353.3L133.4 351L131.4 348.8L129.5 346.5L127.5 344.3L125.6 342.1L123.6 339.9L121.7 337.7L119.7 335.5L117.8 333.3L115.8 331.2L113.9 329L111.9 326.9L110 324.8L108 322.7L106.1 320.6M214.4 428.4L212.5 425.8L210.5 423.2L208.6 420.6L206.6 418L204.7 415.4L202.7 412.8L200.7 410.2L198.8 407.6L196.8 405L194.9 402.4L192.9 399.8L191 397.2L189 394.6L187.1 392L185.1 389.4L183.2 386.8L181.2 384.2L179.3 381.6L177.3 379.1L175.4 376.5L173.4 373.9L171.5 371.4L169.5 368.8L167.6 366.3L165.6 363.7L163.7 361.2L161.7 358.7L159.8 356.2L157.8 353.7L155.9 351.2L153.9 348.7L152 346.2L150 343.7L148.1 341.3L146.1 338.8L144.1 336.4L142.2 334L140.2 331.6L138.3 329.2L136.3 326.8L134.4 324.4L132.4 322L130.5 319.7L128.5 317.3L126.6 315L124.6 312.7L122.7 310.4L120.7 308.1L118.8 305.9M227.3 423.6L225.3 420.7L223.3 417.9L221.4 415.1L219.4 412.3L217.5 409.5L215.5 406.6L213.6 403.8L211.6 401L209.7 398.2L207.7 395.3L205.8 392.5L203.8 389.7L201.8 386.9L199.9 384.1L197.9 381.3L196 378.5L194 375.7L192.1 372.9L190.1 370.1L188.2 367.3L186.2 364.6L184.3 361.8L182.3 359.1L180.3 356.3L178.4 353.6L176.4 350.8L174.5 348.1L172.5 345.4L170.6 342.7L168.6 340L166.7 337.3L164.7 334.6L162.8 331.9L160.8 329.3L158.9 326.7L156.9 324L154.9 321.4L153 318.8L151 316.2L149.1 313.6L147.1 311.1L145.2 308.5L143.2 306L141.3 303.5L139.3 301L137.4 298.5L135.4 296.1L133.4 293.6L131.5 291.2M240.1 418.7L238.1 415.7L236.2 412.6L234.2 409.6L232.3 406.6L230.3 403.5L228.4 400.5L226.4 397.4L224.4 394.4L222.5 391.4L220.5 388.3L218.6 385.3L216.6 382.3L214.7 379.3L212.7 376.2L210.7 373.2L208.8 370.2L206.8 367.2L204.9 364.2L202.9 361.2L201 358.2L199 355.2L197 352.2L195.1 349.3L193.1 346.3L191.2 343.4L189.2 340.4L187.3 337.5L185.3 334.6L183.3 331.7L181.4 328.8L179.4 325.9L177.5 323L175.5 320.2L173.6 317.3L171.6 314.5L169.6 311.7L167.7 308.9L165.7 306.1L163.8 303.3L161.8 300.5L159.9 297.8L157.9 295.1L155.9 292.4L154 289.7L152 287L150.1 284.3L148.1 281.7L146.2 279.1L144.2 276.5" fill="none" stroke="#000" stroke-width="0.7" stroke-opacity="0.8" stroke-linejoin="round"/>
<g style="font-family:'Liberation Serif',serif;font-size:8.6px" fill="#000" stroke="#000" stroke-width="0.2"><text transform="translate(23 413.3) scale(0.85 1)" text-anchor="end">0.02</text><text transform="translate(23 389.7) scale(0.85 1)" text-anchor="end">0.04</text><text transform="translate(23 366.1) scale(0.85 1)" text-anchor="end">0.06</text><text transform="translate(23 342.4) scale(0.85 1)" text-anchor="end">0.08</text><text transform="translate(23 318.8) scale(0.85 1)" text-anchor="end">0.1</text><text transform="translate(23 295.2) scale(0.85 1)" text-anchor="end">0.12</text><text transform="translate(119.9 475.6) scale(0.85 1)" text-anchor="end">0</text><text transform="translate(100.7 465) scale(0.85 1)" text-anchor="end">10</text><text transform="translate(81.5 454.4) scale(0.85 1)" text-anchor="end">20</text><text transform="translate(62.2 443.9) scale(0.85 1)" text-anchor="end">30</text><text transform="translate(43 433.3) scale(0.85 1)" text-anchor="end">40</text><text transform="translate(23.8 422.7) scale(0.85 1)" text-anchor="end">50</text><text transform="translate(129.7 475.6) scale(0.85 1)">0</text><text transform="translate(155.3 467.5) scale(0.85 1)">20</text><text transform="translate(180.8 459.5) scale(0.85 1)">40</text><text transform="translate(206.4 451.4) scale(0.85 1)">60</text><text transform="translate(231.9 443.4) scale(0.85 1)">80</text><text transform="translate(257.5 435.3) scale(0.85 1)">100</text><text x="18.6" y="462.9" textLength="54.6" lengthAdjust="spacingAndGlyphs">Number of Nodes</text><text x="211.8" y="462.5" textLength="17.1" lengthAdjust="spacingAndGlyphs">R (m)</text><text transform="translate(8.4 398.4) scale(0.79 1) rotate(-90)" font-weight="bold" font-size="9.27" textLength="97.8" lengthAdjust="spacingAndGlyphs">Energy Consumption (J)</text></g>
<text x="115.3" y="491.8" textLength="39.8" lengthAdjust="spacingAndGlyphs" style="font-family:'Liberation Serif',serif;font-size:11.6px" fill="#000">(<tspan font-weight="bold">c</tspan>) SOA</text>
</g>
<g>
<path d="M338.6 398L338.6 282.8M363.4 390.1L363.4 274.9M388.1 382.1L388.1 266.9M412.9 374.2L412.9 259M437.7 366.2L437.7 251M313.8 386.8L437.7 347M437.7 347L532.1 399M313.8 367.6L437.7 327.8M437.7 327.8L532.1 379.8M313.8 348.4L437.7 308.6M437.7 308.6L532.1 360.6M313.8 329.2L437.7 289.4M437.7 289.4L532.1 341.4M313.8 310L437.7 270.2M437.7 270.2L532.1 322.2M313.8 290.8L437.7 251M437.7 251L532.1 303M456.6 376.6L456.6 261.4M475.5 387L475.5 271.8M494.3 397.4L494.3 282.2M513.2 407.8L513.2 292.6M532.1 418.2L532.1 303M433 450L338.6 398M457.8 442.1L363.4 390.1M482.5 434.1L388.1 382.1M507.3 426.2L412.9 374.2M532.1 418.2L437.7 366.2M389.3 447.6L513.2 407.8M370.4 437.2L494.3 397.4M351.6 426.8L475.5 387M332.7 416.4L456.6 376.6M313.8 406L437.7 366.2" fill="none" stroke="#8a8a8a" stroke-width="0.5" stroke-dasharray="0.9 1.4"/>
<path d="M313.8 290.8L313.8 406" fill="none" stroke="#999" stroke-width="1"/>
<path d="M313.8 406L408.2 458L532.1 418.2M313.8 406l-2.8 -1.5M313.8 386.8l-2.8 -1.5M313.8 367.6l-2.8 -1.5M313.8 348.4l-2.8 -1.5M313.8 329.2l-2.8 -1.5M313.8 310l-2.8 -1.5M313.8 290.8l-2.8 -1.5M408.2 458l-3 1M389.3 447.6l-3 1M370.4 437.2l-3 1M351.6 426.8l-3 1M332.7 416.4l-3 1M313.8 406l-3 1M408.2 458l2.8 1.5M433 450l2.8 1.5M457.8 442.1l2.8 1.5M482.5 434.1l2.8 1.5M507.3 426.2l2.8 1.5M532.1 418.2l2.8 1.5" fill="none" stroke="#333" stroke-width="0.8"/>
<path d="M408.2 457L406.3 455.9L404.4 454.8L402.5 453.8L400.6 452.7L398.7 451.6L396.8 450.5L394.9 449.5L393 448.4L391.1 447.3L389.2 446.2L387.3 445.1L385.4 444.1L383.5 443L381.6 441.9L379.7 440.8L377.8 439.8L375.9 438.7L374 437.6L372.1 436.5L370.2 435.4L368.3 434.4L366.4 433.3L364.5 432.2L362.6 431.1L360.8 430.1L358.9 429L357 427.9L355.1 426.8L353.2 425.8L351.3 424.7L349.4 423.6L347.5 422.5L345.6 421.4L343.7 420.4L341.8 419.3L339.9 418.2L338 417.1L336.1 416.1L334.2 415L332.3 413.9L330.4 412.8L328.5 411.7L326.6 410.7L324.7 409.6L322.8 408.5L320.9 407.4L319 406.4L317.1 405.3L315.2 404.2L327.6 389.5L329.5 390.7L331.4 391.9L333.3 393.1L335.2 394.3L337.1 395.5L338.9 396.7L340.8 397.9L342.7 399.1L344.6 400.3L346.5 401.5L348.4 402.7L350.3 403.9L352.2 405.1L354.1 406.3L356 407.5L357.9 408.8L359.8 410L361.7 411.2L363.6 412.5L365.5 413.7L367.4 414.9L369.3 416.2L371.2 417.4L373.1 418.7L375 419.9L376.9 421.2L378.8 422.4L380.7 423.7L382.6 424.9L384.5 426.2L386.4 427.5L388.3 428.7L390.2 430L392.1 431.3L394 432.6L395.9 433.8L397.8 435.1L399.7 436.4L401.6 437.7L403.4 439L405.3 440.3L407.2 441.6L409.1 442.9L411 444.2L412.9 445.5L414.8 446.8L416.7 448.1L418.6 449.4L420.5 450.7z" fill="#000083" stroke="#000083" stroke-width="0.4"/>
<path d="M420.5 450.7L418.6 449.4L416.7 448.1L414.8 446.8L412.9 445.5L425.3 438.3L427.2 439.8L429.1 441.4L430.9 442.9L432.8 444.5z" fill="#000093" stroke="#000093" stroke-width="0.4"/>
<path d="M412.9 445.5L411 444.2L409.1 442.9L407.2 441.6L405.3 440.3L403.4 439L401.6 437.7L399.7 436.4L412 427.7L413.9 429.2L415.8 430.7L417.7 432.2L419.6 433.7L421.5 435.2L423.4 436.8L425.3 438.3z" fill="#0000a2" stroke="#0000a2" stroke-width="0.4"/>
<path d="M399.7 436.4L397.8 435.1L395.9 433.8L394 432.6L392.1 431.3L390.2 430L388.3 428.7L386.4 427.5L384.5 426.2L396.8 415.9L398.7 417.3L400.6 418.8L402.5 420.2L404.4 421.7L406.3 423.2L408.2 424.7L410.1 426.2L412 427.7z" fill="#0000b2" stroke="#0000b2" stroke-width="0.4"/>
<path d="M384.5 426.2L382.6 424.9L380.7 423.7L378.8 422.4L376.9 421.2L375 419.9L373.1 418.7L371.2 417.4L369.3 416.2L381.6 404.4L383.5 405.8L385.4 407.2L387.3 408.7L389.2 410.1L391.1 411.5L393 413L394.9 414.4L396.8 415.9z" fill="#0000c1" stroke="#0000c1" stroke-width="0.4"/>
<path d="M369.3 416.2L367.4 414.9L365.5 413.7L363.6 412.5L361.7 411.2L359.8 410L357.9 408.8L356 407.5L354.1 406.3L352.2 405.1L364.6 392L366.5 393.4L368.4 394.7L370.3 396.1L372.2 397.5L374.1 398.8L376 400.2L377.9 401.6L379.8 403L381.6 404.4z" fill="#0000d1" stroke="#0000d1" stroke-width="0.4"/>
<path d="M352.2 405.1L350.3 403.9L348.4 402.7L346.5 401.5L344.6 400.3L342.7 399.1L340.8 397.9L338.9 396.7L337.1 395.5L335.2 394.3L333.3 393.1L331.4 391.9L329.5 390.7L341.8 376.1L343.7 377.4L345.6 378.7L347.5 380L349.4 381.3L351.3 382.7L353.2 384L355.1 385.3L357 386.6L358.9 388L360.8 389.3L362.7 390.6L364.6 392z" fill="#0000e0" stroke="#0000e0" stroke-width="0.4"/>
<path d="M329.5 390.7L327.6 389.5L339.9 374.9L341.8 376.1z" fill="#0000f0" stroke="#0000f0" stroke-width="0.4"/>
<path d="M432.8 444.5L430.9 442.9L429.1 441.4L427.2 439.8L425.3 438.3L437.6 431.1L439.5 432.9L441.4 434.6L443.3 436.4L445.2 438.2z" fill="#0000b2" stroke="#0000b2" stroke-width="0.4"/>
<path d="M425.3 438.3L423.4 436.8L421.5 435.2L419.6 433.7L431.9 425.8L433.8 427.6L435.7 429.3L437.6 431.1z" fill="#0000c1" stroke="#0000c1" stroke-width="0.4"/>
<path d="M419.6 433.7L417.7 432.2L415.8 430.7L413.9 429.2L412 427.7L424.3 418.9L426.2 420.6L428.1 422.4L430 424.1L431.9 425.8z" fill="#0000d1" stroke="#0000d1" stroke-width="0.4"/>
<path d="M412 427.7L410.1 426.2L408.2 424.7L406.3 423.2L404.4 421.7L416.7 412.2L418.6 413.8L420.5 415.5L422.4 417.2L424.3 418.9z" fill="#0000e0" stroke="#0000e0" stroke-width="0.4"/>
<path d="M404.4 421.7L402.5 420.2L400.6 418.8L398.7 417.3L396.8 415.9L409.2 405.5L411.1 407.2L412.9 408.8L414.8 410.5L416.7 412.2z" fill="#0000f0" stroke="#0000f0" stroke-width="0.4"/>
<path d="M396.8 415.9L394.9 414.4L393 413L391.1 411.5L389.2 410.1L401.6 399L403.5 400.6L405.4 402.3L407.3 403.9L409.2 405.5z" fill="#0008f7" stroke="#0008f7" stroke-width="0.4"/>
<path d="M389.2 410.1L387.3 408.7L385.4 407.2L383.5 405.8L381.6 404.4L394 392.7L395.9 394.3L397.8 395.8L399.7 397.4L401.6 399z" fill="#0017f7" stroke="#0017f7" stroke-width="0.4"/>
<path d="M381.6 404.4L379.8 403L377.9 401.6L376 400.2L374.1 398.8L386.4 386.5L388.3 388L390.2 389.6L392.1 391.1L394 392.7z" fill="#0027f7" stroke="#0027f7" stroke-width="0.4"/>
<path d="M374.1 398.8L372.2 397.5L370.3 396.1L368.4 394.7L366.5 393.4L364.6 392L376.9 378.9L378.8 380.4L380.7 381.9L382.6 383.4L384.5 384.9L386.4 386.5z" fill="#0036f7" stroke="#0036f7" stroke-width="0.4"/>
<path d="M364.6 392L362.7 390.6L360.8 389.3L358.9 388L357 386.6L355.1 385.3L353.2 384L365.6 370.1L367.5 371.5L369.4 373L371.3 374.4L373.1 375.9L375 377.4L376.9 378.9z" fill="#0046f7" stroke="#0046f7" stroke-width="0.4"/>
<path d="M353.2 384L351.3 382.7L349.4 381.3L347.5 380L345.6 378.7L343.7 377.4L341.8 376.1L354.2 361.6L356.1 363L358 364.4L359.9 365.8L361.8 367.2L363.7 368.6L365.6 370.1z" fill="#0055f7" stroke="#0055f7" stroke-width="0.4"/>
<path d="M341.8 376.1L339.9 374.9L352.3 360.2L354.2 361.6z" fill="#0064f7" stroke="#0064f7" stroke-width="0.4"/>
<path d="M445.2 438.2L443.3 436.4L455.6 429.9L457.5 432z" fill="#0000c1" stroke="#0000c1" stroke-width="0.4"/>
<path d="M443.3 436.4L441.4 434.6L439.5 432.9L437.6 431.1L449.9 423.9L451.8 425.9L453.7 427.9L455.6 429.9z" fill="#0000d1" stroke="#0000d1" stroke-width="0.4"/>
<path d="M437.6 431.1L435.7 429.3L433.8 427.6L446.1 419.9L448 421.9L449.9 423.9z" fill="#0000e0" stroke="#0000e0" stroke-width="0.4"/>
<path d="M433.8 427.6L431.9 425.8L430 424.1L428.1 422.4L440.4 414L442.3 416L444.2 417.9L446.1 419.9z" fill="#0000f0" stroke="#0000f0" stroke-width="0.4"/>
<path d="M428.1 422.4L426.2 420.6L424.3 418.9L436.7 410.2L438.5 412.1L440.4 414z" fill="#0008f7" stroke="#0008f7" stroke-width="0.4"/>
<path d="M424.3 418.9L422.4 417.2L420.5 415.5L432.9 406.4L434.8 408.3L436.7 410.2z" fill="#0017f7" stroke="#0017f7" stroke-width="0.4"/>
<path d="M420.5 415.5L418.6 413.8L416.7 412.2L414.8 410.5L427.2 400.7L429.1 402.6L431 404.5L432.9 406.4z" fill="#0027f7" stroke="#0027f7" stroke-width="0.4"/>
<path d="M414.8 410.5L412.9 408.8L411.1 407.2L409.2 405.5L421.5 395.2L423.4 397L425.3 398.9L427.2 400.7z" fill="#0036f7" stroke="#0036f7" stroke-width="0.4"/>
<path d="M409.2 405.5L407.3 403.9L405.4 402.3L417.7 391.6L419.6 393.4L421.5 395.2z" fill="#0046f7" stroke="#0046f7" stroke-width="0.4"/>
<path d="M405.4 402.3L403.5 400.6L401.6 399L399.7 397.4L412 386.2L413.9 388L415.8 389.8L417.7 391.6z" fill="#0055f7" stroke="#0055f7" stroke-width="0.4"/>
<path d="M399.7 397.4L397.8 395.8L395.9 394.3L394 392.7L406.3 380.9L408.2 382.7L410.1 384.4L412 386.2z" fill="#0064f7" stroke="#0064f7" stroke-width="0.4"/>
<path d="M394 392.7L392.1 391.1L390.2 389.6L388.3 388L400.7 375.8L402.6 377.5L404.4 379.2L406.3 380.9z" fill="#0074f7" stroke="#0074f7" stroke-width="0.4"/>
<path d="M388.3 388L386.4 386.5L384.5 384.9L382.6 383.4L395 370.7L396.9 372.4L398.8 374.1L400.7 375.8z" fill="#0083f7" stroke="#0083f7" stroke-width="0.4"/>
<path d="M382.6 383.4L380.7 381.9L378.8 380.4L376.9 378.9L389.3 365.8L391.2 367.4L393.1 369.1L395 370.7z" fill="#0093f7" stroke="#0093f7" stroke-width="0.4"/>
<path d="M376.9 378.9L375 377.4L373.1 375.9L371.3 374.4L369.4 373L381.7 359.3L383.6 360.9L385.5 362.5L387.4 364.2L389.3 365.8z" fill="#00a2f7" stroke="#00a2f7" stroke-width="0.4"/>
<path d="M369.4 373L367.5 371.5L365.6 370.1L363.7 368.6L361.8 367.2L374.1 353.1L376 354.6L377.9 356.2L379.8 357.8L381.7 359.3z" fill="#00b2f7" stroke="#00b2f7" stroke-width="0.4"/>
<path d="M361.8 367.2L359.9 365.8L358 364.4L356.1 363L354.2 361.6L366.6 347L368.5 348.5L370.3 350L372.2 351.6L374.1 353.1z" fill="#00c1f7" stroke="#00c1f7" stroke-width="0.4"/>
<path d="M354.2 361.6L352.3 360.2L364.7 345.5L366.6 347z" fill="#00d1f7" stroke="#00d1f7" stroke-width="0.4"/>
<path d="M457.5 432L455.6 429.9L453.7 427.9L466 421.2L467.9 423.4L469.8 425.7z" fill="#0000e0" stroke="#0000e0" stroke-width="0.4"/>
<path d="M453.7 427.9L451.8 425.9L449.9 423.9L462.2 416.7L464.1 418.9L466 421.2z" fill="#0000f0" stroke="#0000f0" stroke-width="0.4"/>
<path d="M449.9 423.9L448 421.9L446.1 419.9L458.5 412.3L460.3 414.5L462.2 416.7z" fill="#0008f7" stroke="#0008f7" stroke-width="0.4"/>
<path d="M446.1 419.9L444.2 417.9L456.6 410.1L458.5 412.3z" fill="#0017f7" stroke="#0017f7" stroke-width="0.4"/>
<path d="M444.2 417.9L442.3 416L440.4 414L452.8 405.7L454.7 407.9L456.6 410.1z" fill="#0027f7" stroke="#0027f7" stroke-width="0.4"/>
<path d="M440.4 414L438.5 412.1L436.7 410.2L449 401.4L450.9 403.6L452.8 405.7z" fill="#0036f7" stroke="#0036f7" stroke-width="0.4"/>
<path d="M436.7 410.2L434.8 408.3L432.9 406.4L445.2 397.2L447.1 399.3L449 401.4z" fill="#0046f7" stroke="#0046f7" stroke-width="0.4"/>
<path d="M432.9 406.4L431 404.5L429.1 402.6L441.4 393L443.3 395.1L445.2 397.2z" fill="#0055f7" stroke="#0055f7" stroke-width="0.4"/>
<path d="M429.1 402.6L427.2 400.7L425.3 398.9L437.6 388.9L439.5 391L441.4 393z" fill="#0064f7" stroke="#0064f7" stroke-width="0.4"/>
<path d="M425.3 398.9L423.4 397L421.5 395.2L433.8 384.9L435.7 386.9L437.6 388.9z" fill="#0074f7" stroke="#0074f7" stroke-width="0.4"/>
<path d="M421.5 395.2L419.6 393.4L417.7 391.6L430 380.9L431.9 382.8L433.8 384.9z" fill="#0083f7" stroke="#0083f7" stroke-width="0.4"/>
<path d="M417.7 391.6L415.8 389.8L413.9 388L426.3 376.9L428.2 378.9L430 380.9z" fill="#0093f7" stroke="#0093f7" stroke-width="0.4"/>
<path d="M413.9 388L412 386.2L410.1 384.4L422.5 373L424.4 375L426.3 376.9z" fill="#00a2f7" stroke="#00a2f7" stroke-width="0.4"/>
<path d="M410.1 384.4L408.2 382.7L406.3 380.9L418.7 369.2L420.6 371.1L422.5 373z" fill="#00b2f7" stroke="#00b2f7" stroke-width="0.4"/>
<path d="M406.3 380.9L404.4 379.2L402.6 377.5L414.9 365.4L416.8 367.3L418.7 369.2z" fill="#00c1f7" stroke="#00c1f7" stroke-width="0.4"/>
<path d="M402.6 377.5L400.7 375.8L398.8 374.1L411.1 361.7L413 363.6L414.9 365.4z" fill="#00d1f7" stroke="#00d1f7" stroke-width="0.4"/>
<path d="M398.8 374.1L396.9 372.4L395 370.7L393.1 369.1L405.4 356.2L407.3 358.1L409.2 359.9L411.1 361.7z" fill="#00e0f7" stroke="#00e0f7" stroke-width="0.4"/>
<path d="M393.1 369.1L391.2 367.4L389.3 365.8L401.6 352.7L403.5 354.5L405.4 356.2z" fill="#00f0f7" stroke="#00f0f7" stroke-width="0.4"/>
<path d="M389.3 365.8L387.4 364.2L385.5 362.5L383.6 360.9L396 347.4L397.9 349.2L399.8 350.9L401.6 352.7z" fill="#00f7ef" stroke="#00f7ef" stroke-width="0.4"/>
<path d="M383.6 360.9L381.7 359.3L379.8 357.8L377.9 356.2L390.3 342.3L392.2 344L394.1 345.7L396 347.4z" fill="#00f7de" stroke="#00f7de" stroke-width="0.4"/>
<path d="M377.9 356.2L376 354.6L374.1 353.1L372.2 351.6L384.6 337.3L386.5 339L388.4 340.6L390.3 342.3z" fill="#00f7ca" stroke="#00f7ca" stroke-width="0.4"/>
<path d="M372.2 351.6L370.3 350L368.5 348.5L366.6 347L378.9 332.5L380.8 334.1L382.7 335.7L384.6 337.3z" fill="#00f7b2" stroke="#00f7b2" stroke-width="0.4"/>
<path d="M366.6 347L364.7 345.5L377 330.9L378.9 332.5z" fill="#00f797" stroke="#00f797" stroke-width="0.4"/>
<path d="M469.8 425.7L467.9 423.4L480.2 416.9L482.1 419.5z" fill="#0000f0" stroke="#0000f0" stroke-width="0.4"/>
<path d="M467.9 423.4L466 421.2L478.3 414.4L480.2 416.9z" fill="#0008f7" stroke="#0008f7" stroke-width="0.4"/>
<path d="M466 421.2L464.1 418.9L462.2 416.7L474.6 409.5L476.5 412L478.3 414.4z" fill="#0017f7" stroke="#0017f7" stroke-width="0.4"/>
<path d="M462.2 416.7L460.3 414.5L472.7 407L474.6 409.5z" fill="#0027f7" stroke="#0027f7" stroke-width="0.4"/>
<path d="M460.3 414.5L458.5 412.3L456.6 410.1L468.9 402.2L470.8 404.6L472.7 407z" fill="#0036f7" stroke="#0036f7" stroke-width="0.4"/>
<path d="M456.6 410.1L454.7 407.9L467 399.8L468.9 402.2z" fill="#0046f7" stroke="#0046f7" stroke-width="0.4"/>
<path d="M454.7 407.9L452.8 405.7L450.9 403.6L463.2 395L465.1 397.4L467 399.8z" fill="#0055f7" stroke="#0055f7" stroke-width="0.4"/>
<path d="M450.9 403.6L449 401.4L461.3 392.7L463.2 395z" fill="#0064f7" stroke="#0064f7" stroke-width="0.4"/>
<path d="M449 401.4L447.1 399.3L459.4 390.4L461.3 392.7z" fill="#0074f7" stroke="#0074f7" stroke-width="0.4"/>
<path d="M447.1 399.3L445.2 397.2L443.3 395.1L455.6 385.7L457.5 388L459.4 390.4z" fill="#0083f7" stroke="#0083f7" stroke-width="0.4"/>
<path d="M443.3 395.1L441.4 393L453.7 383.5L455.6 385.7z" fill="#0093f7" stroke="#0093f7" stroke-width="0.4"/>
<path d="M441.4 393L439.5 391L437.6 388.9L450 379L451.9 381.2L453.7 383.5z" fill="#00a2f7" stroke="#00a2f7" stroke-width="0.4"/>
<path d="M437.6 388.9L435.7 386.9L433.8 384.9L446.2 374.5L448.1 376.7L450 379z" fill="#00b2f7" stroke="#00b2f7" stroke-width="0.4"/>
<path d="M433.8 384.9L431.9 382.8L444.3 372.3L446.2 374.5z" fill="#00c1f7" stroke="#00c1f7" stroke-width="0.4"/>
<path d="M431.9 382.8L430 380.9L428.2 378.9L440.5 368L442.4 370.1L444.3 372.3z" fill="#00d1f7" stroke="#00d1f7" stroke-width="0.4"/>
<path d="M428.2 378.9L426.3 376.9L438.6 365.8L440.5 368z" fill="#00e0f7" stroke="#00e0f7" stroke-width="0.4"/>
<path d="M426.3 376.9L424.4 375L422.5 373L434.8 361.6L436.7 363.7L438.6 365.8z" fill="#00f0f7" stroke="#00f0f7" stroke-width="0.4"/>
<path d="M422.5 373L420.6 371.1L418.7 369.2L431 357.5L432.9 359.5L434.8 361.6z" fill="#00f7ef" stroke="#00f7ef" stroke-width="0.4"/>
<path d="M418.7 369.2L416.8 367.3L414.9 365.4L427.3 353.4L429.1 355.4L431 357.5z" fill="#00f7de" stroke="#00f7de" stroke-width="0.4"/>
<path d="M414.9 365.4L413 363.6L425.4 351.3L427.3 353.4z" fill="#00f7ca" stroke="#00f7ca" stroke-width="0.4"/>
<path d="M413 363.6L411.1 361.7L409.2 359.9L421.6 347.3L423.5 349.3L425.4 351.3z" fill="#00f7b2" stroke="#00f7b2" stroke-width="0.4"/>
<path d="M409.2 359.9L407.3 358.1L405.4 356.2L417.8 343.4L419.7 345.4L421.6 347.3z" fill="#00f797" stroke="#00f797" stroke-width="0.4"/>
<path d="M405.4 356.2L403.5 354.5L401.6 352.7L414 339.6L415.9 341.5L417.8 343.4z" fill="#0cf77c" stroke="#0cf77c" stroke-width="0.4"/>
<path d="M401.6 352.7L399.8 350.9L397.9 349.2L410.2 335.8L412.1 337.7L414 339.6z" fill="#22f766" stroke="#22f766" stroke-width="0.4"/>
<path d="M397.9 349.2L396 347.4L394.1 345.7L392.2 344L404.5 330.2L406.4 332.1L408.3 333.9L410.2 335.8z" fill="#39f74f" stroke="#39f74f" stroke-width="0.4"/>
<path d="M392.2 344L390.3 342.3L388.4 340.6L400.8 326.6L402.6 328.4L404.5 330.2z" fill="#4ff739" stroke="#4ff739" stroke-width="0.4"/>
<path d="M388.4 340.6L386.5 339L384.6 337.3L397 323.1L398.9 324.8L400.8 326.6z" fill="#66f722" stroke="#66f722" stroke-width="0.4"/>
<path d="M384.6 337.3L382.7 335.7L380.8 334.1L378.9 332.5L391.3 317.9L393.2 319.6L395.1 321.3L397 323.1z" fill="#7cf70c" stroke="#7cf70c" stroke-width="0.4"/>
<path d="M378.9 332.5L377 330.9L389.4 316.2L391.3 317.9z" fill="#97f700" stroke="#97f700" stroke-width="0.4"/>
<path d="M482.1 419.5L480.2 416.9L492.6 410.4L494.5 413.2z" fill="#0017f7" stroke="#0017f7" stroke-width="0.4"/>
<path d="M480.2 416.9L478.3 414.4L490.7 407.7L492.6 410.4z" fill="#0027f7" stroke="#0027f7" stroke-width="0.4"/>
<path d="M478.3 414.4L476.5 412L474.6 409.5L486.9 402.3L488.8 405L490.7 407.7z" fill="#0036f7" stroke="#0036f7" stroke-width="0.4"/>
<path d="M474.6 409.5L472.7 407L485 399.6L486.9 402.3z" fill="#0046f7" stroke="#0046f7" stroke-width="0.4"/>
<path d="M472.7 407L470.8 404.6L483.1 396.9L485 399.6z" fill="#0055f7" stroke="#0055f7" stroke-width="0.4"/>
<path d="M470.8 404.6L468.9 402.2L481.2 394.3L483.1 396.9z" fill="#0064f7" stroke="#0064f7" stroke-width="0.4"/>
<path d="M468.9 402.2L467 399.8L465.1 397.4L477.4 389.1L479.3 391.7L481.2 394.3z" fill="#0074f7" stroke="#0074f7" stroke-width="0.4"/>
<path d="M465.1 397.4L463.2 395L475.5 386.5L477.4 389.1z" fill="#0083f7" stroke="#0083f7" stroke-width="0.4"/>
<path d="M463.2 395L461.3 392.7L473.6 383.9L475.5 386.5z" fill="#0093f7" stroke="#0093f7" stroke-width="0.4"/>
<path d="M461.3 392.7L459.4 390.4L471.8 381.4L473.6 383.9z" fill="#00a2f7" stroke="#00a2f7" stroke-width="0.4"/>
<path d="M459.4 390.4L457.5 388L469.9 378.9L471.8 381.4z" fill="#00b2f7" stroke="#00b2f7" stroke-width="0.4"/>
<path d="M457.5 388L455.6 385.7L453.7 383.5L466.1 373.9L468 376.4L469.9 378.9z" fill="#00c1f7" stroke="#00c1f7" stroke-width="0.4"/>
<path d="M453.7 383.5L451.9 381.2L464.2 371.4L466.1 373.9z" fill="#00d1f7" stroke="#00d1f7" stroke-width="0.4"/>
<path d="M451.9 381.2L450 379L462.3 369L464.2 371.4z" fill="#00e0f7" stroke="#00e0f7" stroke-width="0.4"/>
<path d="M450 379L448.1 376.7L446.2 374.5L458.5 364.2L460.4 366.6L462.3 369z" fill="#00f0f7" stroke="#00f0f7" stroke-width="0.4"/>
<path d="M446.2 374.5L444.3 372.3L456.6 361.8L458.5 364.2z" fill="#00f7ef" stroke="#00f7ef" stroke-width="0.4"/>
<path d="M444.3 372.3L442.4 370.1L454.7 359.4L456.6 361.8z" fill="#00f7de" stroke="#00f7de" stroke-width="0.4"/>
<path d="M442.4 370.1L440.5 368L438.6 365.8L450.9 354.8L452.8 357.1L454.7 359.4z" fill="#00f7ca" stroke="#00f7ca" stroke-width="0.4"/>
<path d="M438.6 365.8L436.7 363.7L449.1 352.5L450.9 354.8z" fill="#00f7b2" stroke="#00f7b2" stroke-width="0.4"/>
<path d="M436.7 363.7L434.8 361.6L447.2 350.2L449.1 352.5z" fill="#00f797" stroke="#00f797" stroke-width="0.4"/>
<path d="M434.8 361.6L432.9 359.5L431 357.5L443.4 345.7L445.3 347.9L447.2 350.2z" fill="#0cf77c" stroke="#0cf77c" stroke-width="0.4"/>
<path d="M431 357.5L429.1 355.4L441.5 343.5L443.4 345.7z" fill="#22f766" stroke="#22f766" stroke-width="0.4"/>
<path d="M429.1 355.4L427.3 353.4L425.4 351.3L437.7 339.1L439.6 341.3L441.5 343.5z" fill="#39f74f" stroke="#39f74f" stroke-width="0.4"/>
<path d="M425.4 351.3L423.5 349.3L435.8 337L437.7 339.1z" fill="#4ff739" stroke="#4ff739" stroke-width="0.4"/>
<path d="M423.5 349.3L421.6 347.3L419.7 345.4L432 332.7L433.9 334.8L435.8 337z" fill="#66f722" stroke="#66f722" stroke-width="0.4"/>
<path d="M419.7 345.4L417.8 343.4L415.9 341.5L428.2 328.5L430.1 330.6L432 332.7z" fill="#7cf70c" stroke="#7cf70c" stroke-width="0.4"/>
<path d="M415.9 341.5L414 339.6L426.4 326.5L428.2 328.5z" fill="#97f700" stroke="#97f700" stroke-width="0.4"/>
<path d="M414 339.6L412.1 337.7L410.2 335.8L422.6 322.4L424.5 324.4L426.4 326.5z" fill="#b2f700" stroke="#b2f700" stroke-width="0.4"/>
<path d="M410.2 335.8L408.3 333.9L406.4 332.1L418.8 318.4L420.7 320.4L422.6 322.4z" fill="#caf700" stroke="#caf700" stroke-width="0.4"/>
<path d="M406.4 332.1L404.5 330.2L402.6 328.4L415 314.5L416.9 316.5L418.8 318.4z" fill="#def700" stroke="#def700" stroke-width="0.4"/>
<path d="M402.6 328.4L400.8 326.6L398.9 324.8L411.2 310.7L413.1 312.6L415 314.5z" fill="#eff700" stroke="#eff700" stroke-width="0.4"/>
<path d="M398.9 324.8L397 323.1L395.1 321.3L407.4 307L409.3 308.8L411.2 310.7z" fill="#f7f000" stroke="#f7f000" stroke-width="0.4"/>
<path d="M395.1 321.3L393.2 319.6L391.3 317.9L403.7 303.3L405.5 305.1L407.4 307z" fill="#f7e000" stroke="#f7e000" stroke-width="0.4"/>
<path d="M391.3 317.9L389.4 316.2L401.8 301.5L403.7 303.3z" fill="#f7d100" stroke="#f7d100" stroke-width="0.4"/>
<path d="M494.5 413.2L492.6 410.4L490.7 407.7L503 401L504.9 404L506.8 407z" fill="#0036f7" stroke="#0036f7" stroke-width="0.4"/>
<path d="M490.7 407.7L488.8 405L501.1 398L503 401z" fill="#0046f7" stroke="#0046f7" stroke-width="0.4"/>
<path d="M488.8 405L486.9 402.3L499.2 395.1L501.1 398z" fill="#0055f7" stroke="#0055f7" stroke-width="0.4"/>
<path d="M486.9 402.3L485 399.6L497.3 392.2L499.2 395.1z" fill="#0064f7" stroke="#0064f7" stroke-width="0.4"/>
<path d="M485 399.6L483.1 396.9L495.4 389.3L497.3 392.2z" fill="#0074f7" stroke="#0074f7" stroke-width="0.4"/>
<path d="M483.1 396.9L481.2 394.3L493.5 386.4L495.4 389.3z" fill="#0083f7" stroke="#0083f7" stroke-width="0.4"/>
<path d="M481.2 394.3L479.3 391.7L491.7 383.6L493.5 386.4z" fill="#0093f7" stroke="#0093f7" stroke-width="0.4"/>
<path d="M479.3 391.7L477.4 389.1L489.8 380.8L491.7 383.6z" fill="#00a2f7" stroke="#00a2f7" stroke-width="0.4"/>
<path d="M477.4 389.1L475.5 386.5L487.9 378L489.8 380.8z" fill="#00b2f7" stroke="#00b2f7" stroke-width="0.4"/>
<path d="M475.5 386.5L473.6 383.9L486 375.2L487.9 378z" fill="#00c1f7" stroke="#00c1f7" stroke-width="0.4"/>
<path d="M473.6 383.9L471.8 381.4L484.1 372.5L486 375.2z" fill="#00d1f7" stroke="#00d1f7" stroke-width="0.4"/>
<path d="M471.8 381.4L469.9 378.9L482.2 369.7L484.1 372.5z" fill="#00e0f7" stroke="#00e0f7" stroke-width="0.4"/>
<path d="M469.9 378.9L468 376.4L480.3 367L482.2 369.7z" fill="#00f0f7" stroke="#00f0f7" stroke-width="0.4"/>
<path d="M468 376.4L466.1 373.9L478.4 364.3L480.3 367z" fill="#00f7ef" stroke="#00f7ef" stroke-width="0.4"/>
<path d="M466.1 373.9L464.2 371.4L476.5 361.7L478.4 364.3z" fill="#00f7de" stroke="#00f7de" stroke-width="0.4"/>
<path d="M464.2 371.4L462.3 369L474.6 359L476.5 361.7z" fill="#00f7ca" stroke="#00f7ca" stroke-width="0.4"/>
<path d="M462.3 369L460.4 366.6L458.5 364.2L470.9 353.8L472.7 356.4L474.6 359z" fill="#00f7b2" stroke="#00f7b2" stroke-width="0.4"/>
<path d="M458.5 364.2L456.6 361.8L469 351.3L470.9 353.8z" fill="#00f797" stroke="#00f797" stroke-width="0.4"/>
<path d="M456.6 361.8L454.7 359.4L467.1 348.7L469 351.3z" fill="#0cf77c" stroke="#0cf77c" stroke-width="0.4"/>
<path d="M454.7 359.4L452.8 357.1L465.2 346.2L467.1 348.7z" fill="#22f766" stroke="#22f766" stroke-width="0.4"/>
<path d="M452.8 357.1L450.9 354.8L463.3 343.7L465.2 346.2z" fill="#39f74f" stroke="#39f74f" stroke-width="0.4"/>
<path d="M450.9 354.8L449.1 352.5L461.4 341.3L463.3 343.7z" fill="#4ff739" stroke="#4ff739" stroke-width="0.4"/>
<path d="M449.1 352.5L447.2 350.2L445.3 347.9L457.6 336.4L459.5 338.8L461.4 341.3z" fill="#66f722" stroke="#66f722" stroke-width="0.4"/>
<path d="M445.3 347.9L443.4 345.7L455.7 334L457.6 336.4z" fill="#7cf70c" stroke="#7cf70c" stroke-width="0.4"/>
<path d="M443.4 345.7L441.5 343.5L453.8 331.6L455.7 334z" fill="#97f700" stroke="#97f700" stroke-width="0.4"/>
<path d="M441.5 343.5L439.6 341.3L451.9 329.2L453.8 331.6z" fill="#b2f700" stroke="#b2f700" stroke-width="0.4"/>
<path d="M439.6 341.3L437.7 339.1L435.8 337L448.2 324.6L450.1 326.9L451.9 329.2z" fill="#caf700" stroke="#caf700" stroke-width="0.4"/>
<path d="M435.8 337L433.9 334.8L446.3 322.3L448.2 324.6z" fill="#def700" stroke="#def700" stroke-width="0.4"/>
<path d="M433.9 334.8L432 332.7L444.4 320L446.3 322.3z" fill="#eff700" stroke="#eff700" stroke-width="0.4"/>
<path d="M432 332.7L430.1 330.6L428.2 328.5L440.6 315.6L442.5 317.8L444.4 320z" fill="#f7f000" stroke="#f7f000" stroke-width="0.4"/>
<path d="M428.2 328.5L426.4 326.5L438.7 313.4L440.6 315.6z" fill="#f7e000" stroke="#f7e000" stroke-width="0.4"/>
<path d="M426.4 326.5L424.5 324.4L422.6 322.4L434.9 309L436.8 311.2L438.7 313.4z" fill="#f7d100" stroke="#f7d100" stroke-width="0.4"/>
<path d="M422.6 322.4L420.7 320.4L433 306.9L434.9 309z" fill="#f7c100" stroke="#f7c100" stroke-width="0.4"/>
<path d="M420.7 320.4L418.8 318.4L416.9 316.5L429.3 302.7L431.1 304.8L433 306.9z" fill="#f7b200" stroke="#f7b200" stroke-width="0.4"/>
<path d="M416.9 316.5L415 314.5L413.1 312.6L425.5 298.6L427.4 300.6L429.3 302.7z" fill="#f7a200" stroke="#f7a200" stroke-width="0.4"/>
<path d="M413.1 312.6L411.2 310.7L423.6 296.6L425.5 298.6z" fill="#f79300" stroke="#f79300" stroke-width="0.4"/>
<path d="M411.2 310.7L409.3 308.8L407.4 307L419.8 292.6L421.7 294.6L423.6 296.6z" fill="#f78300" stroke="#f78300" stroke-width="0.4"/>
<path d="M407.4 307L405.5 305.1L403.7 303.3L416 288.8L417.9 290.7L419.8 292.6z" fill="#f77400" stroke="#f77400" stroke-width="0.4"/>
<path d="M403.7 303.3L401.8 301.5L414.1 286.9L416 288.8z" fill="#f76400" stroke="#f76400" stroke-width="0.4"/>
<path d="M506.8 407L504.9 404L517.2 397.5L519.1 400.7z" fill="#0046f7" stroke="#0046f7" stroke-width="0.4"/>
<path d="M504.9 404L503 401L515.3 394.2L517.2 397.5z" fill="#0055f7" stroke="#0055f7" stroke-width="0.4"/>
<path d="M503 401L501.1 398L513.4 391.1L515.3 394.2z" fill="#0064f7" stroke="#0064f7" stroke-width="0.4"/>
<path d="M501.1 398L499.2 395.1L511.5 387.9L513.4 391.1z" fill="#0074f7" stroke="#0074f7" stroke-width="0.4"/>
<path d="M499.2 395.1L497.3 392.2L509.7 384.7L511.5 387.9z" fill="#0083f7" stroke="#0083f7" stroke-width="0.4"/>
<path d="M497.3 392.2L495.4 389.3L507.8 381.6L509.7 384.7z" fill="#0093f7" stroke="#0093f7" stroke-width="0.4"/>
<path d="M495.4 389.3L493.5 386.4L505.9 378.5L507.8 381.6z" fill="#00b2f7" stroke="#00b2f7" stroke-width="0.4"/>
<path d="M493.5 386.4L491.7 383.6L504 375.5L505.9 378.5z" fill="#00c1f7" stroke="#00c1f7" stroke-width="0.4"/>
<path d="M491.7 383.6L489.8 380.8L502.1 372.4L504 375.5z" fill="#00d1f7" stroke="#00d1f7" stroke-width="0.4"/>
<path d="M489.8 380.8L487.9 378L500.2 369.4L502.1 372.4z" fill="#00e0f7" stroke="#00e0f7" stroke-width="0.4"/>
<path d="M487.9 378L486 375.2L498.3 366.5L500.2 369.4z" fill="#00f0f7" stroke="#00f0f7" stroke-width="0.4"/>
<path d="M486 375.2L484.1 372.5L496.4 363.5L498.3 366.5z" fill="#00f7ef" stroke="#00f7ef" stroke-width="0.4"/>
<path d="M484.1 372.5L482.2 369.7L494.5 360.6L496.4 363.5z" fill="#00f7de" stroke="#00f7de" stroke-width="0.4"/>
<path d="M482.2 369.7L480.3 367L492.6 357.7L494.5 360.6z" fill="#00f7ca" stroke="#00f7ca" stroke-width="0.4"/>
<path d="M480.3 367L478.4 364.3L490.8 354.8L492.6 357.7z" fill="#00f7b2" stroke="#00f7b2" stroke-width="0.4"/>
<path d="M478.4 364.3L476.5 361.7L488.9 351.9L490.8 354.8z" fill="#00f797" stroke="#00f797" stroke-width="0.4"/>
<path d="M476.5 361.7L474.6 359L487 349.1L488.9 351.9z" fill="#0cf77c" stroke="#0cf77c" stroke-width="0.4"/>
<path d="M474.6 359L472.7 356.4L485.1 346.3L487 349.1z" fill="#22f766" stroke="#22f766" stroke-width="0.4"/>
<path d="M472.7 356.4L470.9 353.8L483.2 343.5L485.1 346.3z" fill="#39f74f" stroke="#39f74f" stroke-width="0.4"/>
<path d="M470.9 353.8L469 351.3L481.3 340.8L483.2 343.5z" fill="#4ff739" stroke="#4ff739" stroke-width="0.4"/>
<path d="M469 351.3L467.1 348.7L479.4 338L481.3 340.8z" fill="#66f722" stroke="#66f722" stroke-width="0.4"/>
<path d="M467.1 348.7L465.2 346.2L477.5 335.3L479.4 338z" fill="#7cf70c" stroke="#7cf70c" stroke-width="0.4"/>
<path d="M465.2 346.2L463.3 343.7L475.6 332.7L477.5 335.3z" fill="#97f700" stroke="#97f700" stroke-width="0.4"/>
<path d="M463.3 343.7L461.4 341.3L473.7 330L475.6 332.7z" fill="#b2f700" stroke="#b2f700" stroke-width="0.4"/>
<path d="M461.4 341.3L459.5 338.8L471.9 327.4L473.7 330z" fill="#caf700" stroke="#caf700" stroke-width="0.4"/>
<path d="M459.5 338.8L457.6 336.4L470 324.8L471.9 327.4z" fill="#def700" stroke="#def700" stroke-width="0.4"/>
<path d="M457.6 336.4L455.7 334L468.1 322.2L470 324.8z" fill="#eff700" stroke="#eff700" stroke-width="0.4"/>
<path d="M455.7 334L453.8 331.6L466.2 319.7L468.1 322.2z" fill="#f7f000" stroke="#f7f000" stroke-width="0.4"/>
<path d="M453.8 331.6L451.9 329.2L464.3 317.2L466.2 319.7z" fill="#f7e000" stroke="#f7e000" stroke-width="0.4"/>
<path d="M451.9 329.2L450.1 326.9L462.4 314.7L464.3 317.2z" fill="#f7d100" stroke="#f7d100" stroke-width="0.4"/>
<path d="M450.1 326.9L448.2 324.6L460.5 312.2L462.4 314.7z" fill="#f7c100" stroke="#f7c100" stroke-width="0.4"/>
<path d="M448.2 324.6L446.3 322.3L444.4 320L456.7 307.3L458.6 309.8L460.5 312.2z" fill="#f7b200" stroke="#f7b200" stroke-width="0.4"/>
<path d="M444.4 320L442.5 317.8L454.8 305L456.7 307.3z" fill="#f7a200" stroke="#f7a200" stroke-width="0.4"/>
<path d="M442.5 317.8L440.6 315.6L453 302.6L454.8 305z" fill="#f79300" stroke="#f79300" stroke-width="0.4"/>
<path d="M440.6 315.6L438.7 313.4L451.1 300.2L453 302.6z" fill="#f78300" stroke="#f78300" stroke-width="0.4"/>
<path d="M438.7 313.4L436.8 311.2L434.9 309L447.3 295.7L449.2 297.9L451.1 300.2z" fill="#f77400" stroke="#f77400" stroke-width="0.4"/>
<path d="M434.9 309L433 306.9L445.4 293.4L447.3 295.7z" fill="#f76400" stroke="#f76400" stroke-width="0.4"/>
<path d="M433 306.9L431.1 304.8L443.5 291.2L445.4 293.4z" fill="#f75500" stroke="#f75500" stroke-width="0.4"/>
<path d="M431.1 304.8L429.3 302.7L427.4 300.6L439.7 286.8L441.6 288.9L443.5 291.2z" fill="#f74600" stroke="#f74600" stroke-width="0.4"/>
<path d="M427.4 300.6L425.5 298.6L437.8 284.6L439.7 286.8z" fill="#f73600" stroke="#f73600" stroke-width="0.4"/>
<path d="M425.5 298.6L423.6 296.6L421.7 294.6L434.1 280.4L435.9 282.5L437.8 284.6z" fill="#f72700" stroke="#f72700" stroke-width="0.4"/>
<path d="M421.7 294.6L419.8 292.6L432.2 278.3L434.1 280.4z" fill="#f71700" stroke="#f71700" stroke-width="0.4"/>
<path d="M419.8 292.6L417.9 290.7L416 288.8L428.4 274.2L430.3 276.2L432.2 278.3z" fill="#f70800" stroke="#f70800" stroke-width="0.4"/>
<path d="M416 288.8L414.1 286.9L426.5 272.2L428.4 274.2z" fill="#f00000" stroke="#f00000" stroke-width="0.4"/>
<path d="M408.2 457L519.1 400.7M406.3 455.9L517.2 397.5M404.4 454.8L515.3 394.2M402.5 453.8L513.4 391.1M400.6 452.7L511.5 387.9M398.7 451.6L509.7 384.7M396.8 450.5L507.8 381.6M394.9 449.5L505.9 378.5" fill="none" stroke="#000" stroke-width="0.65" stroke-opacity="0.5"/>
<path d="M393 448.4L504 375.5M391.1 447.3L502.1 372.4M389.2 446.2L500.2 369.4M387.3 445.1L498.3 366.5M385.4 444.1L496.4 363.5M383.5 443L494.5 360.6M381.6 441.9L492.6 357.7" fill="none" stroke="#000" stroke-width="0.65" stroke-opacity="0.6"/>
<path d="M379.7 440.8L490.8 354.8M377.8 439.8L488.9 351.9M375.9 438.7L487 349.1M374 437.6L485.1 346.3M372.1 436.5L483.2 343.5M370.2 435.4L481.3 340.8M368.3 434.4L479.4 338M366.4 433.3L477.5 335.3M364.5 432.2L475.6 332.7M362.6 431.1L473.7 330" fill="none" stroke="#000" stroke-width="0.65" stroke-opacity="0.7"/>
<path d="M360.8 430.1L471.9 327.4M358.9 429L470 324.8M357 427.9L468.1 322.2M355.1 426.8L466.2 319.7M353.2 425.8L464.3 317.2M351.3 424.7L462.4 314.7M349.4 423.6L460.5 312.2M347.5 422.5L458.6 309.8M345.6 421.4L456.7 307.3M343.7 420.4L454.8 305M341.8 419.3L453 302.6M339.9 418.2L451.1 300.2M338 417.1L449.2 297.9M336.1 416.1L447.3 295.7M334.2 415L445.4 293.4M332.3 413.9L443.5 291.2M330.4 412.8L441.6 288.9M328.5 411.7L439.7 286.8M326.6 410.7L437.8 284.6M324.7 409.6L435.9 282.5M322.8 408.5L434.1 280.4M320.9 407.4L432.2 278.3M319 406.4L430.3 276.2M317.1 405.3L428.4 274.2M315.2 404.2L426.5 272.2" fill="none" stroke="#000" stroke-width="0.65" stroke-opacity="0.8"/>
<path d="M408.2 457L406.3 455.9L404.4 454.8L402.5 453.8L400.6 452.7L398.7 451.6L396.8 450.5L394.9 449.5L393 448.4L391.1 447.3L389.2 446.2L387.3 445.1L385.4 444.1L383.5 443L381.6 441.9L379.7 440.8L377.8 439.8L375.9 438.7L374 437.6L372.1 436.5L370.2 435.4L368.3 434.4L366.4 433.3L364.5 432.2L362.6 431.1L360.8 430.1L358.9 429L357 427.9L355.1 426.8L353.2 425.8L351.3 424.7L349.4 423.6L347.5 422.5L345.6 421.4L343.7 420.4L341.8 419.3L339.9 418.2L338 417.1L336.1 416.1L334.2 415L332.3 413.9L330.4 412.8L328.5 411.7L326.6 410.7L324.7 409.6L322.8 408.5L320.9 407.4L319 406.4L317.1 405.3L315.2 404.2M420.5 450.7L418.6 449.4L416.7 448.1L414.8 446.8L412.9 445.5L411 444.2L409.1 442.9L407.2 441.6L405.3 440.3L403.4 439L401.6 437.7L399.7 436.4L397.8 435.1L395.9 433.8L394 432.6L392.1 431.3L390.2 430L388.3 428.7L386.4 427.5L384.5 426.2L382.6 424.9L380.7 423.7L378.8 422.4L376.9 421.2L375 419.9L373.1 418.7L371.2 417.4L369.3 416.2L367.4 414.9L365.5 413.7L363.6 412.5L361.7 411.2L359.8 410L357.9 408.8L356 407.5L354.1 406.3L352.2 405.1L350.3 403.9L348.4 402.7L346.5 401.5L344.6 400.3L342.7 399.1L340.8 397.9L338.9 396.7L337.1 395.5L335.2 394.3L333.3 393.1L331.4 391.9L329.5 390.7L327.6 389.5M432.8 444.5L430.9 442.9L429.1 441.4L427.2 439.8L425.3 438.3L423.4 436.8L421.5 435.2L419.6 433.7L417.7 432.2L415.8 430.7L413.9 429.2L412 427.7L410.1 426.2L408.2 424.7L406.3 423.2L404.4 421.7L402.5 420.2L400.6 418.8L398.7 417.3L396.8 415.9L394.9 414.4L393 413L391.1 411.5L389.2 410.1L387.3 408.7L385.4 407.2L383.5 405.8L381.6 404.4L379.8 403L377.9 401.6L376 400.2L374.1 398.8L372.2 397.5L370.3 396.1L368.4 394.7L366.5 393.4L364.6 392L362.7 390.6L360.8 389.3L358.9 388L357 386.6L355.1 385.3L353.2 384L351.3 382.7L349.4 381.3L347.5 380L345.6 378.7L343.7 377.4L341.8 376.1L339.9 374.9M445.2 438.2L443.3 436.4L441.4 434.6L439.5 432.9L437.6 431.1L435.7 429.3L433.8 427.6L431.9 425.8L430 424.1L428.1 422.4L426.2 420.6L424.3 418.9L422.4 417.2L420.5 415.5L418.6 413.8L416.7 412.2L414.8 410.5L412.9 408.8L411.1 407.2L409.2 405.5L407.3 403.9L405.4 402.3L403.5 400.6L401.6 399L399.7 397.4L397.8 395.8L395.9 394.3L394 392.7L392.1 391.1L390.2 389.6L388.3 388L386.4 386.5L384.5 384.9L382.6 383.4L380.7 381.9L378.8 380.4L376.9 378.9L375 377.4L373.1 375.9L371.3 374.4L369.4 373L367.5 371.5L365.6 370.1L363.7 368.6L361.8 367.2L359.9 365.8L358 364.4L356.1 363L354.2 361.6L352.3 360.2M457.5 432L455.6 429.9L453.7 427.9L451.8 425.9L449.9 423.9L448 421.9L446.1 419.9L444.2 417.9L442.3 416L440.4 414L438.5 412.1L436.7 410.2L434.8 408.3L432.9 406.4L431 404.5L429.1 402.6L427.2 400.7L425.3 398.9L423.4 397L421.5 395.2L419.6 393.4L417.7 391.6L415.8 389.8L413.9 388L412 386.2L410.1 384.4L408.2 382.7L406.3 380.9L404.4 379.2L402.6 377.5L400.7 375.8L398.8 374.1L396.9 372.4L395 370.7L393.1 369.1L391.2 367.4L389.3 365.8L387.4 364.2L385.5 362.5L383.6 360.9L381.7 359.3L379.8 357.8L377.9 356.2L376 354.6L374.1 353.1L372.2 351.6L370.3 350L368.5 348.5L366.6 347L364.7 345.5M469.8 425.7L467.9 423.4L466 421.2L464.1 418.9L462.2 416.7L460.3 414.5L458.5 412.3L456.6 410.1L454.7 407.9L452.8 405.7L450.9 403.6L449 401.4L447.1 399.3L445.2 397.2L443.3 395.1L441.4 393L439.5 391L437.6 388.9L435.7 386.9L433.8 384.9L431.9 382.8L430 380.9L428.2 378.9L426.3 376.9L424.4 375L422.5 373L420.6 371.1L418.7 369.2L416.8 367.3L414.9 365.4L413 363.6L411.1 361.7L409.2 359.9L407.3 358.1L405.4 356.2L403.5 354.5L401.6 352.7L399.8 350.9L397.9 349.2L396 347.4L394.1 345.7L392.2 344L390.3 342.3L388.4 340.6L386.5 339L384.6 337.3L382.7 335.7L380.8 334.1L378.9 332.5L377 330.9M482.1 419.5L480.2 416.9L478.3 414.4L476.5 412L474.6 409.5L472.7 407L470.8 404.6L468.9 402.2L467 399.8L465.1 397.4L463.2 395L461.3 392.7L459.4 390.4L457.5 388L455.6 385.7L453.7 383.5L451.9 381.2L450 379L448.1 376.7L446.2 374.5L444.3 372.3L442.4 370.1L440.5 368L438.6 365.8L436.7 363.7L434.8 361.6L432.9 359.5L431 357.5L429.1 355.4L427.3 353.4L425.4 351.3L423.5 349.3L421.6 347.3L419.7 345.4L417.8 343.4L415.9 341.5L414 339.6L412.1 337.7L410.2 335.8L408.3 333.9L406.4 332.1L404.5 330.2L402.6 328.4L400.8 326.6L398.9 324.8L397 323.1L395.1 321.3L393.2 319.6L391.3 317.9L389.4 316.2M494.5 413.2L492.6 410.4L490.7 407.7L488.8 405L486.9 402.3L485 399.6L483.1 396.9L481.2 394.3L479.3 391.7L477.4 389.1L475.5 386.5L473.6 383.9L471.8 381.4L469.9 378.9L468 376.4L466.1 373.9L464.2 371.4L462.3 369L460.4 366.6L458.5 364.2L456.6 361.8L454.7 359.4L452.8 357.1L450.9 354.8L449.1 352.5L447.2 350.2L445.3 347.9L443.4 345.7L441.5 343.5L439.6 341.3L437.7 339.1L435.8 337L433.9 334.8L432 332.7L430.1 330.6L428.2 328.5L426.4 326.5L424.5 324.4L422.6 322.4L420.7 320.4L418.8 318.4L416.9 316.5L415 314.5L413.1 312.6L411.2 310.7L409.3 308.8L407.4 307L405.5 305.1L403.7 303.3L401.8 301.5M506.8 407L504.9 404L503 401L501.1 398L499.2 395.1L497.3 392.2L495.4 389.3L493.5 386.4L491.7 383.6L489.8 380.8L487.9 378L486 375.2L484.1 372.5L482.2 369.7L480.3 367L478.4 364.3L476.5 361.7L474.6 359L472.7 356.4L470.9 353.8L469 351.3L467.1 348.7L465.2 346.2L463.3 343.7L461.4 341.3L459.5 338.8L457.6 336.4L455.7 334L453.8 331.6L451.9 329.2L450.1 326.9L448.2 324.6L446.3 322.3L444.4 320L442.5 317.8L440.6 315.6L438.7 313.4L436.8 311.2L434.9 309L433 306.9L431.1 304.8L429.3 302.7L427.4 300.6L425.5 298.6L423.6 296.6L421.7 294.6L419.8 292.6L417.9 290.7L416 288.8L414.1 286.9M519.1 400.7L517.2 397.5L515.3 394.2L513.4 391.1L511.5 387.9L509.7 384.7L507.8 381.6L505.9 378.5L504 375.5L502.1 372.4L500.2 369.4L498.3 366.5L496.4 363.5L494.5 360.6L492.6 357.7L490.8 354.8L488.9 351.9L487 349.1L485.1 346.3L483.2 343.5L481.3 340.8L479.4 338L477.5 335.3L475.6 332.7L473.7 330L471.9 327.4L470 324.8L468.1 322.2L466.2 319.7L464.3 317.2L462.4 314.7L460.5 312.2L458.6 309.8L456.7 307.3L454.8 305L453 302.6L451.1 300.2L449.2 297.9L447.3 295.7L445.4 293.4L443.5 291.2L441.6 288.9L439.7 286.8L437.8 284.6L435.9 282.5L434.1 280.4L432.2 278.3L430.3 276.2L428.4 274.2L426.5 272.2" fill="none" stroke="#000" stroke-width="0.7" stroke-opacity="0.8" stroke-linejoin="round"/>
<g style="font-family:'Liberation Serif',serif;font-size:7.6px" fill="#000" stroke="#000" stroke-width="0.2"><text transform="translate(309.1 408.9) scale(0.98 1)" text-anchor="end">0.02</text><text transform="translate(309.1 389.7) scale(0.98 1)" text-anchor="end">0.025</text><text transform="translate(309.1 370.5) scale(0.98 1)" text-anchor="end">0.03</text><text transform="translate(309.1 351.3) scale(0.98 1)" text-anchor="end">0.035</text><text transform="translate(309.1 332.1) scale(0.98 1)" text-anchor="end">0.04</text><text transform="translate(309.1 312.9) scale(0.98 1)" text-anchor="end">0.045</text><text transform="translate(309.1 293.7) scale(0.98 1)" text-anchor="end">0.05</text><text transform="translate(403.8 469.5) scale(0.98 1)" text-anchor="end">0</text><text transform="translate(384.9 459.1) scale(0.98 1)" text-anchor="end">10</text><text transform="translate(366 448.7) scale(0.98 1)" text-anchor="end">20</text><text transform="translate(347.2 438.3) scale(0.98 1)" text-anchor="end">30</text><text transform="translate(328.3 427.9) scale(0.98 1)" text-anchor="end">40</text><text transform="translate(309.4 417.5) scale(0.98 1)" text-anchor="end">50</text><text transform="translate(412.6 470.7) scale(0.98 1)">0</text><text transform="translate(437.4 462.7) scale(0.98 1)">20</text><text transform="translate(462.2 454.8) scale(0.98 1)">40</text><text transform="translate(486.9 446.8) scale(0.98 1)">60</text><text transform="translate(511.7 438.9) scale(0.98 1)">80</text><text transform="translate(536.5 430.9) scale(0.98 1)">100</text><text x="305" y="472" textLength="54" lengthAdjust="spacingAndGlyphs">Number of Nodes</text><text x="464.5" y="475.5" textLength="17.3" lengthAdjust="spacingAndGlyphs">R (m)</text><text transform="translate(290.6 392.7) scale(0.911 1) rotate(-90)" font-weight="bold" font-size="8.6" textLength="89.8" lengthAdjust="spacingAndGlyphs">Energy Consumption (J)</text></g>
<text x="380.6" y="491.8" textLength="68.5" lengthAdjust="spacingAndGlyphs" style="font-family:'Liberation Serif',serif;font-size:11.6px" fill="#000">(<tspan font-weight="bold">d</tspan>) PSO-SOA</text>
</g>
</svg>
</body></html>
